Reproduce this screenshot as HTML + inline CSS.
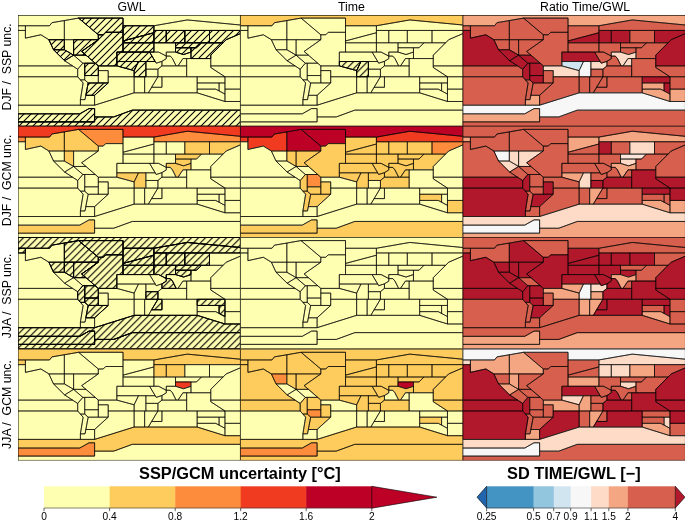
<!DOCTYPE html>
<html><head><meta charset="utf-8"><title>Uncertainty maps</title>
<style>
html,body{margin:0;padding:0;background:#fff;}
body{width:685px;height:524px;overflow:hidden;position:relative;font-family:"Liberation Sans",Arial,sans-serif;}
svg{position:absolute;left:0;top:0;display:block;}
text{font-family:"Liberation Sans",Arial,sans-serif;fill:#000;}
.t{font-size:12.3px;}
.b{font-size:16.35px;font-weight:bold;}
.k{font-size:10.2px;text-anchor:middle;}
.r polygon{stroke-width:0.4;}
.h polygon{stroke:none;}
.o{fill:none;stroke:#000;stroke-width:0.6;stroke-linejoin:round;}
.oh{fill:none;stroke:#000;stroke-width:1.0;stroke-linejoin:round;}
</style></head><body>
<svg width="685" height="524" viewBox="0 0 685 524">
<defs>
<pattern id="hp00" width="7" height="7" patternUnits="userSpaceOnUse" patternTransform="translate(-2,0)">
<path d="M-1,8 L8,-1 M-1,1 L1,-1 M6,8 L8,6" stroke="#000" stroke-width="1.1" fill="none"/>
</pattern>
<pattern id="hp01" width="7" height="7" patternUnits="userSpaceOnUse" patternTransform="translate(2.3,0)">
<path d="M-1,8 L8,-1 M-1,1 L1,-1 M6,8 L8,6" stroke="#000" stroke-width="1.1" fill="none"/>
</pattern>
<pattern id="hp20" width="7" height="7" patternUnits="userSpaceOnUse" patternTransform="translate(2.3,0)">
<path d="M-1,8 L8,-1 M-1,1 L1,-1 M6,8 L8,6" stroke="#000" stroke-width="1.1" fill="none"/>
</pattern>
</defs>
<rect x="0" y="0" width="685" height="524" fill="#fff"/>

<g class="r">
<polygon points="78.54,18.09 98.31,34.77 103.25,34.77 105.72,32.30 123.02,32.30 123.02,18.09" fill="#FFFFB2" stroke="#FFFFB2"/>
<polygon points="64.33,39.71 48.89,39.71 40.86,34.77 25.41,38.17 25.41,25.75 49.51,25.75 51.98,22.66 64.33,20.56" fill="#FFFFB2" stroke="#FFFFB2"/>
<polygon points="98.31,39.71 98.31,34.77 78.54,18.09 64.33,20.56 64.33,39.71" fill="#FFFFB2" stroke="#FFFFB2"/>
<polygon points="48.89,39.71 64.33,39.71 64.33,49.72 53.52,49.72" fill="#FFFFB2" stroke="#FFFFB2"/>
<polygon points="73.60,39.71 73.60,55.16 64.33,49.72 64.33,39.71" fill="#FFFFB2" stroke="#FFFFB2"/>
<polygon points="85.96,55.16 73.60,55.16 73.60,39.71 98.31,39.71 81.63,51.45" fill="#FFFFB2" stroke="#FFFFB2"/>
<polygon points="73.60,55.16 64.64,60.72 53.52,49.72 64.33,49.72" fill="#FFFFB2" stroke="#FFFFB2"/>
<polygon points="82.87,63.19 77.68,69.24 64.64,60.72 73.60,55.16" fill="#FFFFB2" stroke="#FFFFB2"/>
<polygon points="82.87,63.19 73.60,55.16 85.96,55.16 95.22,63.19" fill="#FFFFB2" stroke="#FFFFB2"/>
<polygon points="82.87,63.19 77.68,69.24 77.68,76.78 80.40,79.87 84.72,79.87 84.72,63.19" fill="#FFFFB2" stroke="#FFFFB2"/>
<polygon points="84.72,63.19 84.72,75.54 98.31,75.54 98.31,65.90 95.22,63.19" fill="#FFFFB2" stroke="#FFFFB2"/>
<polygon points="108.20,82.96 98.31,82.96 98.31,70.60 108.20,70.60" fill="#FFFFB2" stroke="#FFFFB2"/>
<polygon points="88.18,82.96 84.72,79.87 84.72,75.54 98.31,75.54 98.31,82.96" fill="#FFFFB2" stroke="#FFFFB2"/>
<polygon points="80.40,79.87 84.72,79.87 88.18,82.96 85.03,99.64 80.40,99.64 83.11,82.96" fill="#FFFFB2" stroke="#FFFFB2"/>
<polygon points="108.20,82.96 94.60,95.31 85.83,95.31 88.18,82.96" fill="#FFFFB2" stroke="#FFFFB2"/>
<polygon points="80.40,105.20 80.40,99.64 85.03,99.64 85.83,95.31 94.60,95.31 94.60,105.20" fill="#FFFFB2" stroke="#FFFFB2"/>
<polygon points="123.02,40.95 123.02,25.75 153.91,25.75 153.91,32.73" fill="#FFFFB2" stroke="#FFFFB2"/>
<polygon points="123.02,42.80 123.02,40.95 153.91,32.73 153.91,42.80" fill="#FFFFB2" stroke="#FFFFB2"/>
<polygon points="153.91,42.80 153.91,30.44 166.27,30.44 166.27,42.80" fill="#FFFFB2" stroke="#FFFFB2"/>
<polygon points="123.02,52.07 123.02,42.80 153.91,42.80 153.91,52.07" fill="#FFFFB2" stroke="#FFFFB2"/>
<polygon points="116.84,61.52 116.84,52.07 149.59,52.07 155.21,61.52" fill="#FFFFB2" stroke="#FFFFB2"/>
<polygon points="116.84,65.90 116.84,61.52 138.47,61.52 134.14,70.60" fill="#FFFFB2" stroke="#FFFFB2"/>
<polygon points="134.14,70.60 138.47,61.52 145.88,61.52 145.88,76.78 134.14,76.78" fill="#FFFFB2" stroke="#FFFFB2"/>
<polygon points="145.88,61.52 155.21,61.52 156.20,63.19 161.94,61.33 161.94,65.90 157.93,69.18 145.88,69.18" fill="#FFFFB2" stroke="#FFFFB2"/>
<polygon points="145.88,76.78 145.88,69.18 157.93,69.18 157.93,76.78" fill="#FFFFB2" stroke="#FFFFB2"/>
<polygon points="134.14,92.84 134.14,76.78 144.64,76.78 144.64,92.84" fill="#FFFFB2" stroke="#FFFFB2"/>
<polygon points="144.64,76.78 144.64,92.84 148.35,92.84 157.93,76.78" fill="#FFFFB2" stroke="#FFFFB2"/>
<polygon points="151.56,87.28 157.93,76.78 161.94,76.78 161.94,87.28" fill="#FFFFB2" stroke="#FFFFB2"/>
<polygon points="153.91,30.44 153.91,25.75 187.27,19.94 240.40,25.01 240.40,30.44" fill="#FFFFB2" stroke="#FFFFB2"/>
<polygon points="18.00,30.44 18.00,25.75 25.41,25.75 25.41,30.44" fill="#FFFFB2" stroke="#FFFFB2"/>
<polygon points="166.27,42.80 166.27,30.44 184.80,30.44 184.80,42.80" fill="#FFFFB2" stroke="#FFFFB2"/>
<polygon points="184.80,42.80 184.80,30.44 209.51,30.44 209.51,42.80" fill="#FFFFB2" stroke="#FFFFB2"/>
<polygon points="209.51,42.80 209.51,30.44 240.40,30.44 240.40,33.60 226.19,39.71 223.10,42.80" fill="#FFFFB2" stroke="#FFFFB2"/>
<polygon points="153.91,52.07 153.91,42.80 175.53,42.80 175.53,52.07 166.27,52.07 166.27,56.08 158.61,52.07" fill="#FFFFB2" stroke="#FFFFB2"/>
<polygon points="175.53,47.74 175.53,42.80 201.48,42.80 196.54,47.74" fill="#FFFFB2" stroke="#FFFFB2"/>
<polygon points="175.53,52.07 175.53,47.74 190.98,47.74 190.98,52.07 183.56,54.54" fill="#FFFFB2" stroke="#FFFFB2"/>
<polygon points="190.98,58.55 190.98,47.74 196.54,47.74 201.48,42.80 223.10,42.80 210.75,55.16 210.75,58.55" fill="#FFFFB2" stroke="#FFFFB2"/>
<polygon points="149.59,52.07 158.61,52.07 166.27,56.08 166.27,58.68 161.94,61.33 156.20,63.19 155.21,61.52" fill="#FFFFB2" stroke="#FFFFB2"/>
<polygon points="166.27,56.08 166.27,52.07 175.53,52.07 183.56,54.54 190.98,52.07 190.98,58.55 182.95,58.55 178.00,65.90 176.15,65.90 172.44,58.55 170.28,56.08" fill="#FFFFB2" stroke="#FFFFB2"/>
<polygon points="186.65,76.78 186.65,58.55 210.75,58.55 210.75,67.51 224.96,76.78" fill="#FFFFB2" stroke="#FFFFB2"/>
<polygon points="197.16,82.96 197.16,76.78 224.96,76.78 224.96,82.96" fill="#FFFFB2" stroke="#FFFFB2"/>
<polygon points="197.16,89.13 197.16,82.96 219.09,82.96 219.09,90.92 215.69,89.13" fill="#FFFFB2" stroke="#FFFFB2"/>
<polygon points="219.09,82.96 224.96,82.96 224.96,94.08 219.09,90.92" fill="#FFFFB2" stroke="#FFFFB2"/>
<polygon points="197.16,92.84 197.16,89.13 215.69,89.13 224.96,94.08 224.96,101.49" fill="#FFFFB2" stroke="#FFFFB2"/>
<polygon points="224.96,89.13 224.96,101.49 240.40,101.49 240.40,89.13" fill="#FFFFB2" stroke="#FFFFB2"/>
<polygon points="18.00,121.88 94.60,121.88 94.60,116.93 113.76,116.93 132.29,110.14 240.40,110.14 240.40,126.20 18.00,126.20" fill="#FFFFB2" stroke="#FFFFB2"/>
<polygon points="18.00,121.88 18.00,113.84 79.78,113.84 89.04,108.59 94.60,108.59 94.60,121.88" fill="#FFFFB2" stroke="#FFFFB2"/>
<polygon points="18.00,25.75 49.51,25.75 51.98,22.66 64.33,20.56 78.54,18.09 123.02,18.09 123.02,25.75 153.91,25.75 187.27,19.94 240.40,25.01 240.40,15.00 18.00,15.00" fill="#FFFFB2" stroke="#FFFFB2"/>
<polygon points="210.75,65.90 210.75,55.16 223.10,42.80 226.19,39.71 240.40,33.60 240.40,65.90" fill="#FFFFB2" stroke="#FFFFB2"/>
<polygon points="18.00,65.90 18.00,30.44 25.41,30.44 25.41,38.17 40.86,34.77 48.89,39.71 53.52,49.72 64.64,60.72 72.55,65.90" fill="#FFFFB2" stroke="#FFFFB2"/>
<polygon points="210.75,65.90 240.40,65.90 240.40,76.78 224.96,76.78 210.75,67.51" fill="#FFFFB2" stroke="#FFFFB2"/>
<polygon points="18.00,65.90 72.55,65.90 77.68,69.24 77.68,76.78 18.00,76.78" fill="#FFFFB2" stroke="#FFFFB2"/>
<polygon points="224.96,76.78 240.40,76.78 240.40,89.13 224.96,89.13" fill="#FFFFB2" stroke="#FFFFB2"/>
<polygon points="18.00,76.78 77.68,76.78 80.40,79.87 83.11,82.96 80.40,99.64 80.40,105.20 18.00,105.20" fill="#FFFFB2" stroke="#FFFFB2"/>
<polygon points="123.02,52.07 123.02,32.30 105.72,32.30 103.25,34.77 98.31,34.77 98.31,39.71 81.63,51.45 85.96,55.16 95.22,63.19 98.31,65.90 116.84,65.90 116.84,52.07" fill="#FFFFB2" stroke="#FFFFB2"/>
<polygon points="98.31,65.90 98.31,70.60 108.20,70.60 108.20,76.78 134.14,76.78 134.14,70.60 116.84,65.90" fill="#FFFFB2" stroke="#FFFFB2"/>
<polygon points="108.20,76.78 108.20,82.96 94.60,95.31 94.60,105.20 134.14,92.84 134.14,76.78" fill="#FFFFB2" stroke="#FFFFB2"/>
<polygon points="161.94,65.90 161.94,61.33 166.27,58.68 166.27,56.08 170.28,56.08 172.44,58.55 176.15,65.90" fill="#FFFFB2" stroke="#FFFFB2"/>
<polygon points="178.00,65.90 182.95,58.55 186.65,58.55 186.65,65.90" fill="#FFFFB2" stroke="#FFFFB2"/>
<polygon points="157.93,76.78 157.93,69.18 161.94,65.90 186.65,65.90 186.65,76.78" fill="#FFFFB2" stroke="#FFFFB2"/>
<polygon points="148.35,92.84 151.56,87.28 161.94,87.28 161.94,76.78 197.16,76.78 197.16,92.84" fill="#FFFFB2" stroke="#FFFFB2"/>
<polygon points="18.00,105.20 94.60,105.20 134.14,92.84 197.16,92.84 224.96,101.49 240.40,101.49 240.40,110.14 132.29,110.14 113.76,116.93 94.60,116.93 94.60,108.59 89.04,108.59 79.78,113.84 18.00,113.84" fill="#FFFFB2" stroke="#FFFFB2"/>
</g>
<g class="h" fill="url(#hp00)">
<polygon points="78.54,18.09 98.31,34.77 103.25,34.77 105.72,32.30 123.02,32.30 123.02,18.09"/>
<polygon points="48.89,39.71 64.33,39.71 64.33,49.72 53.52,49.72"/>
<polygon points="85.96,55.16 73.60,55.16 73.60,39.71 98.31,39.71 81.63,51.45"/>
<polygon points="73.60,55.16 64.64,60.72 53.52,49.72 64.33,49.72"/>
<polygon points="123.02,52.07 123.02,32.30 105.72,32.30 103.25,34.77 98.31,34.77 98.31,39.71 81.63,51.45 85.96,55.16 95.22,63.19 98.31,65.90 116.84,65.90 116.84,52.07"/>
<polygon points="84.72,63.19 84.72,75.54 98.31,75.54 98.31,65.90 95.22,63.19"/>
<polygon points="108.20,82.96 94.60,95.31 85.83,95.31 88.18,82.96"/>
<polygon points="123.02,40.95 123.02,25.75 153.91,25.75 153.91,32.73"/>
<polygon points="123.02,42.80 123.02,40.95 153.91,32.73 153.91,42.80"/>
<polygon points="123.02,52.07 123.02,42.80 153.91,42.80 153.91,52.07"/>
<polygon points="116.84,61.52 116.84,52.07 149.59,52.07 155.21,61.52"/>
<polygon points="116.84,65.90 116.84,61.52 138.47,61.52 134.14,70.60"/>
<polygon points="134.14,70.60 138.47,61.52 145.88,61.52 145.88,76.78 134.14,76.78"/>
<polygon points="153.91,42.80 153.91,30.44 166.27,30.44 166.27,42.80"/>
<polygon points="166.27,42.80 166.27,30.44 184.80,30.44 184.80,42.80"/>
<polygon points="184.80,42.80 184.80,30.44 209.51,30.44 209.51,42.80"/>
<polygon points="209.51,42.80 209.51,30.44 240.40,30.44 240.40,33.60 226.19,39.71 223.10,42.80"/>
<polygon points="175.53,47.74 175.53,42.80 201.48,42.80 196.54,47.74"/>
<polygon points="175.53,52.07 175.53,47.74 190.98,47.74 190.98,52.07 183.56,54.54"/>
<polygon points="190.98,58.55 190.98,47.74 196.54,47.74 201.48,42.80 223.10,42.80 210.75,55.16 210.75,58.55"/>
<polygon points="18.00,121.88 18.00,113.84 79.78,113.84 89.04,108.59 94.60,108.59 94.60,121.88"/>
<polygon points="18.00,121.88 94.60,121.88 94.60,116.93 113.76,116.93 132.29,110.14 240.40,110.14 240.40,126.20 18.00,126.20"/>
</g>
<path class="o" d="M78.54,18.09 L98.31,34.77 L103.25,34.77 L105.72,32.30 L123.02,32.30 L123.02,18.09ZM64.33,39.71 L48.89,39.71 L40.86,34.77 L25.41,38.17 L25.41,25.75 L49.51,25.75 L51.98,22.66 L64.33,20.56ZM98.31,39.71 L98.31,34.77 L78.54,18.09 L64.33,20.56 L64.33,39.71ZM48.89,39.71 L64.33,39.71 L64.33,49.72 L53.52,49.72ZM73.60,39.71 L73.60,55.16 L64.33,49.72 L64.33,39.71ZM85.96,55.16 L73.60,55.16 L73.60,39.71 L98.31,39.71 L81.63,51.45ZM73.60,55.16 L64.64,60.72 L53.52,49.72 L64.33,49.72ZM82.87,63.19 L77.68,69.24 L64.64,60.72 L73.60,55.16ZM82.87,63.19 L73.60,55.16 L85.96,55.16 L95.22,63.19ZM82.87,63.19 L77.68,69.24 L77.68,76.78 L80.40,79.87 L84.72,79.87 L84.72,63.19ZM84.72,63.19 L84.72,75.54 L98.31,75.54 L98.31,65.90 L95.22,63.19ZM108.20,82.96 L98.31,82.96 L98.31,70.60 L108.20,70.60ZM88.18,82.96 L84.72,79.87 L84.72,75.54 L98.31,75.54 L98.31,82.96ZM80.40,79.87 L84.72,79.87 L88.18,82.96 L85.03,99.64 L80.40,99.64 L83.11,82.96ZM108.20,82.96 L94.60,95.31 L85.83,95.31 L88.18,82.96ZM80.40,105.20 L80.40,99.64 L85.03,99.64 L85.83,95.31 L94.60,95.31 L94.60,105.20ZM123.02,40.95 L123.02,25.75 L153.91,25.75 L153.91,32.73ZM123.02,42.80 L123.02,40.95 L153.91,32.73 L153.91,42.80ZM153.91,42.80 L153.91,30.44 L166.27,30.44 L166.27,42.80ZM123.02,52.07 L123.02,42.80 L153.91,42.80 L153.91,52.07ZM116.84,61.52 L116.84,52.07 L149.59,52.07 L155.21,61.52ZM116.84,65.90 L116.84,61.52 L138.47,61.52 L134.14,70.60ZM134.14,70.60 L138.47,61.52 L145.88,61.52 L145.88,76.78 L134.14,76.78ZM145.88,61.52 L155.21,61.52 L156.20,63.19 L161.94,61.33 L161.94,65.90 L157.93,69.18 L145.88,69.18ZM145.88,76.78 L145.88,69.18 L157.93,69.18 L157.93,76.78ZM134.14,92.84 L134.14,76.78 L144.64,76.78 L144.64,92.84ZM144.64,76.78 L144.64,92.84 L148.35,92.84 L157.93,76.78ZM151.56,87.28 L157.93,76.78 L161.94,76.78 L161.94,87.28ZM153.91,30.44 L153.91,25.75 L187.27,19.94 L240.40,25.01 L240.40,30.44ZM18.00,30.44 L18.00,25.75 L25.41,25.75 L25.41,30.44ZM166.27,42.80 L166.27,30.44 L184.80,30.44 L184.80,42.80ZM184.80,42.80 L184.80,30.44 L209.51,30.44 L209.51,42.80ZM209.51,42.80 L209.51,30.44 L240.40,30.44 L240.40,33.60 L226.19,39.71 L223.10,42.80ZM153.91,52.07 L153.91,42.80 L175.53,42.80 L175.53,52.07 L166.27,52.07 L166.27,56.08 L158.61,52.07ZM175.53,47.74 L175.53,42.80 L201.48,42.80 L196.54,47.74ZM175.53,52.07 L175.53,47.74 L190.98,47.74 L190.98,52.07 L183.56,54.54ZM190.98,58.55 L190.98,47.74 L196.54,47.74 L201.48,42.80 L223.10,42.80 L210.75,55.16 L210.75,58.55ZM149.59,52.07 L158.61,52.07 L166.27,56.08 L166.27,58.68 L161.94,61.33 L156.20,63.19 L155.21,61.52ZM166.27,56.08 L166.27,52.07 L175.53,52.07 L183.56,54.54 L190.98,52.07 L190.98,58.55 L182.95,58.55 L178.00,65.90 L176.15,65.90 L172.44,58.55 L170.28,56.08ZM186.65,76.78 L186.65,58.55 L210.75,58.55 L210.75,67.51 L224.96,76.78ZM197.16,82.96 L197.16,76.78 L224.96,76.78 L224.96,82.96ZM197.16,89.13 L197.16,82.96 L219.09,82.96 L219.09,90.92 L215.69,89.13ZM219.09,82.96 L224.96,82.96 L224.96,94.08 L219.09,90.92ZM197.16,92.84 L197.16,89.13 L215.69,89.13 L224.96,94.08 L224.96,101.49ZM224.96,89.13 L224.96,101.49 L240.40,101.49 L240.40,89.13ZM18.00,121.88 L94.60,121.88 L94.60,116.93 L113.76,116.93 L132.29,110.14 L240.40,110.14 L240.40,126.20 L18.00,126.20ZM18.00,121.88 L18.00,113.84 L79.78,113.84 L89.04,108.59 L94.60,108.59 L94.60,121.88ZM18.00,25.75 L49.51,25.75 L51.98,22.66 L64.33,20.56 L78.54,18.09 L123.02,18.09 L123.02,25.75 L153.91,25.75 L187.27,19.94 L240.40,25.01 L240.40,15.00 L18.00,15.00ZM210.75,65.90 L210.75,55.16 L223.10,42.80 L226.19,39.71 L240.40,33.60 L240.40,65.90ZM18.00,65.90 L18.00,30.44 L25.41,30.44 L25.41,38.17 L40.86,34.77 L48.89,39.71 L53.52,49.72 L64.64,60.72 L72.55,65.90ZM210.75,65.90 L240.40,65.90 L240.40,76.78 L224.96,76.78 L210.75,67.51ZM18.00,65.90 L72.55,65.90 L77.68,69.24 L77.68,76.78 L18.00,76.78ZM224.96,76.78 L240.40,76.78 L240.40,89.13 L224.96,89.13ZM18.00,76.78 L77.68,76.78 L80.40,79.87 L83.11,82.96 L80.40,99.64 L80.40,105.20 L18.00,105.20ZM123.02,52.07 L123.02,32.30 L105.72,32.30 L103.25,34.77 L98.31,34.77 L98.31,39.71 L81.63,51.45 L85.96,55.16 L95.22,63.19 L98.31,65.90 L116.84,65.90 L116.84,52.07ZM98.31,65.90 L98.31,70.60 L108.20,70.60 L108.20,76.78 L134.14,76.78 L134.14,70.60 L116.84,65.90ZM108.20,76.78 L108.20,82.96 L94.60,95.31 L94.60,105.20 L134.14,92.84 L134.14,76.78ZM161.94,65.90 L161.94,61.33 L166.27,58.68 L166.27,56.08 L170.28,56.08 L172.44,58.55 L176.15,65.90ZM178.00,65.90 L182.95,58.55 L186.65,58.55 L186.65,65.90ZM157.93,76.78 L157.93,69.18 L161.94,65.90 L186.65,65.90 L186.65,76.78ZM148.35,92.84 L151.56,87.28 L161.94,87.28 L161.94,76.78 L197.16,76.78 L197.16,92.84ZM18.00,105.20 L94.60,105.20 L134.14,92.84 L197.16,92.84 L224.96,101.49 L240.40,101.49 L240.40,110.14 L132.29,110.14 L113.76,116.93 L94.60,116.93 L94.60,108.59 L89.04,108.59 L79.78,113.84 L18.00,113.84Z"/>
<path class="oh" d="M78.54,18.09 L98.31,34.77 L103.25,34.77 L105.72,32.30 L123.02,32.30 L123.02,18.09ZM48.89,39.71 L64.33,39.71 L64.33,49.72 L53.52,49.72ZM85.96,55.16 L73.60,55.16 L73.60,39.71 L98.31,39.71 L81.63,51.45ZM73.60,55.16 L64.64,60.72 L53.52,49.72 L64.33,49.72ZM123.02,52.07 L123.02,32.30 L105.72,32.30 L103.25,34.77 L98.31,34.77 L98.31,39.71 L81.63,51.45 L85.96,55.16 L95.22,63.19 L98.31,65.90 L116.84,65.90 L116.84,52.07ZM84.72,63.19 L84.72,75.54 L98.31,75.54 L98.31,65.90 L95.22,63.19ZM108.20,82.96 L94.60,95.31 L85.83,95.31 L88.18,82.96ZM123.02,40.95 L123.02,25.75 L153.91,25.75 L153.91,32.73ZM123.02,42.80 L123.02,40.95 L153.91,32.73 L153.91,42.80ZM123.02,52.07 L123.02,42.80 L153.91,42.80 L153.91,52.07ZM116.84,61.52 L116.84,52.07 L149.59,52.07 L155.21,61.52ZM116.84,65.90 L116.84,61.52 L138.47,61.52 L134.14,70.60ZM134.14,70.60 L138.47,61.52 L145.88,61.52 L145.88,76.78 L134.14,76.78ZM153.91,42.80 L153.91,30.44 L166.27,30.44 L166.27,42.80ZM166.27,42.80 L166.27,30.44 L184.80,30.44 L184.80,42.80ZM184.80,42.80 L184.80,30.44 L209.51,30.44 L209.51,42.80ZM209.51,42.80 L209.51,30.44 L240.40,30.44 L240.40,33.60 L226.19,39.71 L223.10,42.80ZM175.53,47.74 L175.53,42.80 L201.48,42.80 L196.54,47.74ZM175.53,52.07 L175.53,47.74 L190.98,47.74 L190.98,52.07 L183.56,54.54ZM190.98,58.55 L190.98,47.74 L196.54,47.74 L201.48,42.80 L223.10,42.80 L210.75,55.16 L210.75,58.55ZM18.00,121.88 L18.00,113.84 L79.78,113.84 L89.04,108.59 L94.60,108.59 L94.60,121.88ZM18.00,121.88 L94.60,121.88 L94.60,116.93 L113.76,116.93 L132.29,110.14 L240.40,110.14 L240.40,126.20 L18.00,126.20Z"/>
<g class="r">
<polygon points="301.04,18.09 320.81,34.77 325.75,34.77 328.22,32.30 345.52,32.30 345.52,18.09" fill="#FFFFB2" stroke="#FFFFB2"/>
<polygon points="286.83,39.71 271.39,39.71 263.36,34.77 247.91,38.17 247.91,25.75 272.01,25.75 274.48,22.66 286.83,20.56" fill="#FFFFB2" stroke="#FFFFB2"/>
<polygon points="320.81,39.71 320.81,34.77 301.04,18.09 286.83,20.56 286.83,39.71" fill="#FFFFB2" stroke="#FFFFB2"/>
<polygon points="271.39,39.71 286.83,39.71 286.83,49.72 276.02,49.72" fill="#FFFFB2" stroke="#FFFFB2"/>
<polygon points="296.10,39.71 296.10,55.16 286.83,49.72 286.83,39.71" fill="#FFFFB2" stroke="#FFFFB2"/>
<polygon points="308.46,55.16 296.10,55.16 296.10,39.71 320.81,39.71 304.13,51.45" fill="#FFFFB2" stroke="#FFFFB2"/>
<polygon points="296.10,55.16 287.14,60.72 276.02,49.72 286.83,49.72" fill="#FFFFB2" stroke="#FFFFB2"/>
<polygon points="305.37,63.19 300.18,69.24 287.14,60.72 296.10,55.16" fill="#FFFFB2" stroke="#FFFFB2"/>
<polygon points="305.37,63.19 296.10,55.16 308.46,55.16 317.72,63.19" fill="#FFFFB2" stroke="#FFFFB2"/>
<polygon points="305.37,63.19 300.18,69.24 300.18,76.78 302.90,79.87 307.22,79.87 307.22,63.19" fill="#FFFFB2" stroke="#FFFFB2"/>
<polygon points="307.22,63.19 307.22,75.54 320.81,75.54 320.81,65.90 317.72,63.19" fill="#FFFFB2" stroke="#FFFFB2"/>
<polygon points="330.70,82.96 320.81,82.96 320.81,70.60 330.70,70.60" fill="#FFFFB2" stroke="#FFFFB2"/>
<polygon points="310.68,82.96 307.22,79.87 307.22,75.54 320.81,75.54 320.81,82.96" fill="#FFFFB2" stroke="#FFFFB2"/>
<polygon points="302.90,79.87 307.22,79.87 310.68,82.96 307.53,99.64 302.90,99.64 305.61,82.96" fill="#FFFFB2" stroke="#FFFFB2"/>
<polygon points="330.70,82.96 317.10,95.31 308.33,95.31 310.68,82.96" fill="#FFFFB2" stroke="#FFFFB2"/>
<polygon points="302.90,105.20 302.90,99.64 307.53,99.64 308.33,95.31 317.10,95.31 317.10,105.20" fill="#FFFFB2" stroke="#FFFFB2"/>
<polygon points="345.52,40.95 345.52,25.75 376.41,25.75 376.41,32.73" fill="#FFFFB2" stroke="#FFFFB2"/>
<polygon points="345.52,42.80 345.52,40.95 376.41,32.73 376.41,42.80" fill="#FFFFB2" stroke="#FFFFB2"/>
<polygon points="376.41,42.80 376.41,30.44 388.77,30.44 388.77,42.80" fill="#FFFFB2" stroke="#FFFFB2"/>
<polygon points="345.52,52.07 345.52,42.80 376.41,42.80 376.41,52.07" fill="#FFFFB2" stroke="#FFFFB2"/>
<polygon points="339.34,61.52 339.34,52.07 372.09,52.07 377.71,61.52" fill="#FFFFB2" stroke="#FFFFB2"/>
<polygon points="339.34,65.90 339.34,61.52 360.97,61.52 356.64,70.60" fill="#FFFFB2" stroke="#FFFFB2"/>
<polygon points="356.64,70.60 360.97,61.52 368.38,61.52 368.38,76.78 356.64,76.78" fill="#FFFFB2" stroke="#FFFFB2"/>
<polygon points="368.38,61.52 377.71,61.52 378.70,63.19 384.44,61.33 384.44,65.90 380.43,69.18 368.38,69.18" fill="#FFFFB2" stroke="#FFFFB2"/>
<polygon points="368.38,76.78 368.38,69.18 380.43,69.18 380.43,76.78" fill="#FFFFB2" stroke="#FFFFB2"/>
<polygon points="356.64,92.84 356.64,76.78 367.14,76.78 367.14,92.84" fill="#FFFFB2" stroke="#FFFFB2"/>
<polygon points="367.14,76.78 367.14,92.84 370.85,92.84 380.43,76.78" fill="#FFFFB2" stroke="#FFFFB2"/>
<polygon points="374.06,87.28 380.43,76.78 384.44,76.78 384.44,87.28" fill="#FFFFB2" stroke="#FFFFB2"/>
<polygon points="376.41,30.44 376.41,25.75 409.77,19.94 462.90,25.01 462.90,30.44" fill="#FFFFB2" stroke="#FFFFB2"/>
<polygon points="240.50,30.44 240.50,25.75 247.91,25.75 247.91,30.44" fill="#FFFFB2" stroke="#FFFFB2"/>
<polygon points="388.77,42.80 388.77,30.44 407.30,30.44 407.30,42.80" fill="#FFFFB2" stroke="#FFFFB2"/>
<polygon points="407.30,42.80 407.30,30.44 432.01,30.44 432.01,42.80" fill="#FFFFB2" stroke="#FFFFB2"/>
<polygon points="432.01,42.80 432.01,30.44 462.90,30.44 462.90,33.60 448.69,39.71 445.60,42.80" fill="#FFFFB2" stroke="#FFFFB2"/>
<polygon points="376.41,52.07 376.41,42.80 398.03,42.80 398.03,52.07 388.77,52.07 388.77,56.08 381.11,52.07" fill="#FFFFB2" stroke="#FFFFB2"/>
<polygon points="398.03,47.74 398.03,42.80 423.98,42.80 419.04,47.74" fill="#FFFFB2" stroke="#FFFFB2"/>
<polygon points="398.03,52.07 398.03,47.74 413.48,47.74 413.48,52.07 406.06,54.54" fill="#FFFFB2" stroke="#FFFFB2"/>
<polygon points="413.48,58.55 413.48,47.74 419.04,47.74 423.98,42.80 445.60,42.80 433.25,55.16 433.25,58.55" fill="#FFFFB2" stroke="#FFFFB2"/>
<polygon points="372.09,52.07 381.11,52.07 388.77,56.08 388.77,58.68 384.44,61.33 378.70,63.19 377.71,61.52" fill="#FFFFB2" stroke="#FFFFB2"/>
<polygon points="388.77,56.08 388.77,52.07 398.03,52.07 406.06,54.54 413.48,52.07 413.48,58.55 405.45,58.55 400.50,65.90 398.65,65.90 394.94,58.55 392.78,56.08" fill="#FFFFB2" stroke="#FFFFB2"/>
<polygon points="409.15,76.78 409.15,58.55 433.25,58.55 433.25,67.51 447.46,76.78" fill="#FFFFB2" stroke="#FFFFB2"/>
<polygon points="419.66,82.96 419.66,76.78 447.46,76.78 447.46,82.96" fill="#FFFFB2" stroke="#FFFFB2"/>
<polygon points="419.66,89.13 419.66,82.96 441.59,82.96 441.59,90.92 438.19,89.13" fill="#FFFFB2" stroke="#FFFFB2"/>
<polygon points="441.59,82.96 447.46,82.96 447.46,94.08 441.59,90.92" fill="#FFFFB2" stroke="#FFFFB2"/>
<polygon points="419.66,92.84 419.66,89.13 438.19,89.13 447.46,94.08 447.46,101.49" fill="#FFFFB2" stroke="#FFFFB2"/>
<polygon points="447.46,89.13 447.46,101.49 462.90,101.49 462.90,89.13" fill="#FFFFB2" stroke="#FFFFB2"/>
<polygon points="240.50,121.88 317.10,121.88 317.10,116.93 336.26,116.93 354.79,110.14 462.90,110.14 462.90,126.20 240.50,126.20" fill="#FFFFB2" stroke="#FFFFB2"/>
<polygon points="240.50,121.88 240.50,113.84 302.28,113.84 311.54,108.59 317.10,108.59 317.10,121.88" fill="#FFFFB2" stroke="#FFFFB2"/>
<polygon points="240.50,25.75 272.01,25.75 274.48,22.66 286.83,20.56 301.04,18.09 345.52,18.09 345.52,25.75 376.41,25.75 409.77,19.94 462.90,25.01 462.90,15.00 240.50,15.00" fill="#FECC5C" stroke="#FECC5C"/>
<polygon points="433.25,65.90 433.25,55.16 445.60,42.80 448.69,39.71 462.90,33.60 462.90,65.90" fill="#FFFFB2" stroke="#FFFFB2"/>
<polygon points="240.50,65.90 240.50,30.44 247.91,30.44 247.91,38.17 263.36,34.77 271.39,39.71 276.02,49.72 287.14,60.72 295.05,65.90" fill="#FFFFB2" stroke="#FFFFB2"/>
<polygon points="433.25,65.90 462.90,65.90 462.90,76.78 447.46,76.78 433.25,67.51" fill="#FFFFB2" stroke="#FFFFB2"/>
<polygon points="240.50,65.90 295.05,65.90 300.18,69.24 300.18,76.78 240.50,76.78" fill="#FFFFB2" stroke="#FFFFB2"/>
<polygon points="447.46,76.78 462.90,76.78 462.90,89.13 447.46,89.13" fill="#FFFFB2" stroke="#FFFFB2"/>
<polygon points="240.50,76.78 300.18,76.78 302.90,79.87 305.61,82.96 302.90,99.64 302.90,105.20 240.50,105.20" fill="#FFFFB2" stroke="#FFFFB2"/>
<polygon points="345.52,52.07 345.52,32.30 328.22,32.30 325.75,34.77 320.81,34.77 320.81,39.71 304.13,51.45 308.46,55.16 317.72,63.19 320.81,65.90 339.34,65.90 339.34,52.07" fill="#FFFFB2" stroke="#FFFFB2"/>
<polygon points="320.81,65.90 320.81,70.60 330.70,70.60 330.70,76.78 356.64,76.78 356.64,70.60 339.34,65.90" fill="#FFFFB2" stroke="#FFFFB2"/>
<polygon points="330.70,76.78 330.70,82.96 317.10,95.31 317.10,105.20 356.64,92.84 356.64,76.78" fill="#FFFFB2" stroke="#FFFFB2"/>
<polygon points="384.44,65.90 384.44,61.33 388.77,58.68 388.77,56.08 392.78,56.08 394.94,58.55 398.65,65.90" fill="#FFFFB2" stroke="#FFFFB2"/>
<polygon points="400.50,65.90 405.45,58.55 409.15,58.55 409.15,65.90" fill="#FFFFB2" stroke="#FFFFB2"/>
<polygon points="380.43,76.78 380.43,69.18 384.44,65.90 409.15,65.90 409.15,76.78" fill="#FFFFB2" stroke="#FFFFB2"/>
<polygon points="370.85,92.84 374.06,87.28 384.44,87.28 384.44,76.78 419.66,76.78 419.66,92.84" fill="#FFFFB2" stroke="#FFFFB2"/>
<polygon points="240.50,105.20 317.10,105.20 356.64,92.84 419.66,92.84 447.46,101.49 462.90,101.49 462.90,110.14 354.79,110.14 336.26,116.93 317.10,116.93 317.10,108.59 311.54,108.59 302.28,113.84 240.50,113.84" fill="#FFFFB2" stroke="#FFFFB2"/>
</g>
<g class="h" fill="url(#hp01)">
<polygon points="339.34,65.90 339.34,61.52 360.97,61.52 356.64,70.60"/>
<polygon points="356.64,70.60 360.97,61.52 368.38,61.52 368.38,76.78 356.64,76.78"/>
</g>
<path class="o" d="M301.04,18.09 L320.81,34.77 L325.75,34.77 L328.22,32.30 L345.52,32.30 L345.52,18.09ZM286.83,39.71 L271.39,39.71 L263.36,34.77 L247.91,38.17 L247.91,25.75 L272.01,25.75 L274.48,22.66 L286.83,20.56ZM320.81,39.71 L320.81,34.77 L301.04,18.09 L286.83,20.56 L286.83,39.71ZM271.39,39.71 L286.83,39.71 L286.83,49.72 L276.02,49.72ZM296.10,39.71 L296.10,55.16 L286.83,49.72 L286.83,39.71ZM308.46,55.16 L296.10,55.16 L296.10,39.71 L320.81,39.71 L304.13,51.45ZM296.10,55.16 L287.14,60.72 L276.02,49.72 L286.83,49.72ZM305.37,63.19 L300.18,69.24 L287.14,60.72 L296.10,55.16ZM305.37,63.19 L296.10,55.16 L308.46,55.16 L317.72,63.19ZM305.37,63.19 L300.18,69.24 L300.18,76.78 L302.90,79.87 L307.22,79.87 L307.22,63.19ZM307.22,63.19 L307.22,75.54 L320.81,75.54 L320.81,65.90 L317.72,63.19ZM330.70,82.96 L320.81,82.96 L320.81,70.60 L330.70,70.60ZM310.68,82.96 L307.22,79.87 L307.22,75.54 L320.81,75.54 L320.81,82.96ZM302.90,79.87 L307.22,79.87 L310.68,82.96 L307.53,99.64 L302.90,99.64 L305.61,82.96ZM330.70,82.96 L317.10,95.31 L308.33,95.31 L310.68,82.96ZM302.90,105.20 L302.90,99.64 L307.53,99.64 L308.33,95.31 L317.10,95.31 L317.10,105.20ZM345.52,40.95 L345.52,25.75 L376.41,25.75 L376.41,32.73ZM345.52,42.80 L345.52,40.95 L376.41,32.73 L376.41,42.80ZM376.41,42.80 L376.41,30.44 L388.77,30.44 L388.77,42.80ZM345.52,52.07 L345.52,42.80 L376.41,42.80 L376.41,52.07ZM339.34,61.52 L339.34,52.07 L372.09,52.07 L377.71,61.52ZM339.34,65.90 L339.34,61.52 L360.97,61.52 L356.64,70.60ZM356.64,70.60 L360.97,61.52 L368.38,61.52 L368.38,76.78 L356.64,76.78ZM368.38,61.52 L377.71,61.52 L378.70,63.19 L384.44,61.33 L384.44,65.90 L380.43,69.18 L368.38,69.18ZM368.38,76.78 L368.38,69.18 L380.43,69.18 L380.43,76.78ZM356.64,92.84 L356.64,76.78 L367.14,76.78 L367.14,92.84ZM367.14,76.78 L367.14,92.84 L370.85,92.84 L380.43,76.78ZM374.06,87.28 L380.43,76.78 L384.44,76.78 L384.44,87.28ZM376.41,30.44 L376.41,25.75 L409.77,19.94 L462.90,25.01 L462.90,30.44ZM240.50,30.44 L240.50,25.75 L247.91,25.75 L247.91,30.44ZM388.77,42.80 L388.77,30.44 L407.30,30.44 L407.30,42.80ZM407.30,42.80 L407.30,30.44 L432.01,30.44 L432.01,42.80ZM432.01,42.80 L432.01,30.44 L462.90,30.44 L462.90,33.60 L448.69,39.71 L445.60,42.80ZM376.41,52.07 L376.41,42.80 L398.03,42.80 L398.03,52.07 L388.77,52.07 L388.77,56.08 L381.11,52.07ZM398.03,47.74 L398.03,42.80 L423.98,42.80 L419.04,47.74ZM398.03,52.07 L398.03,47.74 L413.48,47.74 L413.48,52.07 L406.06,54.54ZM413.48,58.55 L413.48,47.74 L419.04,47.74 L423.98,42.80 L445.60,42.80 L433.25,55.16 L433.25,58.55ZM372.09,52.07 L381.11,52.07 L388.77,56.08 L388.77,58.68 L384.44,61.33 L378.70,63.19 L377.71,61.52ZM388.77,56.08 L388.77,52.07 L398.03,52.07 L406.06,54.54 L413.48,52.07 L413.48,58.55 L405.45,58.55 L400.50,65.90 L398.65,65.90 L394.94,58.55 L392.78,56.08ZM409.15,76.78 L409.15,58.55 L433.25,58.55 L433.25,67.51 L447.46,76.78ZM419.66,82.96 L419.66,76.78 L447.46,76.78 L447.46,82.96ZM419.66,89.13 L419.66,82.96 L441.59,82.96 L441.59,90.92 L438.19,89.13ZM441.59,82.96 L447.46,82.96 L447.46,94.08 L441.59,90.92ZM419.66,92.84 L419.66,89.13 L438.19,89.13 L447.46,94.08 L447.46,101.49ZM447.46,89.13 L447.46,101.49 L462.90,101.49 L462.90,89.13ZM240.50,121.88 L317.10,121.88 L317.10,116.93 L336.26,116.93 L354.79,110.14 L462.90,110.14 L462.90,126.20 L240.50,126.20ZM240.50,121.88 L240.50,113.84 L302.28,113.84 L311.54,108.59 L317.10,108.59 L317.10,121.88ZM240.50,25.75 L272.01,25.75 L274.48,22.66 L286.83,20.56 L301.04,18.09 L345.52,18.09 L345.52,25.75 L376.41,25.75 L409.77,19.94 L462.90,25.01 L462.90,15.00 L240.50,15.00ZM433.25,65.90 L433.25,55.16 L445.60,42.80 L448.69,39.71 L462.90,33.60 L462.90,65.90ZM240.50,65.90 L240.50,30.44 L247.91,30.44 L247.91,38.17 L263.36,34.77 L271.39,39.71 L276.02,49.72 L287.14,60.72 L295.05,65.90ZM433.25,65.90 L462.90,65.90 L462.90,76.78 L447.46,76.78 L433.25,67.51ZM240.50,65.90 L295.05,65.90 L300.18,69.24 L300.18,76.78 L240.50,76.78ZM447.46,76.78 L462.90,76.78 L462.90,89.13 L447.46,89.13ZM240.50,76.78 L300.18,76.78 L302.90,79.87 L305.61,82.96 L302.90,99.64 L302.90,105.20 L240.50,105.20ZM345.52,52.07 L345.52,32.30 L328.22,32.30 L325.75,34.77 L320.81,34.77 L320.81,39.71 L304.13,51.45 L308.46,55.16 L317.72,63.19 L320.81,65.90 L339.34,65.90 L339.34,52.07ZM320.81,65.90 L320.81,70.60 L330.70,70.60 L330.70,76.78 L356.64,76.78 L356.64,70.60 L339.34,65.90ZM330.70,76.78 L330.70,82.96 L317.10,95.31 L317.10,105.20 L356.64,92.84 L356.64,76.78ZM384.44,65.90 L384.44,61.33 L388.77,58.68 L388.77,56.08 L392.78,56.08 L394.94,58.55 L398.65,65.90ZM400.50,65.90 L405.45,58.55 L409.15,58.55 L409.15,65.90ZM380.43,76.78 L380.43,69.18 L384.44,65.90 L409.15,65.90 L409.15,76.78ZM370.85,92.84 L374.06,87.28 L384.44,87.28 L384.44,76.78 L419.66,76.78 L419.66,92.84ZM240.50,105.20 L317.10,105.20 L356.64,92.84 L419.66,92.84 L447.46,101.49 L462.90,101.49 L462.90,110.14 L354.79,110.14 L336.26,116.93 L317.10,116.93 L317.10,108.59 L311.54,108.59 L302.28,113.84 L240.50,113.84Z"/>
<path class="oh" d="M339.34,65.90 L339.34,61.52 L360.97,61.52 L356.64,70.60ZM356.64,70.60 L360.97,61.52 L368.38,61.52 L368.38,76.78 L356.64,76.78Z"/>
<g class="r">
<polygon points="523.54,18.09 543.31,34.77 548.25,34.77 550.72,32.30 568.02,32.30 568.02,18.09" fill="#D6604D" stroke="#D6604D"/>
<polygon points="509.33,39.71 493.89,39.71 485.86,34.77 470.41,38.17 470.41,25.75 494.51,25.75 496.98,22.66 509.33,20.56" fill="#D6604D" stroke="#D6604D"/>
<polygon points="543.31,39.71 543.31,34.77 523.54,18.09 509.33,20.56 509.33,39.71" fill="#D6604D" stroke="#D6604D"/>
<polygon points="493.89,39.71 509.33,39.71 509.33,49.72 498.52,49.72" fill="#D6604D" stroke="#D6604D"/>
<polygon points="518.60,39.71 518.60,55.16 509.33,49.72 509.33,39.71" fill="#D6604D" stroke="#D6604D"/>
<polygon points="530.96,55.16 518.60,55.16 518.60,39.71 543.31,39.71 526.63,51.45" fill="#D6604D" stroke="#D6604D"/>
<polygon points="518.60,55.16 509.64,60.72 498.52,49.72 509.33,49.72" fill="#B2182B" stroke="#B2182B"/>
<polygon points="527.87,63.19 522.68,69.24 509.64,60.72 518.60,55.16" fill="#B2182B" stroke="#B2182B"/>
<polygon points="527.87,63.19 518.60,55.16 530.96,55.16 540.22,63.19" fill="#B2182B" stroke="#B2182B"/>
<polygon points="527.87,63.19 522.68,69.24 522.68,76.78 525.40,79.87 529.72,79.87 529.72,63.19" fill="#B2182B" stroke="#B2182B"/>
<polygon points="529.72,63.19 529.72,75.54 543.31,75.54 543.31,65.90 540.22,63.19" fill="#B2182B" stroke="#B2182B"/>
<polygon points="553.20,82.96 543.31,82.96 543.31,70.60 553.20,70.60" fill="#D6604D" stroke="#D6604D"/>
<polygon points="533.18,82.96 529.72,79.87 529.72,75.54 543.31,75.54 543.31,82.96" fill="#B2182B" stroke="#B2182B"/>
<polygon points="525.40,79.87 529.72,79.87 533.18,82.96 530.03,99.64 525.40,99.64 528.11,82.96" fill="#D6604D" stroke="#D6604D"/>
<polygon points="553.20,82.96 539.60,95.31 530.83,95.31 533.18,82.96" fill="#D6604D" stroke="#D6604D"/>
<polygon points="525.40,105.20 525.40,99.64 530.03,99.64 530.83,95.31 539.60,95.31 539.60,105.20" fill="#F4A582" stroke="#F4A582"/>
<polygon points="568.02,40.95 568.02,25.75 598.91,25.75 598.91,32.73" fill="#D6604D" stroke="#D6604D"/>
<polygon points="568.02,42.80 568.02,40.95 598.91,32.73 598.91,42.80" fill="#B2182B" stroke="#B2182B"/>
<polygon points="598.91,42.80 598.91,30.44 611.27,30.44 611.27,42.80" fill="#B2182B" stroke="#B2182B"/>
<polygon points="568.02,52.07 568.02,42.80 598.91,42.80 598.91,52.07" fill="#D6604D" stroke="#D6604D"/>
<polygon points="561.84,61.52 561.84,52.07 594.59,52.07 600.21,61.52" fill="#B2182B" stroke="#B2182B"/>
<polygon points="561.84,65.90 561.84,61.52 583.47,61.52 579.14,70.60" fill="#D1E5F0" stroke="#D1E5F0"/>
<polygon points="579.14,70.60 583.47,61.52 590.88,61.52 590.88,76.78 579.14,76.78" fill="#F7F7F7" stroke="#F7F7F7"/>
<polygon points="590.88,61.52 600.21,61.52 601.20,63.19 606.94,61.33 606.94,65.90 602.93,69.18 590.88,69.18" fill="#FDDBC7" stroke="#FDDBC7"/>
<polygon points="590.88,76.78 590.88,69.18 602.93,69.18 602.93,76.78" fill="#D6604D" stroke="#D6604D"/>
<polygon points="579.14,92.84 579.14,76.78 589.64,76.78 589.64,92.84" fill="#D6604D" stroke="#D6604D"/>
<polygon points="589.64,76.78 589.64,92.84 593.35,92.84 602.93,76.78" fill="#D6604D" stroke="#D6604D"/>
<polygon points="596.56,87.28 602.93,76.78 606.94,76.78 606.94,87.28" fill="#D6604D" stroke="#D6604D"/>
<polygon points="598.91,30.44 598.91,25.75 632.27,19.94 685.40,25.01 685.40,30.44" fill="#D6604D" stroke="#D6604D"/>
<polygon points="463.00,30.44 463.00,25.75 470.41,25.75 470.41,30.44" fill="#D6604D" stroke="#D6604D"/>
<polygon points="611.27,42.80 611.27,30.44 629.80,30.44 629.80,42.80" fill="#B2182B" stroke="#B2182B"/>
<polygon points="629.80,42.80 629.80,30.44 654.51,30.44 654.51,42.80" fill="#D6604D" stroke="#D6604D"/>
<polygon points="654.51,42.80 654.51,30.44 685.40,30.44 685.40,33.60 671.19,39.71 668.10,42.80" fill="#B2182B" stroke="#B2182B"/>
<polygon points="598.91,52.07 598.91,42.80 620.53,42.80 620.53,52.07 611.27,52.07 611.27,56.08 603.61,52.07" fill="#D6604D" stroke="#D6604D"/>
<polygon points="620.53,47.74 620.53,42.80 646.48,42.80 641.54,47.74" fill="#D6604D" stroke="#D6604D"/>
<polygon points="620.53,52.07 620.53,47.74 635.98,47.74 635.98,52.07 628.56,54.54" fill="#D6604D" stroke="#D6604D"/>
<polygon points="635.98,58.55 635.98,47.74 641.54,47.74 646.48,42.80 668.10,42.80 655.75,55.16 655.75,58.55" fill="#D6604D" stroke="#D6604D"/>
<polygon points="594.59,52.07 603.61,52.07 611.27,56.08 611.27,58.68 606.94,61.33 601.20,63.19 600.21,61.52" fill="#D6604D" stroke="#D6604D"/>
<polygon points="611.27,56.08 611.27,52.07 620.53,52.07 628.56,54.54 635.98,52.07 635.98,58.55 627.95,58.55 623.00,65.90 621.15,65.90 617.44,58.55 615.28,56.08" fill="#FDDBC7" stroke="#FDDBC7"/>
<polygon points="631.65,76.78 631.65,58.55 655.75,58.55 655.75,67.51 669.96,76.78" fill="#D6604D" stroke="#D6604D"/>
<polygon points="642.16,82.96 642.16,76.78 669.96,76.78 669.96,82.96" fill="#B2182B" stroke="#B2182B"/>
<polygon points="642.16,89.13 642.16,82.96 664.09,82.96 664.09,90.92 660.69,89.13" fill="#F4A582" stroke="#F4A582"/>
<polygon points="664.09,82.96 669.96,82.96 669.96,94.08 664.09,90.92" fill="#B2182B" stroke="#B2182B"/>
<polygon points="642.16,92.84 642.16,89.13 660.69,89.13 669.96,94.08 669.96,101.49" fill="#F4A582" stroke="#F4A582"/>
<polygon points="669.96,89.13 669.96,101.49 685.40,101.49 685.40,89.13" fill="#F4A582" stroke="#F4A582"/>
<polygon points="463.00,121.88 539.60,121.88 539.60,116.93 558.76,116.93 577.29,110.14 685.40,110.14 685.40,126.20 463.00,126.20" fill="#D6604D" stroke="#D6604D"/>
<polygon points="463.00,121.88 463.00,113.84 524.78,113.84 534.04,108.59 539.60,108.59 539.60,121.88" fill="#F4A582" stroke="#F4A582"/>
<polygon points="463.00,25.75 494.51,25.75 496.98,22.66 509.33,20.56 523.54,18.09 568.02,18.09 568.02,25.75 598.91,25.75 632.27,19.94 685.40,25.01 685.40,15.00 463.00,15.00" fill="#F4A582" stroke="#F4A582"/>
<polygon points="655.75,65.90 655.75,55.16 668.10,42.80 671.19,39.71 685.40,33.60 685.40,65.90" fill="#B2182B" stroke="#B2182B"/>
<polygon points="463.00,65.90 463.00,30.44 470.41,30.44 470.41,38.17 485.86,34.77 493.89,39.71 498.52,49.72 509.64,60.72 517.55,65.90" fill="#B2182B" stroke="#B2182B"/>
<polygon points="655.75,65.90 685.40,65.90 685.40,76.78 669.96,76.78 655.75,67.51" fill="#D6604D" stroke="#D6604D"/>
<polygon points="463.00,65.90 517.55,65.90 522.68,69.24 522.68,76.78 463.00,76.78" fill="#D6604D" stroke="#D6604D"/>
<polygon points="669.96,76.78 685.40,76.78 685.40,89.13 669.96,89.13" fill="#D6604D" stroke="#D6604D"/>
<polygon points="463.00,76.78 522.68,76.78 525.40,79.87 528.11,82.96 525.40,99.64 525.40,105.20 463.00,105.20" fill="#D6604D" stroke="#D6604D"/>
<polygon points="568.02,52.07 568.02,32.30 550.72,32.30 548.25,34.77 543.31,34.77 543.31,39.71 526.63,51.45 530.96,55.16 540.22,63.19 543.31,65.90 561.84,65.90 561.84,52.07" fill="#D6604D" stroke="#D6604D"/>
<polygon points="543.31,65.90 543.31,70.60 553.20,70.60 553.20,76.78 579.14,76.78 579.14,70.60 561.84,65.90" fill="#FDDBC7" stroke="#FDDBC7"/>
<polygon points="553.20,76.78 553.20,82.96 539.60,95.31 539.60,105.20 579.14,92.84 579.14,76.78" fill="#D6604D" stroke="#D6604D"/>
<polygon points="606.94,65.90 606.94,61.33 611.27,58.68 611.27,56.08 615.28,56.08 617.44,58.55 621.15,65.90" fill="#D6604D" stroke="#D6604D"/>
<polygon points="623.00,65.90 627.95,58.55 631.65,58.55 631.65,65.90" fill="#FDDBC7" stroke="#FDDBC7"/>
<polygon points="602.93,76.78 602.93,69.18 606.94,65.90 631.65,65.90 631.65,76.78" fill="#D6604D" stroke="#D6604D"/>
<polygon points="593.35,92.84 596.56,87.28 606.94,87.28 606.94,76.78 642.16,76.78 642.16,92.84" fill="#D6604D" stroke="#D6604D"/>
<polygon points="463.00,105.20 539.60,105.20 579.14,92.84 642.16,92.84 669.96,101.49 685.40,101.49 685.40,110.14 577.29,110.14 558.76,116.93 539.60,116.93 539.60,108.59 534.04,108.59 524.78,113.84 463.00,113.84" fill="#F7F7F7" stroke="#F7F7F7"/>
</g>
<path class="o" d="M523.54,18.09 L543.31,34.77 L548.25,34.77 L550.72,32.30 L568.02,32.30 L568.02,18.09ZM509.33,39.71 L493.89,39.71 L485.86,34.77 L470.41,38.17 L470.41,25.75 L494.51,25.75 L496.98,22.66 L509.33,20.56ZM543.31,39.71 L543.31,34.77 L523.54,18.09 L509.33,20.56 L509.33,39.71ZM493.89,39.71 L509.33,39.71 L509.33,49.72 L498.52,49.72ZM518.60,39.71 L518.60,55.16 L509.33,49.72 L509.33,39.71ZM530.96,55.16 L518.60,55.16 L518.60,39.71 L543.31,39.71 L526.63,51.45ZM518.60,55.16 L509.64,60.72 L498.52,49.72 L509.33,49.72ZM527.87,63.19 L522.68,69.24 L509.64,60.72 L518.60,55.16ZM527.87,63.19 L518.60,55.16 L530.96,55.16 L540.22,63.19ZM527.87,63.19 L522.68,69.24 L522.68,76.78 L525.40,79.87 L529.72,79.87 L529.72,63.19ZM529.72,63.19 L529.72,75.54 L543.31,75.54 L543.31,65.90 L540.22,63.19ZM553.20,82.96 L543.31,82.96 L543.31,70.60 L553.20,70.60ZM533.18,82.96 L529.72,79.87 L529.72,75.54 L543.31,75.54 L543.31,82.96ZM525.40,79.87 L529.72,79.87 L533.18,82.96 L530.03,99.64 L525.40,99.64 L528.11,82.96ZM553.20,82.96 L539.60,95.31 L530.83,95.31 L533.18,82.96ZM525.40,105.20 L525.40,99.64 L530.03,99.64 L530.83,95.31 L539.60,95.31 L539.60,105.20ZM568.02,40.95 L568.02,25.75 L598.91,25.75 L598.91,32.73ZM568.02,42.80 L568.02,40.95 L598.91,32.73 L598.91,42.80ZM598.91,42.80 L598.91,30.44 L611.27,30.44 L611.27,42.80ZM568.02,52.07 L568.02,42.80 L598.91,42.80 L598.91,52.07ZM561.84,61.52 L561.84,52.07 L594.59,52.07 L600.21,61.52ZM561.84,65.90 L561.84,61.52 L583.47,61.52 L579.14,70.60ZM579.14,70.60 L583.47,61.52 L590.88,61.52 L590.88,76.78 L579.14,76.78ZM590.88,61.52 L600.21,61.52 L601.20,63.19 L606.94,61.33 L606.94,65.90 L602.93,69.18 L590.88,69.18ZM590.88,76.78 L590.88,69.18 L602.93,69.18 L602.93,76.78ZM579.14,92.84 L579.14,76.78 L589.64,76.78 L589.64,92.84ZM589.64,76.78 L589.64,92.84 L593.35,92.84 L602.93,76.78ZM596.56,87.28 L602.93,76.78 L606.94,76.78 L606.94,87.28ZM598.91,30.44 L598.91,25.75 L632.27,19.94 L685.40,25.01 L685.40,30.44ZM463.00,30.44 L463.00,25.75 L470.41,25.75 L470.41,30.44ZM611.27,42.80 L611.27,30.44 L629.80,30.44 L629.80,42.80ZM629.80,42.80 L629.80,30.44 L654.51,30.44 L654.51,42.80ZM654.51,42.80 L654.51,30.44 L685.40,30.44 L685.40,33.60 L671.19,39.71 L668.10,42.80ZM598.91,52.07 L598.91,42.80 L620.53,42.80 L620.53,52.07 L611.27,52.07 L611.27,56.08 L603.61,52.07ZM620.53,47.74 L620.53,42.80 L646.48,42.80 L641.54,47.74ZM620.53,52.07 L620.53,47.74 L635.98,47.74 L635.98,52.07 L628.56,54.54ZM635.98,58.55 L635.98,47.74 L641.54,47.74 L646.48,42.80 L668.10,42.80 L655.75,55.16 L655.75,58.55ZM594.59,52.07 L603.61,52.07 L611.27,56.08 L611.27,58.68 L606.94,61.33 L601.20,63.19 L600.21,61.52ZM611.27,56.08 L611.27,52.07 L620.53,52.07 L628.56,54.54 L635.98,52.07 L635.98,58.55 L627.95,58.55 L623.00,65.90 L621.15,65.90 L617.44,58.55 L615.28,56.08ZM631.65,76.78 L631.65,58.55 L655.75,58.55 L655.75,67.51 L669.96,76.78ZM642.16,82.96 L642.16,76.78 L669.96,76.78 L669.96,82.96ZM642.16,89.13 L642.16,82.96 L664.09,82.96 L664.09,90.92 L660.69,89.13ZM664.09,82.96 L669.96,82.96 L669.96,94.08 L664.09,90.92ZM642.16,92.84 L642.16,89.13 L660.69,89.13 L669.96,94.08 L669.96,101.49ZM669.96,89.13 L669.96,101.49 L685.40,101.49 L685.40,89.13ZM463.00,121.88 L539.60,121.88 L539.60,116.93 L558.76,116.93 L577.29,110.14 L685.40,110.14 L685.40,126.20 L463.00,126.20ZM463.00,121.88 L463.00,113.84 L524.78,113.84 L534.04,108.59 L539.60,108.59 L539.60,121.88ZM463.00,25.75 L494.51,25.75 L496.98,22.66 L509.33,20.56 L523.54,18.09 L568.02,18.09 L568.02,25.75 L598.91,25.75 L632.27,19.94 L685.40,25.01 L685.40,15.00 L463.00,15.00ZM655.75,65.90 L655.75,55.16 L668.10,42.80 L671.19,39.71 L685.40,33.60 L685.40,65.90ZM463.00,65.90 L463.00,30.44 L470.41,30.44 L470.41,38.17 L485.86,34.77 L493.89,39.71 L498.52,49.72 L509.64,60.72 L517.55,65.90ZM655.75,65.90 L685.40,65.90 L685.40,76.78 L669.96,76.78 L655.75,67.51ZM463.00,65.90 L517.55,65.90 L522.68,69.24 L522.68,76.78 L463.00,76.78ZM669.96,76.78 L685.40,76.78 L685.40,89.13 L669.96,89.13ZM463.00,76.78 L522.68,76.78 L525.40,79.87 L528.11,82.96 L525.40,99.64 L525.40,105.20 L463.00,105.20ZM568.02,52.07 L568.02,32.30 L550.72,32.30 L548.25,34.77 L543.31,34.77 L543.31,39.71 L526.63,51.45 L530.96,55.16 L540.22,63.19 L543.31,65.90 L561.84,65.90 L561.84,52.07ZM543.31,65.90 L543.31,70.60 L553.20,70.60 L553.20,76.78 L579.14,76.78 L579.14,70.60 L561.84,65.90ZM553.20,76.78 L553.20,82.96 L539.60,95.31 L539.60,105.20 L579.14,92.84 L579.14,76.78ZM606.94,65.90 L606.94,61.33 L611.27,58.68 L611.27,56.08 L615.28,56.08 L617.44,58.55 L621.15,65.90ZM623.00,65.90 L627.95,58.55 L631.65,58.55 L631.65,65.90ZM602.93,76.78 L602.93,69.18 L606.94,65.90 L631.65,65.90 L631.65,76.78ZM593.35,92.84 L596.56,87.28 L606.94,87.28 L606.94,76.78 L642.16,76.78 L642.16,92.84ZM463.00,105.20 L539.60,105.20 L579.14,92.84 L642.16,92.84 L669.96,101.49 L685.40,101.49 L685.40,110.14 L577.29,110.14 L558.76,116.93 L539.60,116.93 L539.60,108.59 L534.04,108.59 L524.78,113.84 L463.00,113.84Z"/>
<g class="r">
<polygon points="78.54,129.39 98.31,146.07 103.25,146.07 105.72,143.60 123.02,143.60 123.02,129.39" fill="#FD8D3C" stroke="#FD8D3C"/>
<polygon points="64.33,151.01 48.89,151.01 40.86,146.07 25.41,149.47 25.41,137.05 49.51,137.05 51.98,133.96 64.33,131.86" fill="#FECC5C" stroke="#FECC5C"/>
<polygon points="98.31,151.01 98.31,146.07 78.54,129.39 64.33,131.86 64.33,151.01" fill="#FECC5C" stroke="#FECC5C"/>
<polygon points="48.89,151.01 64.33,151.01 64.33,161.02 53.52,161.02" fill="#FFFFB2" stroke="#FFFFB2"/>
<polygon points="73.60,151.01 73.60,166.46 64.33,161.02 64.33,151.01" fill="#FECC5C" stroke="#FECC5C"/>
<polygon points="85.96,166.46 73.60,166.46 73.60,151.01 98.31,151.01 81.63,162.75" fill="#FFFFB2" stroke="#FFFFB2"/>
<polygon points="73.60,166.46 64.64,172.02 53.52,161.02 64.33,161.02" fill="#FFFFB2" stroke="#FFFFB2"/>
<polygon points="82.87,174.49 77.68,180.54 64.64,172.02 73.60,166.46" fill="#FFFFB2" stroke="#FFFFB2"/>
<polygon points="82.87,174.49 73.60,166.46 85.96,166.46 95.22,174.49" fill="#FFFFB2" stroke="#FFFFB2"/>
<polygon points="82.87,174.49 77.68,180.54 77.68,188.08 80.40,191.17 84.72,191.17 84.72,174.49" fill="#FFFFB2" stroke="#FFFFB2"/>
<polygon points="84.72,174.49 84.72,186.84 98.31,186.84 98.31,177.20 95.22,174.49" fill="#FFFFB2" stroke="#FFFFB2"/>
<polygon points="108.20,194.26 98.31,194.26 98.31,181.90 108.20,181.90" fill="#FFFFB2" stroke="#FFFFB2"/>
<polygon points="88.18,194.26 84.72,191.17 84.72,186.84 98.31,186.84 98.31,194.26" fill="#FFFFB2" stroke="#FFFFB2"/>
<polygon points="80.40,191.17 84.72,191.17 88.18,194.26 85.03,210.94 80.40,210.94 83.11,194.26" fill="#FFFFB2" stroke="#FFFFB2"/>
<polygon points="108.20,194.26 94.60,206.61 85.83,206.61 88.18,194.26" fill="#FFFFB2" stroke="#FFFFB2"/>
<polygon points="80.40,216.50 80.40,210.94 85.03,210.94 85.83,206.61 94.60,206.61 94.60,216.50" fill="#FFFFB2" stroke="#FFFFB2"/>
<polygon points="123.02,152.25 123.02,137.05 153.91,137.05 153.91,144.03" fill="#FFFFB2" stroke="#FFFFB2"/>
<polygon points="123.02,154.10 123.02,152.25 153.91,144.03 153.91,154.10" fill="#FFFFB2" stroke="#FFFFB2"/>
<polygon points="153.91,154.10 153.91,141.74 166.27,141.74 166.27,154.10" fill="#FFFFB2" stroke="#FFFFB2"/>
<polygon points="123.02,163.37 123.02,154.10 153.91,154.10 153.91,163.37" fill="#FFFFB2" stroke="#FFFFB2"/>
<polygon points="116.84,172.82 116.84,163.37 149.59,163.37 155.21,172.82" fill="#FFFFB2" stroke="#FFFFB2"/>
<polygon points="116.84,177.20 116.84,172.82 138.47,172.82 134.14,181.90" fill="#FECC5C" stroke="#FECC5C"/>
<polygon points="134.14,181.90 138.47,172.82 145.88,172.82 145.88,188.08 134.14,188.08" fill="#FECC5C" stroke="#FECC5C"/>
<polygon points="145.88,172.82 155.21,172.82 156.20,174.49 161.94,172.63 161.94,177.20 157.93,180.48 145.88,180.48" fill="#FFFFB2" stroke="#FFFFB2"/>
<polygon points="145.88,188.08 145.88,180.48 157.93,180.48 157.93,188.08" fill="#FFFFB2" stroke="#FFFFB2"/>
<polygon points="134.14,204.14 134.14,188.08 144.64,188.08 144.64,204.14" fill="#FFFFB2" stroke="#FFFFB2"/>
<polygon points="144.64,188.08 144.64,204.14 148.35,204.14 157.93,188.08" fill="#FFFFB2" stroke="#FFFFB2"/>
<polygon points="151.56,198.58 157.93,188.08 161.94,188.08 161.94,198.58" fill="#FFFFB2" stroke="#FFFFB2"/>
<polygon points="153.91,141.74 153.91,137.05 187.27,131.24 240.40,136.31 240.40,141.74" fill="#FD8D3C" stroke="#FD8D3C"/>
<polygon points="18.00,141.74 18.00,137.05 25.41,137.05 25.41,141.74" fill="#FD8D3C" stroke="#FD8D3C"/>
<polygon points="166.27,154.10 166.27,141.74 184.80,141.74 184.80,154.10" fill="#FFFFB2" stroke="#FFFFB2"/>
<polygon points="184.80,154.10 184.80,141.74 209.51,141.74 209.51,154.10" fill="#FECC5C" stroke="#FECC5C"/>
<polygon points="209.51,154.10 209.51,141.74 240.40,141.74 240.40,144.90 226.19,151.01 223.10,154.10" fill="#FECC5C" stroke="#FECC5C"/>
<polygon points="153.91,163.37 153.91,154.10 175.53,154.10 175.53,163.37 166.27,163.37 166.27,167.38 158.61,163.37" fill="#FFFFB2" stroke="#FFFFB2"/>
<polygon points="175.53,159.04 175.53,154.10 201.48,154.10 196.54,159.04" fill="#FECC5C" stroke="#FECC5C"/>
<polygon points="175.53,163.37 175.53,159.04 190.98,159.04 190.98,163.37 183.56,165.84" fill="#FECC5C" stroke="#FECC5C"/>
<polygon points="190.98,169.85 190.98,159.04 196.54,159.04 201.48,154.10 223.10,154.10 210.75,166.46 210.75,169.85" fill="#FFFFB2" stroke="#FFFFB2"/>
<polygon points="149.59,163.37 158.61,163.37 166.27,167.38 166.27,169.98 161.94,172.63 156.20,174.49 155.21,172.82" fill="#FFFFB2" stroke="#FFFFB2"/>
<polygon points="166.27,167.38 166.27,163.37 175.53,163.37 183.56,165.84 190.98,163.37 190.98,169.85 182.95,169.85 178.00,177.20 176.15,177.20 172.44,169.85 170.28,167.38" fill="#FECC5C" stroke="#FECC5C"/>
<polygon points="186.65,188.08 186.65,169.85 210.75,169.85 210.75,178.81 224.96,188.08" fill="#FFFFB2" stroke="#FFFFB2"/>
<polygon points="197.16,194.26 197.16,188.08 224.96,188.08 224.96,194.26" fill="#FFFFB2" stroke="#FFFFB2"/>
<polygon points="197.16,200.43 197.16,194.26 219.09,194.26 219.09,202.22 215.69,200.43" fill="#FFFFB2" stroke="#FFFFB2"/>
<polygon points="219.09,194.26 224.96,194.26 224.96,205.38 219.09,202.22" fill="#FFFFB2" stroke="#FFFFB2"/>
<polygon points="197.16,204.14 197.16,200.43 215.69,200.43 224.96,205.38 224.96,212.79" fill="#FFFFB2" stroke="#FFFFB2"/>
<polygon points="224.96,200.43 224.96,212.79 240.40,212.79 240.40,200.43" fill="#FFFFB2" stroke="#FFFFB2"/>
<polygon points="18.00,233.18 94.60,233.18 94.60,228.23 113.76,228.23 132.29,221.44 240.40,221.44 240.40,237.50 18.00,237.50" fill="#FFFFB2" stroke="#FFFFB2"/>
<polygon points="18.00,233.18 18.00,225.14 79.78,225.14 89.04,219.89 94.60,219.89 94.60,233.18" fill="#FECC5C" stroke="#FECC5C"/>
<polygon points="18.00,137.05 49.51,137.05 51.98,133.96 64.33,131.86 78.54,129.39 123.02,129.39 123.02,137.05 153.91,137.05 187.27,131.24 240.40,136.31 240.40,126.30 18.00,126.30" fill="#F03B20" stroke="#F03B20"/>
<polygon points="210.75,177.20 210.75,166.46 223.10,154.10 226.19,151.01 240.40,144.90 240.40,177.20" fill="#FFFFB2" stroke="#FFFFB2"/>
<polygon points="18.00,177.20 18.00,141.74 25.41,141.74 25.41,149.47 40.86,146.07 48.89,151.01 53.52,161.02 64.64,172.02 72.55,177.20" fill="#FFFFB2" stroke="#FFFFB2"/>
<polygon points="210.75,177.20 240.40,177.20 240.40,188.08 224.96,188.08 210.75,178.81" fill="#FFFFB2" stroke="#FFFFB2"/>
<polygon points="18.00,177.20 72.55,177.20 77.68,180.54 77.68,188.08 18.00,188.08" fill="#FFFFB2" stroke="#FFFFB2"/>
<polygon points="224.96,188.08 240.40,188.08 240.40,200.43 224.96,200.43" fill="#FFFFB2" stroke="#FFFFB2"/>
<polygon points="18.00,188.08 77.68,188.08 80.40,191.17 83.11,194.26 80.40,210.94 80.40,216.50 18.00,216.50" fill="#FFFFB2" stroke="#FFFFB2"/>
<polygon points="123.02,163.37 123.02,143.60 105.72,143.60 103.25,146.07 98.31,146.07 98.31,151.01 81.63,162.75 85.96,166.46 95.22,174.49 98.31,177.20 116.84,177.20 116.84,163.37" fill="#FFFFB2" stroke="#FFFFB2"/>
<polygon points="98.31,177.20 98.31,181.90 108.20,181.90 108.20,188.08 134.14,188.08 134.14,181.90 116.84,177.20" fill="#FFFFB2" stroke="#FFFFB2"/>
<polygon points="108.20,188.08 108.20,194.26 94.60,206.61 94.60,216.50 134.14,204.14 134.14,188.08" fill="#FFFFB2" stroke="#FFFFB2"/>
<polygon points="161.94,177.20 161.94,172.63 166.27,169.98 166.27,167.38 170.28,167.38 172.44,169.85 176.15,177.20" fill="#FFFFB2" stroke="#FFFFB2"/>
<polygon points="178.00,177.20 182.95,169.85 186.65,169.85 186.65,177.20" fill="#FFFFB2" stroke="#FFFFB2"/>
<polygon points="157.93,188.08 157.93,180.48 161.94,177.20 186.65,177.20 186.65,188.08" fill="#FFFFB2" stroke="#FFFFB2"/>
<polygon points="148.35,204.14 151.56,198.58 161.94,198.58 161.94,188.08 197.16,188.08 197.16,204.14" fill="#FFFFB2" stroke="#FFFFB2"/>
<polygon points="18.00,216.50 94.60,216.50 134.14,204.14 197.16,204.14 224.96,212.79 240.40,212.79 240.40,221.44 132.29,221.44 113.76,228.23 94.60,228.23 94.60,219.89 89.04,219.89 79.78,225.14 18.00,225.14" fill="#FFFFB2" stroke="#FFFFB2"/>
</g>
<path class="o" d="M78.54,129.39 L98.31,146.07 L103.25,146.07 L105.72,143.60 L123.02,143.60 L123.02,129.39ZM64.33,151.01 L48.89,151.01 L40.86,146.07 L25.41,149.47 L25.41,137.05 L49.51,137.05 L51.98,133.96 L64.33,131.86ZM98.31,151.01 L98.31,146.07 L78.54,129.39 L64.33,131.86 L64.33,151.01ZM48.89,151.01 L64.33,151.01 L64.33,161.02 L53.52,161.02ZM73.60,151.01 L73.60,166.46 L64.33,161.02 L64.33,151.01ZM85.96,166.46 L73.60,166.46 L73.60,151.01 L98.31,151.01 L81.63,162.75ZM73.60,166.46 L64.64,172.02 L53.52,161.02 L64.33,161.02ZM82.87,174.49 L77.68,180.54 L64.64,172.02 L73.60,166.46ZM82.87,174.49 L73.60,166.46 L85.96,166.46 L95.22,174.49ZM82.87,174.49 L77.68,180.54 L77.68,188.08 L80.40,191.17 L84.72,191.17 L84.72,174.49ZM84.72,174.49 L84.72,186.84 L98.31,186.84 L98.31,177.20 L95.22,174.49ZM108.20,194.26 L98.31,194.26 L98.31,181.90 L108.20,181.90ZM88.18,194.26 L84.72,191.17 L84.72,186.84 L98.31,186.84 L98.31,194.26ZM80.40,191.17 L84.72,191.17 L88.18,194.26 L85.03,210.94 L80.40,210.94 L83.11,194.26ZM108.20,194.26 L94.60,206.61 L85.83,206.61 L88.18,194.26ZM80.40,216.50 L80.40,210.94 L85.03,210.94 L85.83,206.61 L94.60,206.61 L94.60,216.50ZM123.02,152.25 L123.02,137.05 L153.91,137.05 L153.91,144.03ZM123.02,154.10 L123.02,152.25 L153.91,144.03 L153.91,154.10ZM153.91,154.10 L153.91,141.74 L166.27,141.74 L166.27,154.10ZM123.02,163.37 L123.02,154.10 L153.91,154.10 L153.91,163.37ZM116.84,172.82 L116.84,163.37 L149.59,163.37 L155.21,172.82ZM116.84,177.20 L116.84,172.82 L138.47,172.82 L134.14,181.90ZM134.14,181.90 L138.47,172.82 L145.88,172.82 L145.88,188.08 L134.14,188.08ZM145.88,172.82 L155.21,172.82 L156.20,174.49 L161.94,172.63 L161.94,177.20 L157.93,180.48 L145.88,180.48ZM145.88,188.08 L145.88,180.48 L157.93,180.48 L157.93,188.08ZM134.14,204.14 L134.14,188.08 L144.64,188.08 L144.64,204.14ZM144.64,188.08 L144.64,204.14 L148.35,204.14 L157.93,188.08ZM151.56,198.58 L157.93,188.08 L161.94,188.08 L161.94,198.58ZM153.91,141.74 L153.91,137.05 L187.27,131.24 L240.40,136.31 L240.40,141.74ZM18.00,141.74 L18.00,137.05 L25.41,137.05 L25.41,141.74ZM166.27,154.10 L166.27,141.74 L184.80,141.74 L184.80,154.10ZM184.80,154.10 L184.80,141.74 L209.51,141.74 L209.51,154.10ZM209.51,154.10 L209.51,141.74 L240.40,141.74 L240.40,144.90 L226.19,151.01 L223.10,154.10ZM153.91,163.37 L153.91,154.10 L175.53,154.10 L175.53,163.37 L166.27,163.37 L166.27,167.38 L158.61,163.37ZM175.53,159.04 L175.53,154.10 L201.48,154.10 L196.54,159.04ZM175.53,163.37 L175.53,159.04 L190.98,159.04 L190.98,163.37 L183.56,165.84ZM190.98,169.85 L190.98,159.04 L196.54,159.04 L201.48,154.10 L223.10,154.10 L210.75,166.46 L210.75,169.85ZM149.59,163.37 L158.61,163.37 L166.27,167.38 L166.27,169.98 L161.94,172.63 L156.20,174.49 L155.21,172.82ZM166.27,167.38 L166.27,163.37 L175.53,163.37 L183.56,165.84 L190.98,163.37 L190.98,169.85 L182.95,169.85 L178.00,177.20 L176.15,177.20 L172.44,169.85 L170.28,167.38ZM186.65,188.08 L186.65,169.85 L210.75,169.85 L210.75,178.81 L224.96,188.08ZM197.16,194.26 L197.16,188.08 L224.96,188.08 L224.96,194.26ZM197.16,200.43 L197.16,194.26 L219.09,194.26 L219.09,202.22 L215.69,200.43ZM219.09,194.26 L224.96,194.26 L224.96,205.38 L219.09,202.22ZM197.16,204.14 L197.16,200.43 L215.69,200.43 L224.96,205.38 L224.96,212.79ZM224.96,200.43 L224.96,212.79 L240.40,212.79 L240.40,200.43ZM18.00,233.18 L94.60,233.18 L94.60,228.23 L113.76,228.23 L132.29,221.44 L240.40,221.44 L240.40,237.50 L18.00,237.50ZM18.00,233.18 L18.00,225.14 L79.78,225.14 L89.04,219.89 L94.60,219.89 L94.60,233.18ZM18.00,137.05 L49.51,137.05 L51.98,133.96 L64.33,131.86 L78.54,129.39 L123.02,129.39 L123.02,137.05 L153.91,137.05 L187.27,131.24 L240.40,136.31 L240.40,126.30 L18.00,126.30ZM210.75,177.20 L210.75,166.46 L223.10,154.10 L226.19,151.01 L240.40,144.90 L240.40,177.20ZM18.00,177.20 L18.00,141.74 L25.41,141.74 L25.41,149.47 L40.86,146.07 L48.89,151.01 L53.52,161.02 L64.64,172.02 L72.55,177.20ZM210.75,177.20 L240.40,177.20 L240.40,188.08 L224.96,188.08 L210.75,178.81ZM18.00,177.20 L72.55,177.20 L77.68,180.54 L77.68,188.08 L18.00,188.08ZM224.96,188.08 L240.40,188.08 L240.40,200.43 L224.96,200.43ZM18.00,188.08 L77.68,188.08 L80.40,191.17 L83.11,194.26 L80.40,210.94 L80.40,216.50 L18.00,216.50ZM123.02,163.37 L123.02,143.60 L105.72,143.60 L103.25,146.07 L98.31,146.07 L98.31,151.01 L81.63,162.75 L85.96,166.46 L95.22,174.49 L98.31,177.20 L116.84,177.20 L116.84,163.37ZM98.31,177.20 L98.31,181.90 L108.20,181.90 L108.20,188.08 L134.14,188.08 L134.14,181.90 L116.84,177.20ZM108.20,188.08 L108.20,194.26 L94.60,206.61 L94.60,216.50 L134.14,204.14 L134.14,188.08ZM161.94,177.20 L161.94,172.63 L166.27,169.98 L166.27,167.38 L170.28,167.38 L172.44,169.85 L176.15,177.20ZM178.00,177.20 L182.95,169.85 L186.65,169.85 L186.65,177.20ZM157.93,188.08 L157.93,180.48 L161.94,177.20 L186.65,177.20 L186.65,188.08ZM148.35,204.14 L151.56,198.58 L161.94,198.58 L161.94,188.08 L197.16,188.08 L197.16,204.14ZM18.00,216.50 L94.60,216.50 L134.14,204.14 L197.16,204.14 L224.96,212.79 L240.40,212.79 L240.40,221.44 L132.29,221.44 L113.76,228.23 L94.60,228.23 L94.60,219.89 L89.04,219.89 L79.78,225.14 L18.00,225.14Z"/>
<g class="r">
<polygon points="301.04,129.39 320.81,146.07 325.75,146.07 328.22,143.60 345.52,143.60 345.52,129.39" fill="#BD0026" stroke="#BD0026"/>
<polygon points="286.83,151.01 271.39,151.01 263.36,146.07 247.91,149.47 247.91,137.05 272.01,137.05 274.48,133.96 286.83,131.86" fill="#F03B20" stroke="#F03B20"/>
<polygon points="320.81,151.01 320.81,146.07 301.04,129.39 286.83,131.86 286.83,151.01" fill="#BD0026" stroke="#BD0026"/>
<polygon points="271.39,151.01 286.83,151.01 286.83,161.02 276.02,161.02" fill="#FFFFB2" stroke="#FFFFB2"/>
<polygon points="296.10,151.01 296.10,166.46 286.83,161.02 286.83,151.01" fill="#FECC5C" stroke="#FECC5C"/>
<polygon points="308.46,166.46 296.10,166.46 296.10,151.01 320.81,151.01 304.13,162.75" fill="#FECC5C" stroke="#FECC5C"/>
<polygon points="296.10,166.46 287.14,172.02 276.02,161.02 286.83,161.02" fill="#FFFFB2" stroke="#FFFFB2"/>
<polygon points="305.37,174.49 300.18,180.54 287.14,172.02 296.10,166.46" fill="#FFFFB2" stroke="#FFFFB2"/>
<polygon points="305.37,174.49 296.10,166.46 308.46,166.46 317.72,174.49" fill="#FFFFB2" stroke="#FFFFB2"/>
<polygon points="305.37,174.49 300.18,180.54 300.18,188.08 302.90,191.17 307.22,191.17 307.22,174.49" fill="#FECC5C" stroke="#FECC5C"/>
<polygon points="307.22,174.49 307.22,186.84 320.81,186.84 320.81,177.20 317.72,174.49" fill="#FD8D3C" stroke="#FD8D3C"/>
<polygon points="330.70,194.26 320.81,194.26 320.81,181.90 330.70,181.90" fill="#FECC5C" stroke="#FECC5C"/>
<polygon points="310.68,194.26 307.22,191.17 307.22,186.84 320.81,186.84 320.81,194.26" fill="#FECC5C" stroke="#FECC5C"/>
<polygon points="302.90,191.17 307.22,191.17 310.68,194.26 307.53,210.94 302.90,210.94 305.61,194.26" fill="#FECC5C" stroke="#FECC5C"/>
<polygon points="330.70,194.26 317.10,206.61 308.33,206.61 310.68,194.26" fill="#FECC5C" stroke="#FECC5C"/>
<polygon points="302.90,216.50 302.90,210.94 307.53,210.94 308.33,206.61 317.10,206.61 317.10,216.50" fill="#FFFFB2" stroke="#FFFFB2"/>
<polygon points="345.52,152.25 345.52,137.05 376.41,137.05 376.41,144.03" fill="#FECC5C" stroke="#FECC5C"/>
<polygon points="345.52,154.10 345.52,152.25 376.41,144.03 376.41,154.10" fill="#FECC5C" stroke="#FECC5C"/>
<polygon points="376.41,154.10 376.41,141.74 388.77,141.74 388.77,154.10" fill="#FECC5C" stroke="#FECC5C"/>
<polygon points="345.52,163.37 345.52,154.10 376.41,154.10 376.41,163.37" fill="#FECC5C" stroke="#FECC5C"/>
<polygon points="339.34,172.82 339.34,163.37 372.09,163.37 377.71,172.82" fill="#FECC5C" stroke="#FECC5C"/>
<polygon points="339.34,177.20 339.34,172.82 360.97,172.82 356.64,181.90" fill="#FECC5C" stroke="#FECC5C"/>
<polygon points="356.64,181.90 360.97,172.82 368.38,172.82 368.38,188.08 356.64,188.08" fill="#FECC5C" stroke="#FECC5C"/>
<polygon points="368.38,172.82 377.71,172.82 378.70,174.49 384.44,172.63 384.44,177.20 380.43,180.48 368.38,180.48" fill="#FECC5C" stroke="#FECC5C"/>
<polygon points="368.38,188.08 368.38,180.48 380.43,180.48 380.43,188.08" fill="#FFFFB2" stroke="#FFFFB2"/>
<polygon points="356.64,204.14 356.64,188.08 367.14,188.08 367.14,204.14" fill="#FFFFB2" stroke="#FFFFB2"/>
<polygon points="367.14,188.08 367.14,204.14 370.85,204.14 380.43,188.08" fill="#FFFFB2" stroke="#FFFFB2"/>
<polygon points="374.06,198.58 380.43,188.08 384.44,188.08 384.44,198.58" fill="#FFFFB2" stroke="#FFFFB2"/>
<polygon points="376.41,141.74 376.41,137.05 409.77,131.24 462.90,136.31 462.90,141.74" fill="#F03B20" stroke="#F03B20"/>
<polygon points="240.50,141.74 240.50,137.05 247.91,137.05 247.91,141.74" fill="#F03B20" stroke="#F03B20"/>
<polygon points="388.77,154.10 388.77,141.74 407.30,141.74 407.30,154.10" fill="#FECC5C" stroke="#FECC5C"/>
<polygon points="407.30,154.10 407.30,141.74 432.01,141.74 432.01,154.10" fill="#FECC5C" stroke="#FECC5C"/>
<polygon points="432.01,154.10 432.01,141.74 462.90,141.74 462.90,144.90 448.69,151.01 445.60,154.10" fill="#FD8D3C" stroke="#FD8D3C"/>
<polygon points="376.41,163.37 376.41,154.10 398.03,154.10 398.03,163.37 388.77,163.37 388.77,167.38 381.11,163.37" fill="#FECC5C" stroke="#FECC5C"/>
<polygon points="398.03,159.04 398.03,154.10 423.98,154.10 419.04,159.04" fill="#FECC5C" stroke="#FECC5C"/>
<polygon points="398.03,163.37 398.03,159.04 413.48,159.04 413.48,163.37 406.06,165.84" fill="#FECC5C" stroke="#FECC5C"/>
<polygon points="413.48,169.85 413.48,159.04 419.04,159.04 423.98,154.10 445.60,154.10 433.25,166.46 433.25,169.85" fill="#FECC5C" stroke="#FECC5C"/>
<polygon points="372.09,163.37 381.11,163.37 388.77,167.38 388.77,169.98 384.44,172.63 378.70,174.49 377.71,172.82" fill="#FECC5C" stroke="#FECC5C"/>
<polygon points="388.77,167.38 388.77,163.37 398.03,163.37 406.06,165.84 413.48,163.37 413.48,169.85 405.45,169.85 400.50,177.20 398.65,177.20 394.94,169.85 392.78,167.38" fill="#FECC5C" stroke="#FECC5C"/>
<polygon points="409.15,188.08 409.15,169.85 433.25,169.85 433.25,178.81 447.46,188.08" fill="#FFFFB2" stroke="#FFFFB2"/>
<polygon points="419.66,194.26 419.66,188.08 447.46,188.08 447.46,194.26" fill="#FFFFB2" stroke="#FFFFB2"/>
<polygon points="419.66,200.43 419.66,194.26 441.59,194.26 441.59,202.22 438.19,200.43" fill="#FECC5C" stroke="#FECC5C"/>
<polygon points="441.59,194.26 447.46,194.26 447.46,205.38 441.59,202.22" fill="#FFFFB2" stroke="#FFFFB2"/>
<polygon points="419.66,204.14 419.66,200.43 438.19,200.43 447.46,205.38 447.46,212.79" fill="#FFFFB2" stroke="#FFFFB2"/>
<polygon points="447.46,200.43 447.46,212.79 462.90,212.79 462.90,200.43" fill="#FECC5C" stroke="#FECC5C"/>
<polygon points="240.50,233.18 317.10,233.18 317.10,228.23 336.26,228.23 354.79,221.44 462.90,221.44 462.90,237.50 240.50,237.50" fill="#FECC5C" stroke="#FECC5C"/>
<polygon points="240.50,233.18 240.50,225.14 302.28,225.14 311.54,219.89 317.10,219.89 317.10,233.18" fill="#FECC5C" stroke="#FECC5C"/>
<polygon points="240.50,137.05 272.01,137.05 274.48,133.96 286.83,131.86 301.04,129.39 345.52,129.39 345.52,137.05 376.41,137.05 409.77,131.24 462.90,136.31 462.90,126.30 240.50,126.30" fill="#BD0026" stroke="#BD0026"/>
<polygon points="433.25,177.20 433.25,166.46 445.60,154.10 448.69,151.01 462.90,144.90 462.90,177.20" fill="#FFFFB2" stroke="#FFFFB2"/>
<polygon points="240.50,177.20 240.50,141.74 247.91,141.74 247.91,149.47 263.36,146.07 271.39,151.01 276.02,161.02 287.14,172.02 295.05,177.20" fill="#FFFFB2" stroke="#FFFFB2"/>
<polygon points="433.25,177.20 462.90,177.20 462.90,188.08 447.46,188.08 433.25,178.81" fill="#FFFFB2" stroke="#FFFFB2"/>
<polygon points="240.50,177.20 295.05,177.20 300.18,180.54 300.18,188.08 240.50,188.08" fill="#FFFFB2" stroke="#FFFFB2"/>
<polygon points="447.46,188.08 462.90,188.08 462.90,200.43 447.46,200.43" fill="#FFFFB2" stroke="#FFFFB2"/>
<polygon points="240.50,188.08 300.18,188.08 302.90,191.17 305.61,194.26 302.90,210.94 302.90,216.50 240.50,216.50" fill="#FFFFB2" stroke="#FFFFB2"/>
<polygon points="345.52,163.37 345.52,143.60 328.22,143.60 325.75,146.07 320.81,146.07 320.81,151.01 304.13,162.75 308.46,166.46 317.72,174.49 320.81,177.20 339.34,177.20 339.34,163.37" fill="#FECC5C" stroke="#FECC5C"/>
<polygon points="320.81,177.20 320.81,181.90 330.70,181.90 330.70,188.08 356.64,188.08 356.64,181.90 339.34,177.20" fill="#FFFFB2" stroke="#FFFFB2"/>
<polygon points="330.70,188.08 330.70,194.26 317.10,206.61 317.10,216.50 356.64,204.14 356.64,188.08" fill="#FFFFB2" stroke="#FFFFB2"/>
<polygon points="384.44,177.20 384.44,172.63 388.77,169.98 388.77,167.38 392.78,167.38 394.94,169.85 398.65,177.20" fill="#FECC5C" stroke="#FECC5C"/>
<polygon points="400.50,177.20 405.45,169.85 409.15,169.85 409.15,177.20" fill="#FECC5C" stroke="#FECC5C"/>
<polygon points="380.43,188.08 380.43,180.48 384.44,177.20 409.15,177.20 409.15,188.08" fill="#FECC5C" stroke="#FECC5C"/>
<polygon points="370.85,204.14 374.06,198.58 384.44,198.58 384.44,188.08 419.66,188.08 419.66,204.14" fill="#FFFFB2" stroke="#FFFFB2"/>
<polygon points="240.50,216.50 317.10,216.50 356.64,204.14 419.66,204.14 447.46,212.79 462.90,212.79 462.90,221.44 354.79,221.44 336.26,228.23 317.10,228.23 317.10,219.89 311.54,219.89 302.28,225.14 240.50,225.14" fill="#FFFFB2" stroke="#FFFFB2"/>
</g>
<path class="o" d="M301.04,129.39 L320.81,146.07 L325.75,146.07 L328.22,143.60 L345.52,143.60 L345.52,129.39ZM286.83,151.01 L271.39,151.01 L263.36,146.07 L247.91,149.47 L247.91,137.05 L272.01,137.05 L274.48,133.96 L286.83,131.86ZM320.81,151.01 L320.81,146.07 L301.04,129.39 L286.83,131.86 L286.83,151.01ZM271.39,151.01 L286.83,151.01 L286.83,161.02 L276.02,161.02ZM296.10,151.01 L296.10,166.46 L286.83,161.02 L286.83,151.01ZM308.46,166.46 L296.10,166.46 L296.10,151.01 L320.81,151.01 L304.13,162.75ZM296.10,166.46 L287.14,172.02 L276.02,161.02 L286.83,161.02ZM305.37,174.49 L300.18,180.54 L287.14,172.02 L296.10,166.46ZM305.37,174.49 L296.10,166.46 L308.46,166.46 L317.72,174.49ZM305.37,174.49 L300.18,180.54 L300.18,188.08 L302.90,191.17 L307.22,191.17 L307.22,174.49ZM307.22,174.49 L307.22,186.84 L320.81,186.84 L320.81,177.20 L317.72,174.49ZM330.70,194.26 L320.81,194.26 L320.81,181.90 L330.70,181.90ZM310.68,194.26 L307.22,191.17 L307.22,186.84 L320.81,186.84 L320.81,194.26ZM302.90,191.17 L307.22,191.17 L310.68,194.26 L307.53,210.94 L302.90,210.94 L305.61,194.26ZM330.70,194.26 L317.10,206.61 L308.33,206.61 L310.68,194.26ZM302.90,216.50 L302.90,210.94 L307.53,210.94 L308.33,206.61 L317.10,206.61 L317.10,216.50ZM345.52,152.25 L345.52,137.05 L376.41,137.05 L376.41,144.03ZM345.52,154.10 L345.52,152.25 L376.41,144.03 L376.41,154.10ZM376.41,154.10 L376.41,141.74 L388.77,141.74 L388.77,154.10ZM345.52,163.37 L345.52,154.10 L376.41,154.10 L376.41,163.37ZM339.34,172.82 L339.34,163.37 L372.09,163.37 L377.71,172.82ZM339.34,177.20 L339.34,172.82 L360.97,172.82 L356.64,181.90ZM356.64,181.90 L360.97,172.82 L368.38,172.82 L368.38,188.08 L356.64,188.08ZM368.38,172.82 L377.71,172.82 L378.70,174.49 L384.44,172.63 L384.44,177.20 L380.43,180.48 L368.38,180.48ZM368.38,188.08 L368.38,180.48 L380.43,180.48 L380.43,188.08ZM356.64,204.14 L356.64,188.08 L367.14,188.08 L367.14,204.14ZM367.14,188.08 L367.14,204.14 L370.85,204.14 L380.43,188.08ZM374.06,198.58 L380.43,188.08 L384.44,188.08 L384.44,198.58ZM376.41,141.74 L376.41,137.05 L409.77,131.24 L462.90,136.31 L462.90,141.74ZM240.50,141.74 L240.50,137.05 L247.91,137.05 L247.91,141.74ZM388.77,154.10 L388.77,141.74 L407.30,141.74 L407.30,154.10ZM407.30,154.10 L407.30,141.74 L432.01,141.74 L432.01,154.10ZM432.01,154.10 L432.01,141.74 L462.90,141.74 L462.90,144.90 L448.69,151.01 L445.60,154.10ZM376.41,163.37 L376.41,154.10 L398.03,154.10 L398.03,163.37 L388.77,163.37 L388.77,167.38 L381.11,163.37ZM398.03,159.04 L398.03,154.10 L423.98,154.10 L419.04,159.04ZM398.03,163.37 L398.03,159.04 L413.48,159.04 L413.48,163.37 L406.06,165.84ZM413.48,169.85 L413.48,159.04 L419.04,159.04 L423.98,154.10 L445.60,154.10 L433.25,166.46 L433.25,169.85ZM372.09,163.37 L381.11,163.37 L388.77,167.38 L388.77,169.98 L384.44,172.63 L378.70,174.49 L377.71,172.82ZM388.77,167.38 L388.77,163.37 L398.03,163.37 L406.06,165.84 L413.48,163.37 L413.48,169.85 L405.45,169.85 L400.50,177.20 L398.65,177.20 L394.94,169.85 L392.78,167.38ZM409.15,188.08 L409.15,169.85 L433.25,169.85 L433.25,178.81 L447.46,188.08ZM419.66,194.26 L419.66,188.08 L447.46,188.08 L447.46,194.26ZM419.66,200.43 L419.66,194.26 L441.59,194.26 L441.59,202.22 L438.19,200.43ZM441.59,194.26 L447.46,194.26 L447.46,205.38 L441.59,202.22ZM419.66,204.14 L419.66,200.43 L438.19,200.43 L447.46,205.38 L447.46,212.79ZM447.46,200.43 L447.46,212.79 L462.90,212.79 L462.90,200.43ZM240.50,233.18 L317.10,233.18 L317.10,228.23 L336.26,228.23 L354.79,221.44 L462.90,221.44 L462.90,237.50 L240.50,237.50ZM240.50,233.18 L240.50,225.14 L302.28,225.14 L311.54,219.89 L317.10,219.89 L317.10,233.18ZM240.50,137.05 L272.01,137.05 L274.48,133.96 L286.83,131.86 L301.04,129.39 L345.52,129.39 L345.52,137.05 L376.41,137.05 L409.77,131.24 L462.90,136.31 L462.90,126.30 L240.50,126.30ZM433.25,177.20 L433.25,166.46 L445.60,154.10 L448.69,151.01 L462.90,144.90 L462.90,177.20ZM240.50,177.20 L240.50,141.74 L247.91,141.74 L247.91,149.47 L263.36,146.07 L271.39,151.01 L276.02,161.02 L287.14,172.02 L295.05,177.20ZM433.25,177.20 L462.90,177.20 L462.90,188.08 L447.46,188.08 L433.25,178.81ZM240.50,177.20 L295.05,177.20 L300.18,180.54 L300.18,188.08 L240.50,188.08ZM447.46,188.08 L462.90,188.08 L462.90,200.43 L447.46,200.43ZM240.50,188.08 L300.18,188.08 L302.90,191.17 L305.61,194.26 L302.90,210.94 L302.90,216.50 L240.50,216.50ZM345.52,163.37 L345.52,143.60 L328.22,143.60 L325.75,146.07 L320.81,146.07 L320.81,151.01 L304.13,162.75 L308.46,166.46 L317.72,174.49 L320.81,177.20 L339.34,177.20 L339.34,163.37ZM320.81,177.20 L320.81,181.90 L330.70,181.90 L330.70,188.08 L356.64,188.08 L356.64,181.90 L339.34,177.20ZM330.70,188.08 L330.70,194.26 L317.10,206.61 L317.10,216.50 L356.64,204.14 L356.64,188.08ZM384.44,177.20 L384.44,172.63 L388.77,169.98 L388.77,167.38 L392.78,167.38 L394.94,169.85 L398.65,177.20ZM400.50,177.20 L405.45,169.85 L409.15,169.85 L409.15,177.20ZM380.43,188.08 L380.43,180.48 L384.44,177.20 L409.15,177.20 L409.15,188.08ZM370.85,204.14 L374.06,198.58 L384.44,198.58 L384.44,188.08 L419.66,188.08 L419.66,204.14ZM240.50,216.50 L317.10,216.50 L356.64,204.14 L419.66,204.14 L447.46,212.79 L462.90,212.79 L462.90,221.44 L354.79,221.44 L336.26,228.23 L317.10,228.23 L317.10,219.89 L311.54,219.89 L302.28,225.14 L240.50,225.14Z"/>
<g class="r">
<polygon points="523.54,129.39 543.31,146.07 548.25,146.07 550.72,143.60 568.02,143.60 568.02,129.39" fill="#D6604D" stroke="#D6604D"/>
<polygon points="509.33,151.01 493.89,151.01 485.86,146.07 470.41,149.47 470.41,137.05 494.51,137.05 496.98,133.96 509.33,131.86" fill="#D6604D" stroke="#D6604D"/>
<polygon points="543.31,151.01 543.31,146.07 523.54,129.39 509.33,131.86 509.33,151.01" fill="#D6604D" stroke="#D6604D"/>
<polygon points="493.89,151.01 509.33,151.01 509.33,161.02 498.52,161.02" fill="#F7F7F7" stroke="#F7F7F7"/>
<polygon points="518.60,151.01 518.60,166.46 509.33,161.02 509.33,151.01" fill="#FDDBC7" stroke="#FDDBC7"/>
<polygon points="530.96,166.46 518.60,166.46 518.60,151.01 543.31,151.01 526.63,162.75" fill="#FDDBC7" stroke="#FDDBC7"/>
<polygon points="518.60,166.46 509.64,172.02 498.52,161.02 509.33,161.02" fill="#FDDBC7" stroke="#FDDBC7"/>
<polygon points="527.87,174.49 522.68,180.54 509.64,172.02 518.60,166.46" fill="#D6604D" stroke="#D6604D"/>
<polygon points="527.87,174.49 518.60,166.46 530.96,166.46 540.22,174.49" fill="#D6604D" stroke="#D6604D"/>
<polygon points="527.87,174.49 522.68,180.54 522.68,188.08 525.40,191.17 529.72,191.17 529.72,174.49" fill="#B2182B" stroke="#B2182B"/>
<polygon points="529.72,174.49 529.72,186.84 543.31,186.84 543.31,177.20 540.22,174.49" fill="#D6604D" stroke="#D6604D"/>
<polygon points="553.20,194.26 543.31,194.26 543.31,181.90 553.20,181.90" fill="#B2182B" stroke="#B2182B"/>
<polygon points="533.18,194.26 529.72,191.17 529.72,186.84 543.31,186.84 543.31,194.26" fill="#D6604D" stroke="#D6604D"/>
<polygon points="525.40,191.17 529.72,191.17 533.18,194.26 530.03,210.94 525.40,210.94 528.11,194.26" fill="#D6604D" stroke="#D6604D"/>
<polygon points="553.20,194.26 539.60,206.61 530.83,206.61 533.18,194.26" fill="#B2182B" stroke="#B2182B"/>
<polygon points="525.40,216.50 525.40,210.94 530.03,210.94 530.83,206.61 539.60,206.61 539.60,216.50" fill="#D6604D" stroke="#D6604D"/>
<polygon points="568.02,152.25 568.02,137.05 598.91,137.05 598.91,144.03" fill="#F4A582" stroke="#F4A582"/>
<polygon points="568.02,154.10 568.02,152.25 598.91,144.03 598.91,154.10" fill="#D6604D" stroke="#D6604D"/>
<polygon points="598.91,154.10 598.91,141.74 611.27,141.74 611.27,154.10" fill="#B2182B" stroke="#B2182B"/>
<polygon points="568.02,163.37 568.02,154.10 598.91,154.10 598.91,163.37" fill="#D6604D" stroke="#D6604D"/>
<polygon points="561.84,172.82 561.84,163.37 594.59,163.37 600.21,172.82" fill="#D6604D" stroke="#D6604D"/>
<polygon points="561.84,177.20 561.84,172.82 583.47,172.82 579.14,181.90" fill="#F4A582" stroke="#F4A582"/>
<polygon points="579.14,181.90 583.47,172.82 590.88,172.82 590.88,188.08 579.14,188.08" fill="#FDDBC7" stroke="#FDDBC7"/>
<polygon points="590.88,172.82 600.21,172.82 601.20,174.49 606.94,172.63 606.94,177.20 602.93,180.48 590.88,180.48" fill="#D6604D" stroke="#D6604D"/>
<polygon points="590.88,188.08 590.88,180.48 602.93,180.48 602.93,188.08" fill="#B2182B" stroke="#B2182B"/>
<polygon points="579.14,204.14 579.14,188.08 589.64,188.08 589.64,204.14" fill="#D6604D" stroke="#D6604D"/>
<polygon points="589.64,188.08 589.64,204.14 593.35,204.14 602.93,188.08" fill="#F4A582" stroke="#F4A582"/>
<polygon points="596.56,198.58 602.93,188.08 606.94,188.08 606.94,198.58" fill="#D6604D" stroke="#D6604D"/>
<polygon points="598.91,141.74 598.91,137.05 632.27,131.24 685.40,136.31 685.40,141.74" fill="#F4A582" stroke="#F4A582"/>
<polygon points="463.00,141.74 463.00,137.05 470.41,137.05 470.41,141.74" fill="#F4A582" stroke="#F4A582"/>
<polygon points="611.27,154.10 611.27,141.74 629.80,141.74 629.80,154.10" fill="#D6604D" stroke="#D6604D"/>
<polygon points="629.80,154.10 629.80,141.74 654.51,141.74 654.51,154.10" fill="#FDDBC7" stroke="#FDDBC7"/>
<polygon points="654.51,154.10 654.51,141.74 685.40,141.74 685.40,144.90 671.19,151.01 668.10,154.10" fill="#D6604D" stroke="#D6604D"/>
<polygon points="598.91,163.37 598.91,154.10 620.53,154.10 620.53,163.37 611.27,163.37 611.27,167.38 603.61,163.37" fill="#D6604D" stroke="#D6604D"/>
<polygon points="620.53,159.04 620.53,154.10 646.48,154.10 641.54,159.04" fill="#FBE6DB" stroke="#FBE6DB"/>
<polygon points="620.53,163.37 620.53,159.04 635.98,159.04 635.98,163.37 628.56,165.84" fill="#FDDBC7" stroke="#FDDBC7"/>
<polygon points="635.98,169.85 635.98,159.04 641.54,159.04 646.48,154.10 668.10,154.10 655.75,166.46 655.75,169.85" fill="#D6604D" stroke="#D6604D"/>
<polygon points="594.59,163.37 603.61,163.37 611.27,167.38 611.27,169.98 606.94,172.63 601.20,174.49 600.21,172.82" fill="#D6604D" stroke="#D6604D"/>
<polygon points="611.27,167.38 611.27,163.37 620.53,163.37 628.56,165.84 635.98,163.37 635.98,169.85 627.95,169.85 623.00,177.20 621.15,177.20 617.44,169.85 615.28,167.38" fill="#F4A582" stroke="#F4A582"/>
<polygon points="631.65,188.08 631.65,169.85 655.75,169.85 655.75,178.81 669.96,188.08" fill="#B2182B" stroke="#B2182B"/>
<polygon points="642.16,194.26 642.16,188.08 669.96,188.08 669.96,194.26" fill="#B2182B" stroke="#B2182B"/>
<polygon points="642.16,200.43 642.16,194.26 664.09,194.26 664.09,202.22 660.69,200.43" fill="#D6604D" stroke="#D6604D"/>
<polygon points="664.09,194.26 669.96,194.26 669.96,205.38 664.09,202.22" fill="#D6604D" stroke="#D6604D"/>
<polygon points="642.16,204.14 642.16,200.43 660.69,200.43 669.96,205.38 669.96,212.79" fill="#F4A582" stroke="#F4A582"/>
<polygon points="669.96,200.43 669.96,212.79 685.40,212.79 685.40,200.43" fill="#F4A582" stroke="#F4A582"/>
<polygon points="463.00,233.18 539.60,233.18 539.60,228.23 558.76,228.23 577.29,221.44 685.40,221.44 685.40,237.50 463.00,237.50" fill="#F4A582" stroke="#F4A582"/>
<polygon points="463.00,233.18 463.00,225.14 524.78,225.14 534.04,219.89 539.60,219.89 539.60,233.18" fill="#F7F7F7" stroke="#F7F7F7"/>
<polygon points="463.00,137.05 494.51,137.05 496.98,133.96 509.33,131.86 523.54,129.39 568.02,129.39 568.02,137.05 598.91,137.05 632.27,131.24 685.40,136.31 685.40,126.30 463.00,126.30" fill="#D6604D" stroke="#D6604D"/>
<polygon points="655.75,177.20 655.75,166.46 668.10,154.10 671.19,151.01 685.40,144.90 685.40,177.20" fill="#D6604D" stroke="#D6604D"/>
<polygon points="463.00,177.20 463.00,141.74 470.41,141.74 470.41,149.47 485.86,146.07 493.89,151.01 498.52,161.02 509.64,172.02 517.55,177.20" fill="#D6604D" stroke="#D6604D"/>
<polygon points="655.75,177.20 685.40,177.20 685.40,188.08 669.96,188.08 655.75,178.81" fill="#B2182B" stroke="#B2182B"/>
<polygon points="463.00,177.20 517.55,177.20 522.68,180.54 522.68,188.08 463.00,188.08" fill="#B2182B" stroke="#B2182B"/>
<polygon points="669.96,188.08 685.40,188.08 685.40,200.43 669.96,200.43" fill="#B2182B" stroke="#B2182B"/>
<polygon points="463.00,188.08 522.68,188.08 525.40,191.17 528.11,194.26 525.40,210.94 525.40,216.50 463.00,216.50" fill="#B2182B" stroke="#B2182B"/>
<polygon points="568.02,163.37 568.02,143.60 550.72,143.60 548.25,146.07 543.31,146.07 543.31,151.01 526.63,162.75 530.96,166.46 540.22,174.49 543.31,177.20 561.84,177.20 561.84,163.37" fill="#D6604D" stroke="#D6604D"/>
<polygon points="543.31,177.20 543.31,181.90 553.20,181.90 553.20,188.08 579.14,188.08 579.14,181.90 561.84,177.20" fill="#D6604D" stroke="#D6604D"/>
<polygon points="553.20,188.08 553.20,194.26 539.60,206.61 539.60,216.50 579.14,204.14 579.14,188.08" fill="#D6604D" stroke="#D6604D"/>
<polygon points="606.94,177.20 606.94,172.63 611.27,169.98 611.27,167.38 615.28,167.38 617.44,169.85 621.15,177.20" fill="#D6604D" stroke="#D6604D"/>
<polygon points="623.00,177.20 627.95,169.85 631.65,169.85 631.65,177.20" fill="#D6604D" stroke="#D6604D"/>
<polygon points="602.93,188.08 602.93,180.48 606.94,177.20 631.65,177.20 631.65,188.08" fill="#B2182B" stroke="#B2182B"/>
<polygon points="593.35,204.14 596.56,198.58 606.94,198.58 606.94,188.08 642.16,188.08 642.16,204.14" fill="#D6604D" stroke="#D6604D"/>
<polygon points="463.00,216.50 539.60,216.50 579.14,204.14 642.16,204.14 669.96,212.79 685.40,212.79 685.40,221.44 577.29,221.44 558.76,228.23 539.60,228.23 539.60,219.89 534.04,219.89 524.78,225.14 463.00,225.14" fill="#FDDBC7" stroke="#FDDBC7"/>
</g>
<path class="o" d="M523.54,129.39 L543.31,146.07 L548.25,146.07 L550.72,143.60 L568.02,143.60 L568.02,129.39ZM509.33,151.01 L493.89,151.01 L485.86,146.07 L470.41,149.47 L470.41,137.05 L494.51,137.05 L496.98,133.96 L509.33,131.86ZM543.31,151.01 L543.31,146.07 L523.54,129.39 L509.33,131.86 L509.33,151.01ZM493.89,151.01 L509.33,151.01 L509.33,161.02 L498.52,161.02ZM518.60,151.01 L518.60,166.46 L509.33,161.02 L509.33,151.01ZM530.96,166.46 L518.60,166.46 L518.60,151.01 L543.31,151.01 L526.63,162.75ZM518.60,166.46 L509.64,172.02 L498.52,161.02 L509.33,161.02ZM527.87,174.49 L522.68,180.54 L509.64,172.02 L518.60,166.46ZM527.87,174.49 L518.60,166.46 L530.96,166.46 L540.22,174.49ZM527.87,174.49 L522.68,180.54 L522.68,188.08 L525.40,191.17 L529.72,191.17 L529.72,174.49ZM529.72,174.49 L529.72,186.84 L543.31,186.84 L543.31,177.20 L540.22,174.49ZM553.20,194.26 L543.31,194.26 L543.31,181.90 L553.20,181.90ZM533.18,194.26 L529.72,191.17 L529.72,186.84 L543.31,186.84 L543.31,194.26ZM525.40,191.17 L529.72,191.17 L533.18,194.26 L530.03,210.94 L525.40,210.94 L528.11,194.26ZM553.20,194.26 L539.60,206.61 L530.83,206.61 L533.18,194.26ZM525.40,216.50 L525.40,210.94 L530.03,210.94 L530.83,206.61 L539.60,206.61 L539.60,216.50ZM568.02,152.25 L568.02,137.05 L598.91,137.05 L598.91,144.03ZM568.02,154.10 L568.02,152.25 L598.91,144.03 L598.91,154.10ZM598.91,154.10 L598.91,141.74 L611.27,141.74 L611.27,154.10ZM568.02,163.37 L568.02,154.10 L598.91,154.10 L598.91,163.37ZM561.84,172.82 L561.84,163.37 L594.59,163.37 L600.21,172.82ZM561.84,177.20 L561.84,172.82 L583.47,172.82 L579.14,181.90ZM579.14,181.90 L583.47,172.82 L590.88,172.82 L590.88,188.08 L579.14,188.08ZM590.88,172.82 L600.21,172.82 L601.20,174.49 L606.94,172.63 L606.94,177.20 L602.93,180.48 L590.88,180.48ZM590.88,188.08 L590.88,180.48 L602.93,180.48 L602.93,188.08ZM579.14,204.14 L579.14,188.08 L589.64,188.08 L589.64,204.14ZM589.64,188.08 L589.64,204.14 L593.35,204.14 L602.93,188.08ZM596.56,198.58 L602.93,188.08 L606.94,188.08 L606.94,198.58ZM598.91,141.74 L598.91,137.05 L632.27,131.24 L685.40,136.31 L685.40,141.74ZM463.00,141.74 L463.00,137.05 L470.41,137.05 L470.41,141.74ZM611.27,154.10 L611.27,141.74 L629.80,141.74 L629.80,154.10ZM629.80,154.10 L629.80,141.74 L654.51,141.74 L654.51,154.10ZM654.51,154.10 L654.51,141.74 L685.40,141.74 L685.40,144.90 L671.19,151.01 L668.10,154.10ZM598.91,163.37 L598.91,154.10 L620.53,154.10 L620.53,163.37 L611.27,163.37 L611.27,167.38 L603.61,163.37ZM620.53,159.04 L620.53,154.10 L646.48,154.10 L641.54,159.04ZM620.53,163.37 L620.53,159.04 L635.98,159.04 L635.98,163.37 L628.56,165.84ZM635.98,169.85 L635.98,159.04 L641.54,159.04 L646.48,154.10 L668.10,154.10 L655.75,166.46 L655.75,169.85ZM594.59,163.37 L603.61,163.37 L611.27,167.38 L611.27,169.98 L606.94,172.63 L601.20,174.49 L600.21,172.82ZM611.27,167.38 L611.27,163.37 L620.53,163.37 L628.56,165.84 L635.98,163.37 L635.98,169.85 L627.95,169.85 L623.00,177.20 L621.15,177.20 L617.44,169.85 L615.28,167.38ZM631.65,188.08 L631.65,169.85 L655.75,169.85 L655.75,178.81 L669.96,188.08ZM642.16,194.26 L642.16,188.08 L669.96,188.08 L669.96,194.26ZM642.16,200.43 L642.16,194.26 L664.09,194.26 L664.09,202.22 L660.69,200.43ZM664.09,194.26 L669.96,194.26 L669.96,205.38 L664.09,202.22ZM642.16,204.14 L642.16,200.43 L660.69,200.43 L669.96,205.38 L669.96,212.79ZM669.96,200.43 L669.96,212.79 L685.40,212.79 L685.40,200.43ZM463.00,233.18 L539.60,233.18 L539.60,228.23 L558.76,228.23 L577.29,221.44 L685.40,221.44 L685.40,237.50 L463.00,237.50ZM463.00,233.18 L463.00,225.14 L524.78,225.14 L534.04,219.89 L539.60,219.89 L539.60,233.18ZM463.00,137.05 L494.51,137.05 L496.98,133.96 L509.33,131.86 L523.54,129.39 L568.02,129.39 L568.02,137.05 L598.91,137.05 L632.27,131.24 L685.40,136.31 L685.40,126.30 L463.00,126.30ZM655.75,177.20 L655.75,166.46 L668.10,154.10 L671.19,151.01 L685.40,144.90 L685.40,177.20ZM463.00,177.20 L463.00,141.74 L470.41,141.74 L470.41,149.47 L485.86,146.07 L493.89,151.01 L498.52,161.02 L509.64,172.02 L517.55,177.20ZM655.75,177.20 L685.40,177.20 L685.40,188.08 L669.96,188.08 L655.75,178.81ZM463.00,177.20 L517.55,177.20 L522.68,180.54 L522.68,188.08 L463.00,188.08ZM669.96,188.08 L685.40,188.08 L685.40,200.43 L669.96,200.43ZM463.00,188.08 L522.68,188.08 L525.40,191.17 L528.11,194.26 L525.40,210.94 L525.40,216.50 L463.00,216.50ZM568.02,163.37 L568.02,143.60 L550.72,143.60 L548.25,146.07 L543.31,146.07 L543.31,151.01 L526.63,162.75 L530.96,166.46 L540.22,174.49 L543.31,177.20 L561.84,177.20 L561.84,163.37ZM543.31,177.20 L543.31,181.90 L553.20,181.90 L553.20,188.08 L579.14,188.08 L579.14,181.90 L561.84,177.20ZM553.20,188.08 L553.20,194.26 L539.60,206.61 L539.60,216.50 L579.14,204.14 L579.14,188.08ZM606.94,177.20 L606.94,172.63 L611.27,169.98 L611.27,167.38 L615.28,167.38 L617.44,169.85 L621.15,177.20ZM623.00,177.20 L627.95,169.85 L631.65,169.85 L631.65,177.20ZM602.93,188.08 L602.93,180.48 L606.94,177.20 L631.65,177.20 L631.65,188.08ZM593.35,204.14 L596.56,198.58 L606.94,198.58 L606.94,188.08 L642.16,188.08 L642.16,204.14ZM463.00,216.50 L539.60,216.50 L579.14,204.14 L642.16,204.14 L669.96,212.79 L685.40,212.79 L685.40,221.44 L577.29,221.44 L558.76,228.23 L539.60,228.23 L539.60,219.89 L534.04,219.89 L524.78,225.14 L463.00,225.14Z"/>
<g class="r">
<polygon points="78.54,240.59 98.31,257.27 103.25,257.27 105.72,254.80 123.02,254.80 123.02,240.59" fill="#FFFFB2" stroke="#FFFFB2"/>
<polygon points="64.33,262.21 48.89,262.21 40.86,257.27 25.41,260.67 25.41,248.25 49.51,248.25 51.98,245.16 64.33,243.06" fill="#FFFFB2" stroke="#FFFFB2"/>
<polygon points="98.31,262.21 98.31,257.27 78.54,240.59 64.33,243.06 64.33,262.21" fill="#FFFFB2" stroke="#FFFFB2"/>
<polygon points="48.89,262.21 64.33,262.21 64.33,272.22 53.52,272.22" fill="#FFFFB2" stroke="#FFFFB2"/>
<polygon points="73.60,262.21 73.60,277.66 64.33,272.22 64.33,262.21" fill="#FFFFB2" stroke="#FFFFB2"/>
<polygon points="85.96,277.66 73.60,277.66 73.60,262.21 98.31,262.21 81.63,273.95" fill="#FFFFB2" stroke="#FFFFB2"/>
<polygon points="73.60,277.66 64.64,283.22 53.52,272.22 64.33,272.22" fill="#FFFFB2" stroke="#FFFFB2"/>
<polygon points="82.87,285.69 77.68,291.74 64.64,283.22 73.60,277.66" fill="#FFFFB2" stroke="#FFFFB2"/>
<polygon points="82.87,285.69 73.60,277.66 85.96,277.66 95.22,285.69" fill="#FFFFB2" stroke="#FFFFB2"/>
<polygon points="82.87,285.69 77.68,291.74 77.68,299.28 80.40,302.37 84.72,302.37 84.72,285.69" fill="#FFFFB2" stroke="#FFFFB2"/>
<polygon points="84.72,285.69 84.72,298.04 98.31,298.04 98.31,288.40 95.22,285.69" fill="#FFFFB2" stroke="#FFFFB2"/>
<polygon points="108.20,305.46 98.31,305.46 98.31,293.10 108.20,293.10" fill="#FFFFB2" stroke="#FFFFB2"/>
<polygon points="88.18,305.46 84.72,302.37 84.72,298.04 98.31,298.04 98.31,305.46" fill="#FFFFB2" stroke="#FFFFB2"/>
<polygon points="80.40,302.37 84.72,302.37 88.18,305.46 85.03,322.14 80.40,322.14 83.11,305.46" fill="#FFFFB2" stroke="#FFFFB2"/>
<polygon points="108.20,305.46 94.60,317.81 85.83,317.81 88.18,305.46" fill="#FFFFB2" stroke="#FFFFB2"/>
<polygon points="80.40,327.70 80.40,322.14 85.03,322.14 85.83,317.81 94.60,317.81 94.60,327.70" fill="#FFFFB2" stroke="#FFFFB2"/>
<polygon points="123.02,263.45 123.02,248.25 153.91,248.25 153.91,255.23" fill="#FFFFB2" stroke="#FFFFB2"/>
<polygon points="123.02,265.30 123.02,263.45 153.91,255.23 153.91,265.30" fill="#FFFFB2" stroke="#FFFFB2"/>
<polygon points="153.91,265.30 153.91,252.94 166.27,252.94 166.27,265.30" fill="#FFFFB2" stroke="#FFFFB2"/>
<polygon points="123.02,274.57 123.02,265.30 153.91,265.30 153.91,274.57" fill="#FFFFB2" stroke="#FFFFB2"/>
<polygon points="116.84,284.02 116.84,274.57 149.59,274.57 155.21,284.02" fill="#FFFFB2" stroke="#FFFFB2"/>
<polygon points="116.84,288.40 116.84,284.02 138.47,284.02 134.14,293.10" fill="#FFFFB2" stroke="#FFFFB2"/>
<polygon points="134.14,293.10 138.47,284.02 145.88,284.02 145.88,299.28 134.14,299.28" fill="#FFFFB2" stroke="#FFFFB2"/>
<polygon points="145.88,284.02 155.21,284.02 156.20,285.69 161.94,283.83 161.94,288.40 157.93,291.68 145.88,291.68" fill="#FFFFB2" stroke="#FFFFB2"/>
<polygon points="145.88,299.28 145.88,291.68 157.93,291.68 157.93,299.28" fill="#FFFFB2" stroke="#FFFFB2"/>
<polygon points="134.14,315.34 134.14,299.28 144.64,299.28 144.64,315.34" fill="#FFFFB2" stroke="#FFFFB2"/>
<polygon points="144.64,299.28 144.64,315.34 148.35,315.34 157.93,299.28" fill="#FFFFB2" stroke="#FFFFB2"/>
<polygon points="151.56,309.78 157.93,299.28 161.94,299.28 161.94,309.78" fill="#FFFFB2" stroke="#FFFFB2"/>
<polygon points="153.91,252.94 153.91,248.25 187.27,242.44 240.40,247.51 240.40,252.94" fill="#FFFFB2" stroke="#FFFFB2"/>
<polygon points="18.00,252.94 18.00,248.25 25.41,248.25 25.41,252.94" fill="#FFFFB2" stroke="#FFFFB2"/>
<polygon points="166.27,265.30 166.27,252.94 184.80,252.94 184.80,265.30" fill="#FFFFB2" stroke="#FFFFB2"/>
<polygon points="184.80,265.30 184.80,252.94 209.51,252.94 209.51,265.30" fill="#FFFFB2" stroke="#FFFFB2"/>
<polygon points="209.51,265.30 209.51,252.94 240.40,252.94 240.40,256.10 226.19,262.21 223.10,265.30" fill="#FFFFB2" stroke="#FFFFB2"/>
<polygon points="153.91,274.57 153.91,265.30 175.53,265.30 175.53,274.57 166.27,274.57 166.27,278.58 158.61,274.57" fill="#FFFFB2" stroke="#FFFFB2"/>
<polygon points="175.53,270.24 175.53,265.30 201.48,265.30 196.54,270.24" fill="#FFFFB2" stroke="#FFFFB2"/>
<polygon points="175.53,274.57 175.53,270.24 190.98,270.24 190.98,274.57 183.56,277.04" fill="#FFFFB2" stroke="#FFFFB2"/>
<polygon points="190.98,281.05 190.98,270.24 196.54,270.24 201.48,265.30 223.10,265.30 210.75,277.66 210.75,281.05" fill="#FFFFB2" stroke="#FFFFB2"/>
<polygon points="149.59,274.57 158.61,274.57 166.27,278.58 166.27,281.18 161.94,283.83 156.20,285.69 155.21,284.02" fill="#FFFFB2" stroke="#FFFFB2"/>
<polygon points="166.27,278.58 166.27,274.57 175.53,274.57 183.56,277.04 190.98,274.57 190.98,281.05 182.95,281.05 178.00,288.40 176.15,288.40 172.44,281.05 170.28,278.58" fill="#FFFFB2" stroke="#FFFFB2"/>
<polygon points="186.65,299.28 186.65,281.05 210.75,281.05 210.75,290.01 224.96,299.28" fill="#FFFFB2" stroke="#FFFFB2"/>
<polygon points="197.16,305.46 197.16,299.28 224.96,299.28 224.96,305.46" fill="#FFFFB2" stroke="#FFFFB2"/>
<polygon points="197.16,311.63 197.16,305.46 219.09,305.46 219.09,313.42 215.69,311.63" fill="#FFFFB2" stroke="#FFFFB2"/>
<polygon points="219.09,305.46 224.96,305.46 224.96,316.58 219.09,313.42" fill="#FFFFB2" stroke="#FFFFB2"/>
<polygon points="197.16,315.34 197.16,311.63 215.69,311.63 224.96,316.58 224.96,323.99" fill="#FFFFB2" stroke="#FFFFB2"/>
<polygon points="224.96,311.63 224.96,323.99 240.40,323.99 240.40,311.63" fill="#FFFFB2" stroke="#FFFFB2"/>
<polygon points="18.00,344.38 94.60,344.38 94.60,339.43 113.76,339.43 132.29,332.64 240.40,332.64 240.40,348.70 18.00,348.70" fill="#FFFFB2" stroke="#FFFFB2"/>
<polygon points="18.00,344.38 18.00,336.34 79.78,336.34 89.04,331.09 94.60,331.09 94.60,344.38" fill="#FFFFB2" stroke="#FFFFB2"/>
<polygon points="18.00,248.25 49.51,248.25 51.98,245.16 64.33,243.06 78.54,240.59 123.02,240.59 123.02,248.25 153.91,248.25 187.27,242.44 240.40,247.51 240.40,237.50 18.00,237.50" fill="#FFFFB2" stroke="#FFFFB2"/>
<polygon points="210.75,288.40 210.75,277.66 223.10,265.30 226.19,262.21 240.40,256.10 240.40,288.40" fill="#FFFFB2" stroke="#FFFFB2"/>
<polygon points="18.00,288.40 18.00,252.94 25.41,252.94 25.41,260.67 40.86,257.27 48.89,262.21 53.52,272.22 64.64,283.22 72.55,288.40" fill="#FFFFB2" stroke="#FFFFB2"/>
<polygon points="210.75,288.40 240.40,288.40 240.40,299.28 224.96,299.28 210.75,290.01" fill="#FFFFB2" stroke="#FFFFB2"/>
<polygon points="18.00,288.40 72.55,288.40 77.68,291.74 77.68,299.28 18.00,299.28" fill="#FFFFB2" stroke="#FFFFB2"/>
<polygon points="224.96,299.28 240.40,299.28 240.40,311.63 224.96,311.63" fill="#FFFFB2" stroke="#FFFFB2"/>
<polygon points="18.00,299.28 77.68,299.28 80.40,302.37 83.11,305.46 80.40,322.14 80.40,327.70 18.00,327.70" fill="#FFFFB2" stroke="#FFFFB2"/>
<polygon points="123.02,274.57 123.02,254.80 105.72,254.80 103.25,257.27 98.31,257.27 98.31,262.21 81.63,273.95 85.96,277.66 95.22,285.69 98.31,288.40 116.84,288.40 116.84,274.57" fill="#FFFFB2" stroke="#FFFFB2"/>
<polygon points="98.31,288.40 98.31,293.10 108.20,293.10 108.20,299.28 134.14,299.28 134.14,293.10 116.84,288.40" fill="#FFFFB2" stroke="#FFFFB2"/>
<polygon points="108.20,299.28 108.20,305.46 94.60,317.81 94.60,327.70 134.14,315.34 134.14,299.28" fill="#FFFFB2" stroke="#FFFFB2"/>
<polygon points="161.94,288.40 161.94,283.83 166.27,281.18 166.27,278.58 170.28,278.58 172.44,281.05 176.15,288.40" fill="#FFFFB2" stroke="#FFFFB2"/>
<polygon points="178.00,288.40 182.95,281.05 186.65,281.05 186.65,288.40" fill="#FFFFB2" stroke="#FFFFB2"/>
<polygon points="157.93,299.28 157.93,291.68 161.94,288.40 186.65,288.40 186.65,299.28" fill="#FFFFB2" stroke="#FFFFB2"/>
<polygon points="148.35,315.34 151.56,309.78 161.94,309.78 161.94,299.28 197.16,299.28 197.16,315.34" fill="#FFFFB2" stroke="#FFFFB2"/>
<polygon points="18.00,327.70 94.60,327.70 134.14,315.34 197.16,315.34 224.96,323.99 240.40,323.99 240.40,332.64 132.29,332.64 113.76,339.43 94.60,339.43 94.60,331.09 89.04,331.09 79.78,336.34 18.00,336.34" fill="#FFFFB2" stroke="#FFFFB2"/>
</g>
<g class="h" fill="url(#hp20)">
<polygon points="18.00,248.25 49.51,248.25 51.98,245.16 64.33,243.06 78.54,240.59 123.02,240.59 123.02,248.25 153.91,248.25 187.27,242.44 240.40,247.51 240.40,237.50 18.00,237.50"/>
<polygon points="153.91,252.94 153.91,248.25 187.27,242.44 240.40,247.51 240.40,252.94"/>
<polygon points="18.00,252.94 18.00,248.25 25.41,248.25 25.41,252.94"/>
<polygon points="98.31,262.21 98.31,257.27 78.54,240.59 64.33,243.06 64.33,262.21"/>
<polygon points="78.54,240.59 98.31,257.27 103.25,257.27 105.72,254.80 123.02,254.80 123.02,240.59"/>
<polygon points="48.89,262.21 64.33,262.21 64.33,272.22 53.52,272.22"/>
<polygon points="73.60,262.21 73.60,277.66 64.33,272.22 64.33,262.21"/>
<polygon points="85.96,277.66 73.60,277.66 73.60,262.21 98.31,262.21 81.63,273.95"/>
<polygon points="123.02,274.57 123.02,254.80 105.72,254.80 103.25,257.27 98.31,257.27 98.31,262.21 81.63,273.95 85.96,277.66 95.22,285.69 98.31,288.40 116.84,288.40 116.84,274.57"/>
<polygon points="82.87,285.69 77.68,291.74 77.68,299.28 80.40,302.37 84.72,302.37 84.72,285.69"/>
<polygon points="84.72,285.69 84.72,298.04 98.31,298.04 98.31,288.40 95.22,285.69"/>
<polygon points="88.18,305.46 84.72,302.37 84.72,298.04 98.31,298.04 98.31,305.46"/>
<polygon points="108.20,305.46 94.60,317.81 85.83,317.81 88.18,305.46"/>
<polygon points="123.02,263.45 123.02,248.25 153.91,248.25 153.91,255.23"/>
<polygon points="123.02,265.30 123.02,263.45 153.91,255.23 153.91,265.30"/>
<polygon points="153.91,265.30 153.91,252.94 166.27,252.94 166.27,265.30"/>
<polygon points="166.27,265.30 166.27,252.94 184.80,252.94 184.80,265.30"/>
<polygon points="184.80,265.30 184.80,252.94 209.51,252.94 209.51,265.30"/>
<polygon points="123.02,274.57 123.02,265.30 153.91,265.30 153.91,274.57"/>
<polygon points="153.91,274.57 153.91,265.30 175.53,265.30 175.53,274.57 166.27,274.57 166.27,278.58 158.61,274.57"/>
<polygon points="175.53,270.24 175.53,265.30 201.48,265.30 196.54,270.24"/>
<polygon points="175.53,274.57 175.53,270.24 190.98,270.24 190.98,274.57 183.56,277.04"/>
<polygon points="161.94,288.40 161.94,283.83 166.27,281.18 166.27,278.58 170.28,278.58 172.44,281.05 176.15,288.40"/>
<polygon points="145.88,299.28 145.88,291.68 157.93,291.68 157.93,299.28"/>
<polygon points="151.56,309.78 157.93,299.28 161.94,299.28 161.94,309.78"/>
<polygon points="197.16,305.46 197.16,299.28 224.96,299.28 224.96,305.46"/>
<polygon points="219.09,305.46 224.96,305.46 224.96,316.58 219.09,313.42"/>
<polygon points="18.00,327.70 94.60,327.70 134.14,315.34 197.16,315.34 224.96,323.99 240.40,323.99 240.40,332.64 132.29,332.64 113.76,339.43 94.60,339.43 94.60,331.09 89.04,331.09 79.78,336.34 18.00,336.34"/>
<polygon points="18.00,344.38 18.00,336.34 79.78,336.34 89.04,331.09 94.60,331.09 94.60,344.38"/>
<polygon points="18.00,344.38 94.60,344.38 94.60,339.43 113.76,339.43 132.29,332.64 240.40,332.64 240.40,348.70 18.00,348.70"/>
</g>
<path class="o" d="M78.54,240.59 L98.31,257.27 L103.25,257.27 L105.72,254.80 L123.02,254.80 L123.02,240.59ZM64.33,262.21 L48.89,262.21 L40.86,257.27 L25.41,260.67 L25.41,248.25 L49.51,248.25 L51.98,245.16 L64.33,243.06ZM98.31,262.21 L98.31,257.27 L78.54,240.59 L64.33,243.06 L64.33,262.21ZM48.89,262.21 L64.33,262.21 L64.33,272.22 L53.52,272.22ZM73.60,262.21 L73.60,277.66 L64.33,272.22 L64.33,262.21ZM85.96,277.66 L73.60,277.66 L73.60,262.21 L98.31,262.21 L81.63,273.95ZM73.60,277.66 L64.64,283.22 L53.52,272.22 L64.33,272.22ZM82.87,285.69 L77.68,291.74 L64.64,283.22 L73.60,277.66ZM82.87,285.69 L73.60,277.66 L85.96,277.66 L95.22,285.69ZM82.87,285.69 L77.68,291.74 L77.68,299.28 L80.40,302.37 L84.72,302.37 L84.72,285.69ZM84.72,285.69 L84.72,298.04 L98.31,298.04 L98.31,288.40 L95.22,285.69ZM108.20,305.46 L98.31,305.46 L98.31,293.10 L108.20,293.10ZM88.18,305.46 L84.72,302.37 L84.72,298.04 L98.31,298.04 L98.31,305.46ZM80.40,302.37 L84.72,302.37 L88.18,305.46 L85.03,322.14 L80.40,322.14 L83.11,305.46ZM108.20,305.46 L94.60,317.81 L85.83,317.81 L88.18,305.46ZM80.40,327.70 L80.40,322.14 L85.03,322.14 L85.83,317.81 L94.60,317.81 L94.60,327.70ZM123.02,263.45 L123.02,248.25 L153.91,248.25 L153.91,255.23ZM123.02,265.30 L123.02,263.45 L153.91,255.23 L153.91,265.30ZM153.91,265.30 L153.91,252.94 L166.27,252.94 L166.27,265.30ZM123.02,274.57 L123.02,265.30 L153.91,265.30 L153.91,274.57ZM116.84,284.02 L116.84,274.57 L149.59,274.57 L155.21,284.02ZM116.84,288.40 L116.84,284.02 L138.47,284.02 L134.14,293.10ZM134.14,293.10 L138.47,284.02 L145.88,284.02 L145.88,299.28 L134.14,299.28ZM145.88,284.02 L155.21,284.02 L156.20,285.69 L161.94,283.83 L161.94,288.40 L157.93,291.68 L145.88,291.68ZM145.88,299.28 L145.88,291.68 L157.93,291.68 L157.93,299.28ZM134.14,315.34 L134.14,299.28 L144.64,299.28 L144.64,315.34ZM144.64,299.28 L144.64,315.34 L148.35,315.34 L157.93,299.28ZM151.56,309.78 L157.93,299.28 L161.94,299.28 L161.94,309.78ZM153.91,252.94 L153.91,248.25 L187.27,242.44 L240.40,247.51 L240.40,252.94ZM18.00,252.94 L18.00,248.25 L25.41,248.25 L25.41,252.94ZM166.27,265.30 L166.27,252.94 L184.80,252.94 L184.80,265.30ZM184.80,265.30 L184.80,252.94 L209.51,252.94 L209.51,265.30ZM209.51,265.30 L209.51,252.94 L240.40,252.94 L240.40,256.10 L226.19,262.21 L223.10,265.30ZM153.91,274.57 L153.91,265.30 L175.53,265.30 L175.53,274.57 L166.27,274.57 L166.27,278.58 L158.61,274.57ZM175.53,270.24 L175.53,265.30 L201.48,265.30 L196.54,270.24ZM175.53,274.57 L175.53,270.24 L190.98,270.24 L190.98,274.57 L183.56,277.04ZM190.98,281.05 L190.98,270.24 L196.54,270.24 L201.48,265.30 L223.10,265.30 L210.75,277.66 L210.75,281.05ZM149.59,274.57 L158.61,274.57 L166.27,278.58 L166.27,281.18 L161.94,283.83 L156.20,285.69 L155.21,284.02ZM166.27,278.58 L166.27,274.57 L175.53,274.57 L183.56,277.04 L190.98,274.57 L190.98,281.05 L182.95,281.05 L178.00,288.40 L176.15,288.40 L172.44,281.05 L170.28,278.58ZM186.65,299.28 L186.65,281.05 L210.75,281.05 L210.75,290.01 L224.96,299.28ZM197.16,305.46 L197.16,299.28 L224.96,299.28 L224.96,305.46ZM197.16,311.63 L197.16,305.46 L219.09,305.46 L219.09,313.42 L215.69,311.63ZM219.09,305.46 L224.96,305.46 L224.96,316.58 L219.09,313.42ZM197.16,315.34 L197.16,311.63 L215.69,311.63 L224.96,316.58 L224.96,323.99ZM224.96,311.63 L224.96,323.99 L240.40,323.99 L240.40,311.63ZM18.00,344.38 L94.60,344.38 L94.60,339.43 L113.76,339.43 L132.29,332.64 L240.40,332.64 L240.40,348.70 L18.00,348.70ZM18.00,344.38 L18.00,336.34 L79.78,336.34 L89.04,331.09 L94.60,331.09 L94.60,344.38ZM18.00,248.25 L49.51,248.25 L51.98,245.16 L64.33,243.06 L78.54,240.59 L123.02,240.59 L123.02,248.25 L153.91,248.25 L187.27,242.44 L240.40,247.51 L240.40,237.50 L18.00,237.50ZM210.75,288.40 L210.75,277.66 L223.10,265.30 L226.19,262.21 L240.40,256.10 L240.40,288.40ZM18.00,288.40 L18.00,252.94 L25.41,252.94 L25.41,260.67 L40.86,257.27 L48.89,262.21 L53.52,272.22 L64.64,283.22 L72.55,288.40ZM210.75,288.40 L240.40,288.40 L240.40,299.28 L224.96,299.28 L210.75,290.01ZM18.00,288.40 L72.55,288.40 L77.68,291.74 L77.68,299.28 L18.00,299.28ZM224.96,299.28 L240.40,299.28 L240.40,311.63 L224.96,311.63ZM18.00,299.28 L77.68,299.28 L80.40,302.37 L83.11,305.46 L80.40,322.14 L80.40,327.70 L18.00,327.70ZM123.02,274.57 L123.02,254.80 L105.72,254.80 L103.25,257.27 L98.31,257.27 L98.31,262.21 L81.63,273.95 L85.96,277.66 L95.22,285.69 L98.31,288.40 L116.84,288.40 L116.84,274.57ZM98.31,288.40 L98.31,293.10 L108.20,293.10 L108.20,299.28 L134.14,299.28 L134.14,293.10 L116.84,288.40ZM108.20,299.28 L108.20,305.46 L94.60,317.81 L94.60,327.70 L134.14,315.34 L134.14,299.28ZM161.94,288.40 L161.94,283.83 L166.27,281.18 L166.27,278.58 L170.28,278.58 L172.44,281.05 L176.15,288.40ZM178.00,288.40 L182.95,281.05 L186.65,281.05 L186.65,288.40ZM157.93,299.28 L157.93,291.68 L161.94,288.40 L186.65,288.40 L186.65,299.28ZM148.35,315.34 L151.56,309.78 L161.94,309.78 L161.94,299.28 L197.16,299.28 L197.16,315.34ZM18.00,327.70 L94.60,327.70 L134.14,315.34 L197.16,315.34 L224.96,323.99 L240.40,323.99 L240.40,332.64 L132.29,332.64 L113.76,339.43 L94.60,339.43 L94.60,331.09 L89.04,331.09 L79.78,336.34 L18.00,336.34Z"/>
<path class="oh" d="M18.00,248.25 L49.51,248.25 L51.98,245.16 L64.33,243.06 L78.54,240.59 L123.02,240.59 L123.02,248.25 L153.91,248.25 L187.27,242.44 L240.40,247.51 L240.40,237.50 L18.00,237.50ZM153.91,252.94 L153.91,248.25 L187.27,242.44 L240.40,247.51 L240.40,252.94ZM18.00,252.94 L18.00,248.25 L25.41,248.25 L25.41,252.94ZM98.31,262.21 L98.31,257.27 L78.54,240.59 L64.33,243.06 L64.33,262.21ZM78.54,240.59 L98.31,257.27 L103.25,257.27 L105.72,254.80 L123.02,254.80 L123.02,240.59ZM48.89,262.21 L64.33,262.21 L64.33,272.22 L53.52,272.22ZM73.60,262.21 L73.60,277.66 L64.33,272.22 L64.33,262.21ZM85.96,277.66 L73.60,277.66 L73.60,262.21 L98.31,262.21 L81.63,273.95ZM123.02,274.57 L123.02,254.80 L105.72,254.80 L103.25,257.27 L98.31,257.27 L98.31,262.21 L81.63,273.95 L85.96,277.66 L95.22,285.69 L98.31,288.40 L116.84,288.40 L116.84,274.57ZM82.87,285.69 L77.68,291.74 L77.68,299.28 L80.40,302.37 L84.72,302.37 L84.72,285.69ZM84.72,285.69 L84.72,298.04 L98.31,298.04 L98.31,288.40 L95.22,285.69ZM88.18,305.46 L84.72,302.37 L84.72,298.04 L98.31,298.04 L98.31,305.46ZM108.20,305.46 L94.60,317.81 L85.83,317.81 L88.18,305.46ZM123.02,263.45 L123.02,248.25 L153.91,248.25 L153.91,255.23ZM123.02,265.30 L123.02,263.45 L153.91,255.23 L153.91,265.30ZM153.91,265.30 L153.91,252.94 L166.27,252.94 L166.27,265.30ZM166.27,265.30 L166.27,252.94 L184.80,252.94 L184.80,265.30ZM184.80,265.30 L184.80,252.94 L209.51,252.94 L209.51,265.30ZM123.02,274.57 L123.02,265.30 L153.91,265.30 L153.91,274.57ZM153.91,274.57 L153.91,265.30 L175.53,265.30 L175.53,274.57 L166.27,274.57 L166.27,278.58 L158.61,274.57ZM175.53,270.24 L175.53,265.30 L201.48,265.30 L196.54,270.24ZM175.53,274.57 L175.53,270.24 L190.98,270.24 L190.98,274.57 L183.56,277.04ZM161.94,288.40 L161.94,283.83 L166.27,281.18 L166.27,278.58 L170.28,278.58 L172.44,281.05 L176.15,288.40ZM145.88,299.28 L145.88,291.68 L157.93,291.68 L157.93,299.28ZM151.56,309.78 L157.93,299.28 L161.94,299.28 L161.94,309.78ZM197.16,305.46 L197.16,299.28 L224.96,299.28 L224.96,305.46ZM219.09,305.46 L224.96,305.46 L224.96,316.58 L219.09,313.42ZM18.00,327.70 L94.60,327.70 L134.14,315.34 L197.16,315.34 L224.96,323.99 L240.40,323.99 L240.40,332.64 L132.29,332.64 L113.76,339.43 L94.60,339.43 L94.60,331.09 L89.04,331.09 L79.78,336.34 L18.00,336.34ZM18.00,344.38 L18.00,336.34 L79.78,336.34 L89.04,331.09 L94.60,331.09 L94.60,344.38ZM18.00,344.38 L94.60,344.38 L94.60,339.43 L113.76,339.43 L132.29,332.64 L240.40,332.64 L240.40,348.70 L18.00,348.70Z"/>
<g class="r">
<polygon points="301.04,240.59 320.81,257.27 325.75,257.27 328.22,254.80 345.52,254.80 345.52,240.59" fill="#FFFFB2" stroke="#FFFFB2"/>
<polygon points="286.83,262.21 271.39,262.21 263.36,257.27 247.91,260.67 247.91,248.25 272.01,248.25 274.48,245.16 286.83,243.06" fill="#FFFFB2" stroke="#FFFFB2"/>
<polygon points="320.81,262.21 320.81,257.27 301.04,240.59 286.83,243.06 286.83,262.21" fill="#FFFFB2" stroke="#FFFFB2"/>
<polygon points="271.39,262.21 286.83,262.21 286.83,272.22 276.02,272.22" fill="#FFFFB2" stroke="#FFFFB2"/>
<polygon points="296.10,262.21 296.10,277.66 286.83,272.22 286.83,262.21" fill="#FFFFB2" stroke="#FFFFB2"/>
<polygon points="308.46,277.66 296.10,277.66 296.10,262.21 320.81,262.21 304.13,273.95" fill="#FFFFB2" stroke="#FFFFB2"/>
<polygon points="296.10,277.66 287.14,283.22 276.02,272.22 286.83,272.22" fill="#FFFFB2" stroke="#FFFFB2"/>
<polygon points="305.37,285.69 300.18,291.74 287.14,283.22 296.10,277.66" fill="#FFFFB2" stroke="#FFFFB2"/>
<polygon points="305.37,285.69 296.10,277.66 308.46,277.66 317.72,285.69" fill="#FFFFB2" stroke="#FFFFB2"/>
<polygon points="305.37,285.69 300.18,291.74 300.18,299.28 302.90,302.37 307.22,302.37 307.22,285.69" fill="#FFFFB2" stroke="#FFFFB2"/>
<polygon points="307.22,285.69 307.22,298.04 320.81,298.04 320.81,288.40 317.72,285.69" fill="#FFFFB2" stroke="#FFFFB2"/>
<polygon points="330.70,305.46 320.81,305.46 320.81,293.10 330.70,293.10" fill="#FFFFB2" stroke="#FFFFB2"/>
<polygon points="310.68,305.46 307.22,302.37 307.22,298.04 320.81,298.04 320.81,305.46" fill="#FFFFB2" stroke="#FFFFB2"/>
<polygon points="302.90,302.37 307.22,302.37 310.68,305.46 307.53,322.14 302.90,322.14 305.61,305.46" fill="#FFFFB2" stroke="#FFFFB2"/>
<polygon points="330.70,305.46 317.10,317.81 308.33,317.81 310.68,305.46" fill="#FFFFB2" stroke="#FFFFB2"/>
<polygon points="302.90,327.70 302.90,322.14 307.53,322.14 308.33,317.81 317.10,317.81 317.10,327.70" fill="#FFFFB2" stroke="#FFFFB2"/>
<polygon points="345.52,263.45 345.52,248.25 376.41,248.25 376.41,255.23" fill="#FFFFB2" stroke="#FFFFB2"/>
<polygon points="345.52,265.30 345.52,263.45 376.41,255.23 376.41,265.30" fill="#FFFFB2" stroke="#FFFFB2"/>
<polygon points="376.41,265.30 376.41,252.94 388.77,252.94 388.77,265.30" fill="#FFFFB2" stroke="#FFFFB2"/>
<polygon points="345.52,274.57 345.52,265.30 376.41,265.30 376.41,274.57" fill="#FFFFB2" stroke="#FFFFB2"/>
<polygon points="339.34,284.02 339.34,274.57 372.09,274.57 377.71,284.02" fill="#FFFFB2" stroke="#FFFFB2"/>
<polygon points="339.34,288.40 339.34,284.02 360.97,284.02 356.64,293.10" fill="#FFFFB2" stroke="#FFFFB2"/>
<polygon points="356.64,293.10 360.97,284.02 368.38,284.02 368.38,299.28 356.64,299.28" fill="#FFFFB2" stroke="#FFFFB2"/>
<polygon points="368.38,284.02 377.71,284.02 378.70,285.69 384.44,283.83 384.44,288.40 380.43,291.68 368.38,291.68" fill="#FFFFB2" stroke="#FFFFB2"/>
<polygon points="368.38,299.28 368.38,291.68 380.43,291.68 380.43,299.28" fill="#FFFFB2" stroke="#FFFFB2"/>
<polygon points="356.64,315.34 356.64,299.28 367.14,299.28 367.14,315.34" fill="#FFFFB2" stroke="#FFFFB2"/>
<polygon points="367.14,299.28 367.14,315.34 370.85,315.34 380.43,299.28" fill="#FFFFB2" stroke="#FFFFB2"/>
<polygon points="374.06,309.78 380.43,299.28 384.44,299.28 384.44,309.78" fill="#FFFFB2" stroke="#FFFFB2"/>
<polygon points="376.41,252.94 376.41,248.25 409.77,242.44 462.90,247.51 462.90,252.94" fill="#FFFFB2" stroke="#FFFFB2"/>
<polygon points="240.50,252.94 240.50,248.25 247.91,248.25 247.91,252.94" fill="#FFFFB2" stroke="#FFFFB2"/>
<polygon points="388.77,265.30 388.77,252.94 407.30,252.94 407.30,265.30" fill="#FFFFB2" stroke="#FFFFB2"/>
<polygon points="407.30,265.30 407.30,252.94 432.01,252.94 432.01,265.30" fill="#FFFFB2" stroke="#FFFFB2"/>
<polygon points="432.01,265.30 432.01,252.94 462.90,252.94 462.90,256.10 448.69,262.21 445.60,265.30" fill="#FFFFB2" stroke="#FFFFB2"/>
<polygon points="376.41,274.57 376.41,265.30 398.03,265.30 398.03,274.57 388.77,274.57 388.77,278.58 381.11,274.57" fill="#FFFFB2" stroke="#FFFFB2"/>
<polygon points="398.03,270.24 398.03,265.30 423.98,265.30 419.04,270.24" fill="#FFFFB2" stroke="#FFFFB2"/>
<polygon points="398.03,274.57 398.03,270.24 413.48,270.24 413.48,274.57 406.06,277.04" fill="#FFFFB2" stroke="#FFFFB2"/>
<polygon points="413.48,281.05 413.48,270.24 419.04,270.24 423.98,265.30 445.60,265.30 433.25,277.66 433.25,281.05" fill="#FFFFB2" stroke="#FFFFB2"/>
<polygon points="372.09,274.57 381.11,274.57 388.77,278.58 388.77,281.18 384.44,283.83 378.70,285.69 377.71,284.02" fill="#FFFFB2" stroke="#FFFFB2"/>
<polygon points="388.77,278.58 388.77,274.57 398.03,274.57 406.06,277.04 413.48,274.57 413.48,281.05 405.45,281.05 400.50,288.40 398.65,288.40 394.94,281.05 392.78,278.58" fill="#FFFFB2" stroke="#FFFFB2"/>
<polygon points="409.15,299.28 409.15,281.05 433.25,281.05 433.25,290.01 447.46,299.28" fill="#FFFFB2" stroke="#FFFFB2"/>
<polygon points="419.66,305.46 419.66,299.28 447.46,299.28 447.46,305.46" fill="#FFFFB2" stroke="#FFFFB2"/>
<polygon points="419.66,311.63 419.66,305.46 441.59,305.46 441.59,313.42 438.19,311.63" fill="#FFFFB2" stroke="#FFFFB2"/>
<polygon points="441.59,305.46 447.46,305.46 447.46,316.58 441.59,313.42" fill="#FFFFB2" stroke="#FFFFB2"/>
<polygon points="419.66,315.34 419.66,311.63 438.19,311.63 447.46,316.58 447.46,323.99" fill="#FFFFB2" stroke="#FFFFB2"/>
<polygon points="447.46,311.63 447.46,323.99 462.90,323.99 462.90,311.63" fill="#FFFFB2" stroke="#FFFFB2"/>
<polygon points="240.50,344.38 317.10,344.38 317.10,339.43 336.26,339.43 354.79,332.64 462.90,332.64 462.90,348.70 240.50,348.70" fill="#FFFFB2" stroke="#FFFFB2"/>
<polygon points="240.50,344.38 240.50,336.34 302.28,336.34 311.54,331.09 317.10,331.09 317.10,344.38" fill="#FFFFB2" stroke="#FFFFB2"/>
<polygon points="240.50,248.25 272.01,248.25 274.48,245.16 286.83,243.06 301.04,240.59 345.52,240.59 345.52,248.25 376.41,248.25 409.77,242.44 462.90,247.51 462.90,237.50 240.50,237.50" fill="#FFFFB2" stroke="#FFFFB2"/>
<polygon points="433.25,288.40 433.25,277.66 445.60,265.30 448.69,262.21 462.90,256.10 462.90,288.40" fill="#FFFFB2" stroke="#FFFFB2"/>
<polygon points="240.50,288.40 240.50,252.94 247.91,252.94 247.91,260.67 263.36,257.27 271.39,262.21 276.02,272.22 287.14,283.22 295.05,288.40" fill="#FFFFB2" stroke="#FFFFB2"/>
<polygon points="433.25,288.40 462.90,288.40 462.90,299.28 447.46,299.28 433.25,290.01" fill="#FFFFB2" stroke="#FFFFB2"/>
<polygon points="240.50,288.40 295.05,288.40 300.18,291.74 300.18,299.28 240.50,299.28" fill="#FFFFB2" stroke="#FFFFB2"/>
<polygon points="447.46,299.28 462.90,299.28 462.90,311.63 447.46,311.63" fill="#FFFFB2" stroke="#FFFFB2"/>
<polygon points="240.50,299.28 300.18,299.28 302.90,302.37 305.61,305.46 302.90,322.14 302.90,327.70 240.50,327.70" fill="#FFFFB2" stroke="#FFFFB2"/>
<polygon points="345.52,274.57 345.52,254.80 328.22,254.80 325.75,257.27 320.81,257.27 320.81,262.21 304.13,273.95 308.46,277.66 317.72,285.69 320.81,288.40 339.34,288.40 339.34,274.57" fill="#FFFFB2" stroke="#FFFFB2"/>
<polygon points="320.81,288.40 320.81,293.10 330.70,293.10 330.70,299.28 356.64,299.28 356.64,293.10 339.34,288.40" fill="#FFFFB2" stroke="#FFFFB2"/>
<polygon points="330.70,299.28 330.70,305.46 317.10,317.81 317.10,327.70 356.64,315.34 356.64,299.28" fill="#FFFFB2" stroke="#FFFFB2"/>
<polygon points="384.44,288.40 384.44,283.83 388.77,281.18 388.77,278.58 392.78,278.58 394.94,281.05 398.65,288.40" fill="#FFFFB2" stroke="#FFFFB2"/>
<polygon points="400.50,288.40 405.45,281.05 409.15,281.05 409.15,288.40" fill="#FFFFB2" stroke="#FFFFB2"/>
<polygon points="380.43,299.28 380.43,291.68 384.44,288.40 409.15,288.40 409.15,299.28" fill="#FFFFB2" stroke="#FFFFB2"/>
<polygon points="370.85,315.34 374.06,309.78 384.44,309.78 384.44,299.28 419.66,299.28 419.66,315.34" fill="#FFFFB2" stroke="#FFFFB2"/>
<polygon points="240.50,327.70 317.10,327.70 356.64,315.34 419.66,315.34 447.46,323.99 462.90,323.99 462.90,332.64 354.79,332.64 336.26,339.43 317.10,339.43 317.10,331.09 311.54,331.09 302.28,336.34 240.50,336.34" fill="#FFFFB2" stroke="#FFFFB2"/>
</g>
<path class="o" d="M301.04,240.59 L320.81,257.27 L325.75,257.27 L328.22,254.80 L345.52,254.80 L345.52,240.59ZM286.83,262.21 L271.39,262.21 L263.36,257.27 L247.91,260.67 L247.91,248.25 L272.01,248.25 L274.48,245.16 L286.83,243.06ZM320.81,262.21 L320.81,257.27 L301.04,240.59 L286.83,243.06 L286.83,262.21ZM271.39,262.21 L286.83,262.21 L286.83,272.22 L276.02,272.22ZM296.10,262.21 L296.10,277.66 L286.83,272.22 L286.83,262.21ZM308.46,277.66 L296.10,277.66 L296.10,262.21 L320.81,262.21 L304.13,273.95ZM296.10,277.66 L287.14,283.22 L276.02,272.22 L286.83,272.22ZM305.37,285.69 L300.18,291.74 L287.14,283.22 L296.10,277.66ZM305.37,285.69 L296.10,277.66 L308.46,277.66 L317.72,285.69ZM305.37,285.69 L300.18,291.74 L300.18,299.28 L302.90,302.37 L307.22,302.37 L307.22,285.69ZM307.22,285.69 L307.22,298.04 L320.81,298.04 L320.81,288.40 L317.72,285.69ZM330.70,305.46 L320.81,305.46 L320.81,293.10 L330.70,293.10ZM310.68,305.46 L307.22,302.37 L307.22,298.04 L320.81,298.04 L320.81,305.46ZM302.90,302.37 L307.22,302.37 L310.68,305.46 L307.53,322.14 L302.90,322.14 L305.61,305.46ZM330.70,305.46 L317.10,317.81 L308.33,317.81 L310.68,305.46ZM302.90,327.70 L302.90,322.14 L307.53,322.14 L308.33,317.81 L317.10,317.81 L317.10,327.70ZM345.52,263.45 L345.52,248.25 L376.41,248.25 L376.41,255.23ZM345.52,265.30 L345.52,263.45 L376.41,255.23 L376.41,265.30ZM376.41,265.30 L376.41,252.94 L388.77,252.94 L388.77,265.30ZM345.52,274.57 L345.52,265.30 L376.41,265.30 L376.41,274.57ZM339.34,284.02 L339.34,274.57 L372.09,274.57 L377.71,284.02ZM339.34,288.40 L339.34,284.02 L360.97,284.02 L356.64,293.10ZM356.64,293.10 L360.97,284.02 L368.38,284.02 L368.38,299.28 L356.64,299.28ZM368.38,284.02 L377.71,284.02 L378.70,285.69 L384.44,283.83 L384.44,288.40 L380.43,291.68 L368.38,291.68ZM368.38,299.28 L368.38,291.68 L380.43,291.68 L380.43,299.28ZM356.64,315.34 L356.64,299.28 L367.14,299.28 L367.14,315.34ZM367.14,299.28 L367.14,315.34 L370.85,315.34 L380.43,299.28ZM374.06,309.78 L380.43,299.28 L384.44,299.28 L384.44,309.78ZM376.41,252.94 L376.41,248.25 L409.77,242.44 L462.90,247.51 L462.90,252.94ZM240.50,252.94 L240.50,248.25 L247.91,248.25 L247.91,252.94ZM388.77,265.30 L388.77,252.94 L407.30,252.94 L407.30,265.30ZM407.30,265.30 L407.30,252.94 L432.01,252.94 L432.01,265.30ZM432.01,265.30 L432.01,252.94 L462.90,252.94 L462.90,256.10 L448.69,262.21 L445.60,265.30ZM376.41,274.57 L376.41,265.30 L398.03,265.30 L398.03,274.57 L388.77,274.57 L388.77,278.58 L381.11,274.57ZM398.03,270.24 L398.03,265.30 L423.98,265.30 L419.04,270.24ZM398.03,274.57 L398.03,270.24 L413.48,270.24 L413.48,274.57 L406.06,277.04ZM413.48,281.05 L413.48,270.24 L419.04,270.24 L423.98,265.30 L445.60,265.30 L433.25,277.66 L433.25,281.05ZM372.09,274.57 L381.11,274.57 L388.77,278.58 L388.77,281.18 L384.44,283.83 L378.70,285.69 L377.71,284.02ZM388.77,278.58 L388.77,274.57 L398.03,274.57 L406.06,277.04 L413.48,274.57 L413.48,281.05 L405.45,281.05 L400.50,288.40 L398.65,288.40 L394.94,281.05 L392.78,278.58ZM409.15,299.28 L409.15,281.05 L433.25,281.05 L433.25,290.01 L447.46,299.28ZM419.66,305.46 L419.66,299.28 L447.46,299.28 L447.46,305.46ZM419.66,311.63 L419.66,305.46 L441.59,305.46 L441.59,313.42 L438.19,311.63ZM441.59,305.46 L447.46,305.46 L447.46,316.58 L441.59,313.42ZM419.66,315.34 L419.66,311.63 L438.19,311.63 L447.46,316.58 L447.46,323.99ZM447.46,311.63 L447.46,323.99 L462.90,323.99 L462.90,311.63ZM240.50,344.38 L317.10,344.38 L317.10,339.43 L336.26,339.43 L354.79,332.64 L462.90,332.64 L462.90,348.70 L240.50,348.70ZM240.50,344.38 L240.50,336.34 L302.28,336.34 L311.54,331.09 L317.10,331.09 L317.10,344.38ZM240.50,248.25 L272.01,248.25 L274.48,245.16 L286.83,243.06 L301.04,240.59 L345.52,240.59 L345.52,248.25 L376.41,248.25 L409.77,242.44 L462.90,247.51 L462.90,237.50 L240.50,237.50ZM433.25,288.40 L433.25,277.66 L445.60,265.30 L448.69,262.21 L462.90,256.10 L462.90,288.40ZM240.50,288.40 L240.50,252.94 L247.91,252.94 L247.91,260.67 L263.36,257.27 L271.39,262.21 L276.02,272.22 L287.14,283.22 L295.05,288.40ZM433.25,288.40 L462.90,288.40 L462.90,299.28 L447.46,299.28 L433.25,290.01ZM240.50,288.40 L295.05,288.40 L300.18,291.74 L300.18,299.28 L240.50,299.28ZM447.46,299.28 L462.90,299.28 L462.90,311.63 L447.46,311.63ZM240.50,299.28 L300.18,299.28 L302.90,302.37 L305.61,305.46 L302.90,322.14 L302.90,327.70 L240.50,327.70ZM345.52,274.57 L345.52,254.80 L328.22,254.80 L325.75,257.27 L320.81,257.27 L320.81,262.21 L304.13,273.95 L308.46,277.66 L317.72,285.69 L320.81,288.40 L339.34,288.40 L339.34,274.57ZM320.81,288.40 L320.81,293.10 L330.70,293.10 L330.70,299.28 L356.64,299.28 L356.64,293.10 L339.34,288.40ZM330.70,299.28 L330.70,305.46 L317.10,317.81 L317.10,327.70 L356.64,315.34 L356.64,299.28ZM384.44,288.40 L384.44,283.83 L388.77,281.18 L388.77,278.58 L392.78,278.58 L394.94,281.05 L398.65,288.40ZM400.50,288.40 L405.45,281.05 L409.15,281.05 L409.15,288.40ZM380.43,299.28 L380.43,291.68 L384.44,288.40 L409.15,288.40 L409.15,299.28ZM370.85,315.34 L374.06,309.78 L384.44,309.78 L384.44,299.28 L419.66,299.28 L419.66,315.34ZM240.50,327.70 L317.10,327.70 L356.64,315.34 L419.66,315.34 L447.46,323.99 L462.90,323.99 L462.90,332.64 L354.79,332.64 L336.26,339.43 L317.10,339.43 L317.10,331.09 L311.54,331.09 L302.28,336.34 L240.50,336.34Z"/>
<g class="r">
<polygon points="523.54,240.59 543.31,257.27 548.25,257.27 550.72,254.80 568.02,254.80 568.02,240.59" fill="#D6604D" stroke="#D6604D"/>
<polygon points="509.33,262.21 493.89,262.21 485.86,257.27 470.41,260.67 470.41,248.25 494.51,248.25 496.98,245.16 509.33,243.06" fill="#D6604D" stroke="#D6604D"/>
<polygon points="543.31,262.21 543.31,257.27 523.54,240.59 509.33,243.06 509.33,262.21" fill="#B2182B" stroke="#B2182B"/>
<polygon points="493.89,262.21 509.33,262.21 509.33,272.22 498.52,272.22" fill="#B2182B" stroke="#B2182B"/>
<polygon points="518.60,262.21 518.60,277.66 509.33,272.22 509.33,262.21" fill="#B2182B" stroke="#B2182B"/>
<polygon points="530.96,277.66 518.60,277.66 518.60,262.21 543.31,262.21 526.63,273.95" fill="#B2182B" stroke="#B2182B"/>
<polygon points="518.60,277.66 509.64,283.22 498.52,272.22 509.33,272.22" fill="#B2182B" stroke="#B2182B"/>
<polygon points="527.87,285.69 522.68,291.74 509.64,283.22 518.60,277.66" fill="#B2182B" stroke="#B2182B"/>
<polygon points="527.87,285.69 518.60,277.66 530.96,277.66 540.22,285.69" fill="#D6604D" stroke="#D6604D"/>
<polygon points="527.87,285.69 522.68,291.74 522.68,299.28 525.40,302.37 529.72,302.37 529.72,285.69" fill="#B2182B" stroke="#B2182B"/>
<polygon points="529.72,285.69 529.72,298.04 543.31,298.04 543.31,288.40 540.22,285.69" fill="#B2182B" stroke="#B2182B"/>
<polygon points="553.20,305.46 543.31,305.46 543.31,293.10 553.20,293.10" fill="#D6604D" stroke="#D6604D"/>
<polygon points="533.18,305.46 529.72,302.37 529.72,298.04 543.31,298.04 543.31,305.46" fill="#B2182B" stroke="#B2182B"/>
<polygon points="525.40,302.37 529.72,302.37 533.18,305.46 530.03,322.14 525.40,322.14 528.11,305.46" fill="#D6604D" stroke="#D6604D"/>
<polygon points="553.20,305.46 539.60,317.81 530.83,317.81 533.18,305.46" fill="#B2182B" stroke="#B2182B"/>
<polygon points="525.40,327.70 525.40,322.14 530.03,322.14 530.83,317.81 539.60,317.81 539.60,327.70" fill="#D6604D" stroke="#D6604D"/>
<polygon points="568.02,263.45 568.02,248.25 598.91,248.25 598.91,255.23" fill="#B2182B" stroke="#B2182B"/>
<polygon points="568.02,265.30 568.02,263.45 598.91,255.23 598.91,265.30" fill="#B2182B" stroke="#B2182B"/>
<polygon points="598.91,265.30 598.91,252.94 611.27,252.94 611.27,265.30" fill="#B2182B" stroke="#B2182B"/>
<polygon points="568.02,274.57 568.02,265.30 598.91,265.30 598.91,274.57" fill="#B2182B" stroke="#B2182B"/>
<polygon points="561.84,284.02 561.84,274.57 594.59,274.57 600.21,284.02" fill="#B2182B" stroke="#B2182B"/>
<polygon points="561.84,288.40 561.84,284.02 583.47,284.02 579.14,293.10" fill="#F4A582" stroke="#F4A582"/>
<polygon points="579.14,293.10 583.47,284.02 590.88,284.02 590.88,299.28 579.14,299.28" fill="#F7F7F7" stroke="#F7F7F7"/>
<polygon points="590.88,284.02 600.21,284.02 601.20,285.69 606.94,283.83 606.94,288.40 602.93,291.68 590.88,291.68" fill="#FDDBC7" stroke="#FDDBC7"/>
<polygon points="590.88,299.28 590.88,291.68 602.93,291.68 602.93,299.28" fill="#F4A582" stroke="#F4A582"/>
<polygon points="579.14,315.34 579.14,299.28 589.64,299.28 589.64,315.34" fill="#F4A582" stroke="#F4A582"/>
<polygon points="589.64,299.28 589.64,315.34 593.35,315.34 602.93,299.28" fill="#F4A582" stroke="#F4A582"/>
<polygon points="596.56,309.78 602.93,299.28 606.94,299.28 606.94,309.78" fill="#B2182B" stroke="#B2182B"/>
<polygon points="598.91,252.94 598.91,248.25 632.27,242.44 685.40,247.51 685.40,252.94" fill="#D6604D" stroke="#D6604D"/>
<polygon points="463.00,252.94 463.00,248.25 470.41,248.25 470.41,252.94" fill="#D6604D" stroke="#D6604D"/>
<polygon points="611.27,265.30 611.27,252.94 629.80,252.94 629.80,265.30" fill="#B2182B" stroke="#B2182B"/>
<polygon points="629.80,265.30 629.80,252.94 654.51,252.94 654.51,265.30" fill="#B2182B" stroke="#B2182B"/>
<polygon points="654.51,265.30 654.51,252.94 685.40,252.94 685.40,256.10 671.19,262.21 668.10,265.30" fill="#D6604D" stroke="#D6604D"/>
<polygon points="598.91,274.57 598.91,265.30 620.53,265.30 620.53,274.57 611.27,274.57 611.27,278.58 603.61,274.57" fill="#B2182B" stroke="#B2182B"/>
<polygon points="620.53,270.24 620.53,265.30 646.48,265.30 641.54,270.24" fill="#D6604D" stroke="#D6604D"/>
<polygon points="620.53,274.57 620.53,270.24 635.98,270.24 635.98,274.57 628.56,277.04" fill="#B2182B" stroke="#B2182B"/>
<polygon points="635.98,281.05 635.98,270.24 641.54,270.24 646.48,265.30 668.10,265.30 655.75,277.66 655.75,281.05" fill="#D6604D" stroke="#D6604D"/>
<polygon points="594.59,274.57 603.61,274.57 611.27,278.58 611.27,281.18 606.94,283.83 601.20,285.69 600.21,284.02" fill="#B2182B" stroke="#B2182B"/>
<polygon points="611.27,278.58 611.27,274.57 620.53,274.57 628.56,277.04 635.98,274.57 635.98,281.05 627.95,281.05 623.00,288.40 621.15,288.40 617.44,281.05 615.28,278.58" fill="#F4A582" stroke="#F4A582"/>
<polygon points="631.65,299.28 631.65,281.05 655.75,281.05 655.75,290.01 669.96,299.28" fill="#B2182B" stroke="#B2182B"/>
<polygon points="642.16,305.46 642.16,299.28 669.96,299.28 669.96,305.46" fill="#B2182B" stroke="#B2182B"/>
<polygon points="642.16,311.63 642.16,305.46 664.09,305.46 664.09,313.42 660.69,311.63" fill="#D6604D" stroke="#D6604D"/>
<polygon points="664.09,305.46 669.96,305.46 669.96,316.58 664.09,313.42" fill="#B2182B" stroke="#B2182B"/>
<polygon points="642.16,315.34 642.16,311.63 660.69,311.63 669.96,316.58 669.96,323.99" fill="#F4A582" stroke="#F4A582"/>
<polygon points="669.96,311.63 669.96,323.99 685.40,323.99 685.40,311.63" fill="#D6604D" stroke="#D6604D"/>
<polygon points="463.00,344.38 539.60,344.38 539.60,339.43 558.76,339.43 577.29,332.64 685.40,332.64 685.40,348.70 463.00,348.70" fill="#F4A582" stroke="#F4A582"/>
<polygon points="463.00,344.38 463.00,336.34 524.78,336.34 534.04,331.09 539.60,331.09 539.60,344.38" fill="#F4A582" stroke="#F4A582"/>
<polygon points="463.00,248.25 494.51,248.25 496.98,245.16 509.33,243.06 523.54,240.59 568.02,240.59 568.02,248.25 598.91,248.25 632.27,242.44 685.40,247.51 685.40,237.50 463.00,237.50" fill="#D6604D" stroke="#D6604D"/>
<polygon points="655.75,288.40 655.75,277.66 668.10,265.30 671.19,262.21 685.40,256.10 685.40,288.40" fill="#B2182B" stroke="#B2182B"/>
<polygon points="463.00,288.40 463.00,252.94 470.41,252.94 470.41,260.67 485.86,257.27 493.89,262.21 498.52,272.22 509.64,283.22 517.55,288.40" fill="#B2182B" stroke="#B2182B"/>
<polygon points="655.75,288.40 685.40,288.40 685.40,299.28 669.96,299.28 655.75,290.01" fill="#B2182B" stroke="#B2182B"/>
<polygon points="463.00,288.40 517.55,288.40 522.68,291.74 522.68,299.28 463.00,299.28" fill="#B2182B" stroke="#B2182B"/>
<polygon points="669.96,299.28 685.40,299.28 685.40,311.63 669.96,311.63" fill="#D6604D" stroke="#D6604D"/>
<polygon points="463.00,299.28 522.68,299.28 525.40,302.37 528.11,305.46 525.40,322.14 525.40,327.70 463.00,327.70" fill="#D6604D" stroke="#D6604D"/>
<polygon points="568.02,274.57 568.02,254.80 550.72,254.80 548.25,257.27 543.31,257.27 543.31,262.21 526.63,273.95 530.96,277.66 540.22,285.69 543.31,288.40 561.84,288.40 561.84,274.57" fill="#B2182B" stroke="#B2182B"/>
<polygon points="543.31,288.40 543.31,293.10 553.20,293.10 553.20,299.28 579.14,299.28 579.14,293.10 561.84,288.40" fill="#F4A582" stroke="#F4A582"/>
<polygon points="553.20,299.28 553.20,305.46 539.60,317.81 539.60,327.70 579.14,315.34 579.14,299.28" fill="#D6604D" stroke="#D6604D"/>
<polygon points="606.94,288.40 606.94,283.83 611.27,281.18 611.27,278.58 615.28,278.58 617.44,281.05 621.15,288.40" fill="#B2182B" stroke="#B2182B"/>
<polygon points="623.00,288.40 627.95,281.05 631.65,281.05 631.65,288.40" fill="#D6604D" stroke="#D6604D"/>
<polygon points="602.93,299.28 602.93,291.68 606.94,288.40 631.65,288.40 631.65,299.28" fill="#B2182B" stroke="#B2182B"/>
<polygon points="593.35,315.34 596.56,309.78 606.94,309.78 606.94,299.28 642.16,299.28 642.16,315.34" fill="#B2182B" stroke="#B2182B"/>
<polygon points="463.00,327.70 539.60,327.70 579.14,315.34 642.16,315.34 669.96,323.99 685.40,323.99 685.40,332.64 577.29,332.64 558.76,339.43 539.60,339.43 539.60,331.09 534.04,331.09 524.78,336.34 463.00,336.34" fill="#D6604D" stroke="#D6604D"/>
</g>
<path class="o" d="M523.54,240.59 L543.31,257.27 L548.25,257.27 L550.72,254.80 L568.02,254.80 L568.02,240.59ZM509.33,262.21 L493.89,262.21 L485.86,257.27 L470.41,260.67 L470.41,248.25 L494.51,248.25 L496.98,245.16 L509.33,243.06ZM543.31,262.21 L543.31,257.27 L523.54,240.59 L509.33,243.06 L509.33,262.21ZM493.89,262.21 L509.33,262.21 L509.33,272.22 L498.52,272.22ZM518.60,262.21 L518.60,277.66 L509.33,272.22 L509.33,262.21ZM530.96,277.66 L518.60,277.66 L518.60,262.21 L543.31,262.21 L526.63,273.95ZM518.60,277.66 L509.64,283.22 L498.52,272.22 L509.33,272.22ZM527.87,285.69 L522.68,291.74 L509.64,283.22 L518.60,277.66ZM527.87,285.69 L518.60,277.66 L530.96,277.66 L540.22,285.69ZM527.87,285.69 L522.68,291.74 L522.68,299.28 L525.40,302.37 L529.72,302.37 L529.72,285.69ZM529.72,285.69 L529.72,298.04 L543.31,298.04 L543.31,288.40 L540.22,285.69ZM553.20,305.46 L543.31,305.46 L543.31,293.10 L553.20,293.10ZM533.18,305.46 L529.72,302.37 L529.72,298.04 L543.31,298.04 L543.31,305.46ZM525.40,302.37 L529.72,302.37 L533.18,305.46 L530.03,322.14 L525.40,322.14 L528.11,305.46ZM553.20,305.46 L539.60,317.81 L530.83,317.81 L533.18,305.46ZM525.40,327.70 L525.40,322.14 L530.03,322.14 L530.83,317.81 L539.60,317.81 L539.60,327.70ZM568.02,263.45 L568.02,248.25 L598.91,248.25 L598.91,255.23ZM568.02,265.30 L568.02,263.45 L598.91,255.23 L598.91,265.30ZM598.91,265.30 L598.91,252.94 L611.27,252.94 L611.27,265.30ZM568.02,274.57 L568.02,265.30 L598.91,265.30 L598.91,274.57ZM561.84,284.02 L561.84,274.57 L594.59,274.57 L600.21,284.02ZM561.84,288.40 L561.84,284.02 L583.47,284.02 L579.14,293.10ZM579.14,293.10 L583.47,284.02 L590.88,284.02 L590.88,299.28 L579.14,299.28ZM590.88,284.02 L600.21,284.02 L601.20,285.69 L606.94,283.83 L606.94,288.40 L602.93,291.68 L590.88,291.68ZM590.88,299.28 L590.88,291.68 L602.93,291.68 L602.93,299.28ZM579.14,315.34 L579.14,299.28 L589.64,299.28 L589.64,315.34ZM589.64,299.28 L589.64,315.34 L593.35,315.34 L602.93,299.28ZM596.56,309.78 L602.93,299.28 L606.94,299.28 L606.94,309.78ZM598.91,252.94 L598.91,248.25 L632.27,242.44 L685.40,247.51 L685.40,252.94ZM463.00,252.94 L463.00,248.25 L470.41,248.25 L470.41,252.94ZM611.27,265.30 L611.27,252.94 L629.80,252.94 L629.80,265.30ZM629.80,265.30 L629.80,252.94 L654.51,252.94 L654.51,265.30ZM654.51,265.30 L654.51,252.94 L685.40,252.94 L685.40,256.10 L671.19,262.21 L668.10,265.30ZM598.91,274.57 L598.91,265.30 L620.53,265.30 L620.53,274.57 L611.27,274.57 L611.27,278.58 L603.61,274.57ZM620.53,270.24 L620.53,265.30 L646.48,265.30 L641.54,270.24ZM620.53,274.57 L620.53,270.24 L635.98,270.24 L635.98,274.57 L628.56,277.04ZM635.98,281.05 L635.98,270.24 L641.54,270.24 L646.48,265.30 L668.10,265.30 L655.75,277.66 L655.75,281.05ZM594.59,274.57 L603.61,274.57 L611.27,278.58 L611.27,281.18 L606.94,283.83 L601.20,285.69 L600.21,284.02ZM611.27,278.58 L611.27,274.57 L620.53,274.57 L628.56,277.04 L635.98,274.57 L635.98,281.05 L627.95,281.05 L623.00,288.40 L621.15,288.40 L617.44,281.05 L615.28,278.58ZM631.65,299.28 L631.65,281.05 L655.75,281.05 L655.75,290.01 L669.96,299.28ZM642.16,305.46 L642.16,299.28 L669.96,299.28 L669.96,305.46ZM642.16,311.63 L642.16,305.46 L664.09,305.46 L664.09,313.42 L660.69,311.63ZM664.09,305.46 L669.96,305.46 L669.96,316.58 L664.09,313.42ZM642.16,315.34 L642.16,311.63 L660.69,311.63 L669.96,316.58 L669.96,323.99ZM669.96,311.63 L669.96,323.99 L685.40,323.99 L685.40,311.63ZM463.00,344.38 L539.60,344.38 L539.60,339.43 L558.76,339.43 L577.29,332.64 L685.40,332.64 L685.40,348.70 L463.00,348.70ZM463.00,344.38 L463.00,336.34 L524.78,336.34 L534.04,331.09 L539.60,331.09 L539.60,344.38ZM463.00,248.25 L494.51,248.25 L496.98,245.16 L509.33,243.06 L523.54,240.59 L568.02,240.59 L568.02,248.25 L598.91,248.25 L632.27,242.44 L685.40,247.51 L685.40,237.50 L463.00,237.50ZM655.75,288.40 L655.75,277.66 L668.10,265.30 L671.19,262.21 L685.40,256.10 L685.40,288.40ZM463.00,288.40 L463.00,252.94 L470.41,252.94 L470.41,260.67 L485.86,257.27 L493.89,262.21 L498.52,272.22 L509.64,283.22 L517.55,288.40ZM655.75,288.40 L685.40,288.40 L685.40,299.28 L669.96,299.28 L655.75,290.01ZM463.00,288.40 L517.55,288.40 L522.68,291.74 L522.68,299.28 L463.00,299.28ZM669.96,299.28 L685.40,299.28 L685.40,311.63 L669.96,311.63ZM463.00,299.28 L522.68,299.28 L525.40,302.37 L528.11,305.46 L525.40,322.14 L525.40,327.70 L463.00,327.70ZM568.02,274.57 L568.02,254.80 L550.72,254.80 L548.25,257.27 L543.31,257.27 L543.31,262.21 L526.63,273.95 L530.96,277.66 L540.22,285.69 L543.31,288.40 L561.84,288.40 L561.84,274.57ZM543.31,288.40 L543.31,293.10 L553.20,293.10 L553.20,299.28 L579.14,299.28 L579.14,293.10 L561.84,288.40ZM553.20,299.28 L553.20,305.46 L539.60,317.81 L539.60,327.70 L579.14,315.34 L579.14,299.28ZM606.94,288.40 L606.94,283.83 L611.27,281.18 L611.27,278.58 L615.28,278.58 L617.44,281.05 L621.15,288.40ZM623.00,288.40 L627.95,281.05 L631.65,281.05 L631.65,288.40ZM602.93,299.28 L602.93,291.68 L606.94,288.40 L631.65,288.40 L631.65,299.28ZM593.35,315.34 L596.56,309.78 L606.94,309.78 L606.94,299.28 L642.16,299.28 L642.16,315.34ZM463.00,327.70 L539.60,327.70 L579.14,315.34 L642.16,315.34 L669.96,323.99 L685.40,323.99 L685.40,332.64 L577.29,332.64 L558.76,339.43 L539.60,339.43 L539.60,331.09 L534.04,331.09 L524.78,336.34 L463.00,336.34Z"/>
<g class="r">
<polygon points="78.54,352.29 98.31,368.97 103.25,368.97 105.72,366.50 123.02,366.50 123.02,352.29" fill="#FFFFB2" stroke="#FFFFB2"/>
<polygon points="64.33,373.91 48.89,373.91 40.86,368.97 25.41,372.37 25.41,359.95 49.51,359.95 51.98,356.86 64.33,354.76" fill="#FFFFB2" stroke="#FFFFB2"/>
<polygon points="98.31,373.91 98.31,368.97 78.54,352.29 64.33,354.76 64.33,373.91" fill="#FFFFB2" stroke="#FFFFB2"/>
<polygon points="48.89,373.91 64.33,373.91 64.33,383.92 53.52,383.92" fill="#FFFFB2" stroke="#FFFFB2"/>
<polygon points="73.60,373.91 73.60,389.36 64.33,383.92 64.33,373.91" fill="#FFFFB2" stroke="#FFFFB2"/>
<polygon points="85.96,389.36 73.60,389.36 73.60,373.91 98.31,373.91 81.63,385.65" fill="#FFFFB2" stroke="#FFFFB2"/>
<polygon points="73.60,389.36 64.64,394.92 53.52,383.92 64.33,383.92" fill="#FFFFB2" stroke="#FFFFB2"/>
<polygon points="82.87,397.39 77.68,403.44 64.64,394.92 73.60,389.36" fill="#FFFFB2" stroke="#FFFFB2"/>
<polygon points="82.87,397.39 73.60,389.36 85.96,389.36 95.22,397.39" fill="#FFFFB2" stroke="#FFFFB2"/>
<polygon points="82.87,397.39 77.68,403.44 77.68,410.98 80.40,414.07 84.72,414.07 84.72,397.39" fill="#FFFFB2" stroke="#FFFFB2"/>
<polygon points="84.72,397.39 84.72,409.74 98.31,409.74 98.31,400.10 95.22,397.39" fill="#FFFFB2" stroke="#FFFFB2"/>
<polygon points="108.20,417.16 98.31,417.16 98.31,404.80 108.20,404.80" fill="#FFFFB2" stroke="#FFFFB2"/>
<polygon points="88.18,417.16 84.72,414.07 84.72,409.74 98.31,409.74 98.31,417.16" fill="#FFFFB2" stroke="#FFFFB2"/>
<polygon points="80.40,414.07 84.72,414.07 88.18,417.16 85.03,433.84 80.40,433.84 83.11,417.16" fill="#FFFFB2" stroke="#FFFFB2"/>
<polygon points="108.20,417.16 94.60,429.51 85.83,429.51 88.18,417.16" fill="#FFFFB2" stroke="#FFFFB2"/>
<polygon points="80.40,439.40 80.40,433.84 85.03,433.84 85.83,429.51 94.60,429.51 94.60,439.40" fill="#FFFFB2" stroke="#FFFFB2"/>
<polygon points="123.02,375.15 123.02,359.95 153.91,359.95 153.91,366.93" fill="#FFFFB2" stroke="#FFFFB2"/>
<polygon points="123.02,377.00 123.02,375.15 153.91,366.93 153.91,377.00" fill="#FFFFB2" stroke="#FFFFB2"/>
<polygon points="153.91,377.00 153.91,364.64 166.27,364.64 166.27,377.00" fill="#FECC5C" stroke="#FECC5C"/>
<polygon points="123.02,386.27 123.02,377.00 153.91,377.00 153.91,386.27" fill="#FFFFB2" stroke="#FFFFB2"/>
<polygon points="116.84,395.72 116.84,386.27 149.59,386.27 155.21,395.72" fill="#FFFFB2" stroke="#FFFFB2"/>
<polygon points="116.84,400.10 116.84,395.72 138.47,395.72 134.14,404.80" fill="#FFFFB2" stroke="#FFFFB2"/>
<polygon points="134.14,404.80 138.47,395.72 145.88,395.72 145.88,410.98 134.14,410.98" fill="#FFFFB2" stroke="#FFFFB2"/>
<polygon points="145.88,395.72 155.21,395.72 156.20,397.39 161.94,395.53 161.94,400.10 157.93,403.38 145.88,403.38" fill="#FFFFB2" stroke="#FFFFB2"/>
<polygon points="145.88,410.98 145.88,403.38 157.93,403.38 157.93,410.98" fill="#FFFFB2" stroke="#FFFFB2"/>
<polygon points="134.14,427.04 134.14,410.98 144.64,410.98 144.64,427.04" fill="#FFFFB2" stroke="#FFFFB2"/>
<polygon points="144.64,410.98 144.64,427.04 148.35,427.04 157.93,410.98" fill="#FFFFB2" stroke="#FFFFB2"/>
<polygon points="151.56,421.48 157.93,410.98 161.94,410.98 161.94,421.48" fill="#FFFFB2" stroke="#FFFFB2"/>
<polygon points="153.91,364.64 153.91,359.95 187.27,354.14 240.40,359.21 240.40,364.64" fill="#FECC5C" stroke="#FECC5C"/>
<polygon points="18.00,364.64 18.00,359.95 25.41,359.95 25.41,364.64" fill="#FECC5C" stroke="#FECC5C"/>
<polygon points="166.27,377.00 166.27,364.64 184.80,364.64 184.80,377.00" fill="#FECC5C" stroke="#FECC5C"/>
<polygon points="184.80,377.00 184.80,364.64 209.51,364.64 209.51,377.00" fill="#FFFFB2" stroke="#FFFFB2"/>
<polygon points="209.51,377.00 209.51,364.64 240.40,364.64 240.40,367.80 226.19,373.91 223.10,377.00" fill="#FFFFB2" stroke="#FFFFB2"/>
<polygon points="153.91,386.27 153.91,377.00 175.53,377.00 175.53,386.27 166.27,386.27 166.27,390.28 158.61,386.27" fill="#FFFFB2" stroke="#FFFFB2"/>
<polygon points="175.53,381.94 175.53,377.00 201.48,377.00 196.54,381.94" fill="#FFFFB2" stroke="#FFFFB2"/>
<polygon points="175.53,386.27 175.53,381.94 190.98,381.94 190.98,386.27 183.56,388.74" fill="#F03B20" stroke="#F03B20"/>
<polygon points="190.98,392.75 190.98,381.94 196.54,381.94 201.48,377.00 223.10,377.00 210.75,389.36 210.75,392.75" fill="#FFFFB2" stroke="#FFFFB2"/>
<polygon points="149.59,386.27 158.61,386.27 166.27,390.28 166.27,392.88 161.94,395.53 156.20,397.39 155.21,395.72" fill="#FFFFB2" stroke="#FFFFB2"/>
<polygon points="166.27,390.28 166.27,386.27 175.53,386.27 183.56,388.74 190.98,386.27 190.98,392.75 182.95,392.75 178.00,400.10 176.15,400.10 172.44,392.75 170.28,390.28" fill="#FFFFB2" stroke="#FFFFB2"/>
<polygon points="186.65,410.98 186.65,392.75 210.75,392.75 210.75,401.71 224.96,410.98" fill="#FFFFB2" stroke="#FFFFB2"/>
<polygon points="197.16,417.16 197.16,410.98 224.96,410.98 224.96,417.16" fill="#FFFFB2" stroke="#FFFFB2"/>
<polygon points="197.16,423.33 197.16,417.16 219.09,417.16 219.09,425.12 215.69,423.33" fill="#FFFFB2" stroke="#FFFFB2"/>
<polygon points="219.09,417.16 224.96,417.16 224.96,428.28 219.09,425.12" fill="#FFFFB2" stroke="#FFFFB2"/>
<polygon points="197.16,427.04 197.16,423.33 215.69,423.33 224.96,428.28 224.96,435.69" fill="#FFFFB2" stroke="#FFFFB2"/>
<polygon points="224.96,423.33 224.96,435.69 240.40,435.69 240.40,423.33" fill="#FFFFB2" stroke="#FFFFB2"/>
<polygon points="18.00,456.08 94.60,456.08 94.60,451.13 113.76,451.13 132.29,444.34 240.40,444.34 240.40,460.40 18.00,460.40" fill="#FFFFB2" stroke="#FFFFB2"/>
<polygon points="18.00,456.08 18.00,448.04 79.78,448.04 89.04,442.79 94.60,442.79 94.60,456.08" fill="#FD8D3C" stroke="#FD8D3C"/>
<polygon points="18.00,359.95 49.51,359.95 51.98,356.86 64.33,354.76 78.54,352.29 123.02,352.29 123.02,359.95 153.91,359.95 187.27,354.14 240.40,359.21 240.40,349.20 18.00,349.20" fill="#FECC5C" stroke="#FECC5C"/>
<polygon points="210.75,400.10 210.75,389.36 223.10,377.00 226.19,373.91 240.40,367.80 240.40,400.10" fill="#FFFFB2" stroke="#FFFFB2"/>
<polygon points="18.00,400.10 18.00,364.64 25.41,364.64 25.41,372.37 40.86,368.97 48.89,373.91 53.52,383.92 64.64,394.92 72.55,400.10" fill="#FFFFB2" stroke="#FFFFB2"/>
<polygon points="210.75,400.10 240.40,400.10 240.40,410.98 224.96,410.98 210.75,401.71" fill="#FFFFB2" stroke="#FFFFB2"/>
<polygon points="18.00,400.10 72.55,400.10 77.68,403.44 77.68,410.98 18.00,410.98" fill="#FFFFB2" stroke="#FFFFB2"/>
<polygon points="224.96,410.98 240.40,410.98 240.40,423.33 224.96,423.33" fill="#FFFFB2" stroke="#FFFFB2"/>
<polygon points="18.00,410.98 77.68,410.98 80.40,414.07 83.11,417.16 80.40,433.84 80.40,439.40 18.00,439.40" fill="#FFFFB2" stroke="#FFFFB2"/>
<polygon points="123.02,386.27 123.02,366.50 105.72,366.50 103.25,368.97 98.31,368.97 98.31,373.91 81.63,385.65 85.96,389.36 95.22,397.39 98.31,400.10 116.84,400.10 116.84,386.27" fill="#FFFFB2" stroke="#FFFFB2"/>
<polygon points="98.31,400.10 98.31,404.80 108.20,404.80 108.20,410.98 134.14,410.98 134.14,404.80 116.84,400.10" fill="#FFFFB2" stroke="#FFFFB2"/>
<polygon points="108.20,410.98 108.20,417.16 94.60,429.51 94.60,439.40 134.14,427.04 134.14,410.98" fill="#FFFFB2" stroke="#FFFFB2"/>
<polygon points="161.94,400.10 161.94,395.53 166.27,392.88 166.27,390.28 170.28,390.28 172.44,392.75 176.15,400.10" fill="#FFFFB2" stroke="#FFFFB2"/>
<polygon points="178.00,400.10 182.95,392.75 186.65,392.75 186.65,400.10" fill="#FFFFB2" stroke="#FFFFB2"/>
<polygon points="157.93,410.98 157.93,403.38 161.94,400.10 186.65,400.10 186.65,410.98" fill="#FFFFB2" stroke="#FFFFB2"/>
<polygon points="148.35,427.04 151.56,421.48 161.94,421.48 161.94,410.98 197.16,410.98 197.16,427.04" fill="#FFFFB2" stroke="#FFFFB2"/>
<polygon points="18.00,439.40 94.60,439.40 134.14,427.04 197.16,427.04 224.96,435.69 240.40,435.69 240.40,444.34 132.29,444.34 113.76,451.13 94.60,451.13 94.60,442.79 89.04,442.79 79.78,448.04 18.00,448.04" fill="#FECC5C" stroke="#FECC5C"/>
</g>
<path class="o" d="M78.54,352.29 L98.31,368.97 L103.25,368.97 L105.72,366.50 L123.02,366.50 L123.02,352.29ZM64.33,373.91 L48.89,373.91 L40.86,368.97 L25.41,372.37 L25.41,359.95 L49.51,359.95 L51.98,356.86 L64.33,354.76ZM98.31,373.91 L98.31,368.97 L78.54,352.29 L64.33,354.76 L64.33,373.91ZM48.89,373.91 L64.33,373.91 L64.33,383.92 L53.52,383.92ZM73.60,373.91 L73.60,389.36 L64.33,383.92 L64.33,373.91ZM85.96,389.36 L73.60,389.36 L73.60,373.91 L98.31,373.91 L81.63,385.65ZM73.60,389.36 L64.64,394.92 L53.52,383.92 L64.33,383.92ZM82.87,397.39 L77.68,403.44 L64.64,394.92 L73.60,389.36ZM82.87,397.39 L73.60,389.36 L85.96,389.36 L95.22,397.39ZM82.87,397.39 L77.68,403.44 L77.68,410.98 L80.40,414.07 L84.72,414.07 L84.72,397.39ZM84.72,397.39 L84.72,409.74 L98.31,409.74 L98.31,400.10 L95.22,397.39ZM108.20,417.16 L98.31,417.16 L98.31,404.80 L108.20,404.80ZM88.18,417.16 L84.72,414.07 L84.72,409.74 L98.31,409.74 L98.31,417.16ZM80.40,414.07 L84.72,414.07 L88.18,417.16 L85.03,433.84 L80.40,433.84 L83.11,417.16ZM108.20,417.16 L94.60,429.51 L85.83,429.51 L88.18,417.16ZM80.40,439.40 L80.40,433.84 L85.03,433.84 L85.83,429.51 L94.60,429.51 L94.60,439.40ZM123.02,375.15 L123.02,359.95 L153.91,359.95 L153.91,366.93ZM123.02,377.00 L123.02,375.15 L153.91,366.93 L153.91,377.00ZM153.91,377.00 L153.91,364.64 L166.27,364.64 L166.27,377.00ZM123.02,386.27 L123.02,377.00 L153.91,377.00 L153.91,386.27ZM116.84,395.72 L116.84,386.27 L149.59,386.27 L155.21,395.72ZM116.84,400.10 L116.84,395.72 L138.47,395.72 L134.14,404.80ZM134.14,404.80 L138.47,395.72 L145.88,395.72 L145.88,410.98 L134.14,410.98ZM145.88,395.72 L155.21,395.72 L156.20,397.39 L161.94,395.53 L161.94,400.10 L157.93,403.38 L145.88,403.38ZM145.88,410.98 L145.88,403.38 L157.93,403.38 L157.93,410.98ZM134.14,427.04 L134.14,410.98 L144.64,410.98 L144.64,427.04ZM144.64,410.98 L144.64,427.04 L148.35,427.04 L157.93,410.98ZM151.56,421.48 L157.93,410.98 L161.94,410.98 L161.94,421.48ZM153.91,364.64 L153.91,359.95 L187.27,354.14 L240.40,359.21 L240.40,364.64ZM18.00,364.64 L18.00,359.95 L25.41,359.95 L25.41,364.64ZM166.27,377.00 L166.27,364.64 L184.80,364.64 L184.80,377.00ZM184.80,377.00 L184.80,364.64 L209.51,364.64 L209.51,377.00ZM209.51,377.00 L209.51,364.64 L240.40,364.64 L240.40,367.80 L226.19,373.91 L223.10,377.00ZM153.91,386.27 L153.91,377.00 L175.53,377.00 L175.53,386.27 L166.27,386.27 L166.27,390.28 L158.61,386.27ZM175.53,381.94 L175.53,377.00 L201.48,377.00 L196.54,381.94ZM175.53,386.27 L175.53,381.94 L190.98,381.94 L190.98,386.27 L183.56,388.74ZM190.98,392.75 L190.98,381.94 L196.54,381.94 L201.48,377.00 L223.10,377.00 L210.75,389.36 L210.75,392.75ZM149.59,386.27 L158.61,386.27 L166.27,390.28 L166.27,392.88 L161.94,395.53 L156.20,397.39 L155.21,395.72ZM166.27,390.28 L166.27,386.27 L175.53,386.27 L183.56,388.74 L190.98,386.27 L190.98,392.75 L182.95,392.75 L178.00,400.10 L176.15,400.10 L172.44,392.75 L170.28,390.28ZM186.65,410.98 L186.65,392.75 L210.75,392.75 L210.75,401.71 L224.96,410.98ZM197.16,417.16 L197.16,410.98 L224.96,410.98 L224.96,417.16ZM197.16,423.33 L197.16,417.16 L219.09,417.16 L219.09,425.12 L215.69,423.33ZM219.09,417.16 L224.96,417.16 L224.96,428.28 L219.09,425.12ZM197.16,427.04 L197.16,423.33 L215.69,423.33 L224.96,428.28 L224.96,435.69ZM224.96,423.33 L224.96,435.69 L240.40,435.69 L240.40,423.33ZM18.00,456.08 L94.60,456.08 L94.60,451.13 L113.76,451.13 L132.29,444.34 L240.40,444.34 L240.40,460.40 L18.00,460.40ZM18.00,456.08 L18.00,448.04 L79.78,448.04 L89.04,442.79 L94.60,442.79 L94.60,456.08ZM18.00,359.95 L49.51,359.95 L51.98,356.86 L64.33,354.76 L78.54,352.29 L123.02,352.29 L123.02,359.95 L153.91,359.95 L187.27,354.14 L240.40,359.21 L240.40,349.20 L18.00,349.20ZM210.75,400.10 L210.75,389.36 L223.10,377.00 L226.19,373.91 L240.40,367.80 L240.40,400.10ZM18.00,400.10 L18.00,364.64 L25.41,364.64 L25.41,372.37 L40.86,368.97 L48.89,373.91 L53.52,383.92 L64.64,394.92 L72.55,400.10ZM210.75,400.10 L240.40,400.10 L240.40,410.98 L224.96,410.98 L210.75,401.71ZM18.00,400.10 L72.55,400.10 L77.68,403.44 L77.68,410.98 L18.00,410.98ZM224.96,410.98 L240.40,410.98 L240.40,423.33 L224.96,423.33ZM18.00,410.98 L77.68,410.98 L80.40,414.07 L83.11,417.16 L80.40,433.84 L80.40,439.40 L18.00,439.40ZM123.02,386.27 L123.02,366.50 L105.72,366.50 L103.25,368.97 L98.31,368.97 L98.31,373.91 L81.63,385.65 L85.96,389.36 L95.22,397.39 L98.31,400.10 L116.84,400.10 L116.84,386.27ZM98.31,400.10 L98.31,404.80 L108.20,404.80 L108.20,410.98 L134.14,410.98 L134.14,404.80 L116.84,400.10ZM108.20,410.98 L108.20,417.16 L94.60,429.51 L94.60,439.40 L134.14,427.04 L134.14,410.98ZM161.94,400.10 L161.94,395.53 L166.27,392.88 L166.27,390.28 L170.28,390.28 L172.44,392.75 L176.15,400.10ZM178.00,400.10 L182.95,392.75 L186.65,392.75 L186.65,400.10ZM157.93,410.98 L157.93,403.38 L161.94,400.10 L186.65,400.10 L186.65,410.98ZM148.35,427.04 L151.56,421.48 L161.94,421.48 L161.94,410.98 L197.16,410.98 L197.16,427.04ZM18.00,439.40 L94.60,439.40 L134.14,427.04 L197.16,427.04 L224.96,435.69 L240.40,435.69 L240.40,444.34 L132.29,444.34 L113.76,451.13 L94.60,451.13 L94.60,442.79 L89.04,442.79 L79.78,448.04 L18.00,448.04Z"/>
<g class="r">
<polygon points="301.04,352.29 320.81,368.97 325.75,368.97 328.22,366.50 345.52,366.50 345.52,352.29" fill="#FECC5C" stroke="#FECC5C"/>
<polygon points="286.83,373.91 271.39,373.91 263.36,368.97 247.91,372.37 247.91,359.95 272.01,359.95 274.48,356.86 286.83,354.76" fill="#FECC5C" stroke="#FECC5C"/>
<polygon points="320.81,373.91 320.81,368.97 301.04,352.29 286.83,354.76 286.83,373.91" fill="#FECC5C" stroke="#FECC5C"/>
<polygon points="271.39,373.91 286.83,373.91 286.83,383.92 276.02,383.92" fill="#FD8D3C" stroke="#FD8D3C"/>
<polygon points="296.10,373.91 296.10,389.36 286.83,383.92 286.83,373.91" fill="#FECC5C" stroke="#FECC5C"/>
<polygon points="308.46,389.36 296.10,389.36 296.10,373.91 320.81,373.91 304.13,385.65" fill="#FECC5C" stroke="#FECC5C"/>
<polygon points="296.10,389.36 287.14,394.92 276.02,383.92 286.83,383.92" fill="#FFFFB2" stroke="#FFFFB2"/>
<polygon points="305.37,397.39 300.18,403.44 287.14,394.92 296.10,389.36" fill="#FFFFB2" stroke="#FFFFB2"/>
<polygon points="305.37,397.39 296.10,389.36 308.46,389.36 317.72,397.39" fill="#FFFFB2" stroke="#FFFFB2"/>
<polygon points="305.37,397.39 300.18,403.44 300.18,410.98 302.90,414.07 307.22,414.07 307.22,397.39" fill="#FECC5C" stroke="#FECC5C"/>
<polygon points="307.22,397.39 307.22,409.74 320.81,409.74 320.81,400.10 317.72,397.39" fill="#FECC5C" stroke="#FECC5C"/>
<polygon points="330.70,417.16 320.81,417.16 320.81,404.80 330.70,404.80" fill="#FECC5C" stroke="#FECC5C"/>
<polygon points="310.68,417.16 307.22,414.07 307.22,409.74 320.81,409.74 320.81,417.16" fill="#FD8D3C" stroke="#FD8D3C"/>
<polygon points="302.90,414.07 307.22,414.07 310.68,417.16 307.53,433.84 302.90,433.84 305.61,417.16" fill="#FECC5C" stroke="#FECC5C"/>
<polygon points="330.70,417.16 317.10,429.51 308.33,429.51 310.68,417.16" fill="#FECC5C" stroke="#FECC5C"/>
<polygon points="302.90,439.40 302.90,433.84 307.53,433.84 308.33,429.51 317.10,429.51 317.10,439.40" fill="#FFFFB2" stroke="#FFFFB2"/>
<polygon points="345.52,375.15 345.52,359.95 376.41,359.95 376.41,366.93" fill="#FECC5C" stroke="#FECC5C"/>
<polygon points="345.52,377.00 345.52,375.15 376.41,366.93 376.41,377.00" fill="#FECC5C" stroke="#FECC5C"/>
<polygon points="376.41,377.00 376.41,364.64 388.77,364.64 388.77,377.00" fill="#FECC5C" stroke="#FECC5C"/>
<polygon points="345.52,386.27 345.52,377.00 376.41,377.00 376.41,386.27" fill="#FECC5C" stroke="#FECC5C"/>
<polygon points="339.34,395.72 339.34,386.27 372.09,386.27 377.71,395.72" fill="#FECC5C" stroke="#FECC5C"/>
<polygon points="339.34,400.10 339.34,395.72 360.97,395.72 356.64,404.80" fill="#FECC5C" stroke="#FECC5C"/>
<polygon points="356.64,404.80 360.97,395.72 368.38,395.72 368.38,410.98 356.64,410.98" fill="#FECC5C" stroke="#FECC5C"/>
<polygon points="368.38,395.72 377.71,395.72 378.70,397.39 384.44,395.53 384.44,400.10 380.43,403.38 368.38,403.38" fill="#FECC5C" stroke="#FECC5C"/>
<polygon points="368.38,410.98 368.38,403.38 380.43,403.38 380.43,410.98" fill="#FECC5C" stroke="#FECC5C"/>
<polygon points="356.64,427.04 356.64,410.98 367.14,410.98 367.14,427.04" fill="#FFFFB2" stroke="#FFFFB2"/>
<polygon points="367.14,410.98 367.14,427.04 370.85,427.04 380.43,410.98" fill="#FFFFB2" stroke="#FFFFB2"/>
<polygon points="374.06,421.48 380.43,410.98 384.44,410.98 384.44,421.48" fill="#FFFFB2" stroke="#FFFFB2"/>
<polygon points="376.41,364.64 376.41,359.95 409.77,354.14 462.90,359.21 462.90,364.64" fill="#FECC5C" stroke="#FECC5C"/>
<polygon points="240.50,364.64 240.50,359.95 247.91,359.95 247.91,364.64" fill="#FECC5C" stroke="#FECC5C"/>
<polygon points="388.77,377.00 388.77,364.64 407.30,364.64 407.30,377.00" fill="#FECC5C" stroke="#FECC5C"/>
<polygon points="407.30,377.00 407.30,364.64 432.01,364.64 432.01,377.00" fill="#FECC5C" stroke="#FECC5C"/>
<polygon points="432.01,377.00 432.01,364.64 462.90,364.64 462.90,367.80 448.69,373.91 445.60,377.00" fill="#FECC5C" stroke="#FECC5C"/>
<polygon points="376.41,386.27 376.41,377.00 398.03,377.00 398.03,386.27 388.77,386.27 388.77,390.28 381.11,386.27" fill="#FECC5C" stroke="#FECC5C"/>
<polygon points="398.03,381.94 398.03,377.00 423.98,377.00 419.04,381.94" fill="#FECC5C" stroke="#FECC5C"/>
<polygon points="398.03,386.27 398.03,381.94 413.48,381.94 413.48,386.27 406.06,388.74" fill="#BD0026" stroke="#BD0026"/>
<polygon points="413.48,392.75 413.48,381.94 419.04,381.94 423.98,377.00 445.60,377.00 433.25,389.36 433.25,392.75" fill="#FECC5C" stroke="#FECC5C"/>
<polygon points="372.09,386.27 381.11,386.27 388.77,390.28 388.77,392.88 384.44,395.53 378.70,397.39 377.71,395.72" fill="#FECC5C" stroke="#FECC5C"/>
<polygon points="388.77,390.28 388.77,386.27 398.03,386.27 406.06,388.74 413.48,386.27 413.48,392.75 405.45,392.75 400.50,400.10 398.65,400.10 394.94,392.75 392.78,390.28" fill="#FECC5C" stroke="#FECC5C"/>
<polygon points="409.15,410.98 409.15,392.75 433.25,392.75 433.25,401.71 447.46,410.98" fill="#FFFFB2" stroke="#FFFFB2"/>
<polygon points="419.66,417.16 419.66,410.98 447.46,410.98 447.46,417.16" fill="#FFFFB2" stroke="#FFFFB2"/>
<polygon points="419.66,423.33 419.66,417.16 441.59,417.16 441.59,425.12 438.19,423.33" fill="#FECC5C" stroke="#FECC5C"/>
<polygon points="441.59,417.16 447.46,417.16 447.46,428.28 441.59,425.12" fill="#FFFFB2" stroke="#FFFFB2"/>
<polygon points="419.66,427.04 419.66,423.33 438.19,423.33 447.46,428.28 447.46,435.69" fill="#FFFFB2" stroke="#FFFFB2"/>
<polygon points="447.46,423.33 447.46,435.69 462.90,435.69 462.90,423.33" fill="#FFFFB2" stroke="#FFFFB2"/>
<polygon points="240.50,456.08 317.10,456.08 317.10,451.13 336.26,451.13 354.79,444.34 462.90,444.34 462.90,460.40 240.50,460.40" fill="#FECC5C" stroke="#FECC5C"/>
<polygon points="240.50,456.08 240.50,448.04 302.28,448.04 311.54,442.79 317.10,442.79 317.10,456.08" fill="#FD8D3C" stroke="#FD8D3C"/>
<polygon points="240.50,359.95 272.01,359.95 274.48,356.86 286.83,354.76 301.04,352.29 345.52,352.29 345.52,359.95 376.41,359.95 409.77,354.14 462.90,359.21 462.90,349.20 240.50,349.20" fill="#FECC5C" stroke="#FECC5C"/>
<polygon points="433.25,400.10 433.25,389.36 445.60,377.00 448.69,373.91 462.90,367.80 462.90,400.10" fill="#FECC5C" stroke="#FECC5C"/>
<polygon points="240.50,400.10 240.50,364.64 247.91,364.64 247.91,372.37 263.36,368.97 271.39,373.91 276.02,383.92 287.14,394.92 295.05,400.10" fill="#FECC5C" stroke="#FECC5C"/>
<polygon points="433.25,400.10 462.90,400.10 462.90,410.98 447.46,410.98 433.25,401.71" fill="#FECC5C" stroke="#FECC5C"/>
<polygon points="240.50,400.10 295.05,400.10 300.18,403.44 300.18,410.98 240.50,410.98" fill="#FECC5C" stroke="#FECC5C"/>
<polygon points="447.46,410.98 462.90,410.98 462.90,423.33 447.46,423.33" fill="#FFFFB2" stroke="#FFFFB2"/>
<polygon points="240.50,410.98 300.18,410.98 302.90,414.07 305.61,417.16 302.90,433.84 302.90,439.40 240.50,439.40" fill="#FFFFB2" stroke="#FFFFB2"/>
<polygon points="345.52,386.27 345.52,366.50 328.22,366.50 325.75,368.97 320.81,368.97 320.81,373.91 304.13,385.65 308.46,389.36 317.72,397.39 320.81,400.10 339.34,400.10 339.34,386.27" fill="#FECC5C" stroke="#FECC5C"/>
<polygon points="320.81,400.10 320.81,404.80 330.70,404.80 330.70,410.98 356.64,410.98 356.64,404.80 339.34,400.10" fill="#FFFFB2" stroke="#FFFFB2"/>
<polygon points="330.70,410.98 330.70,417.16 317.10,429.51 317.10,439.40 356.64,427.04 356.64,410.98" fill="#FFFFB2" stroke="#FFFFB2"/>
<polygon points="384.44,400.10 384.44,395.53 388.77,392.88 388.77,390.28 392.78,390.28 394.94,392.75 398.65,400.10" fill="#FFFFB2" stroke="#FFFFB2"/>
<polygon points="400.50,400.10 405.45,392.75 409.15,392.75 409.15,400.10" fill="#FFFFB2" stroke="#FFFFB2"/>
<polygon points="380.43,410.98 380.43,403.38 384.44,400.10 409.15,400.10 409.15,410.98" fill="#FECC5C" stroke="#FECC5C"/>
<polygon points="370.85,427.04 374.06,421.48 384.44,421.48 384.44,410.98 419.66,410.98 419.66,427.04" fill="#FFFFB2" stroke="#FFFFB2"/>
<polygon points="240.50,439.40 317.10,439.40 356.64,427.04 419.66,427.04 447.46,435.69 462.90,435.69 462.90,444.34 354.79,444.34 336.26,451.13 317.10,451.13 317.10,442.79 311.54,442.79 302.28,448.04 240.50,448.04" fill="#FECC5C" stroke="#FECC5C"/>
</g>
<path class="o" d="M301.04,352.29 L320.81,368.97 L325.75,368.97 L328.22,366.50 L345.52,366.50 L345.52,352.29ZM286.83,373.91 L271.39,373.91 L263.36,368.97 L247.91,372.37 L247.91,359.95 L272.01,359.95 L274.48,356.86 L286.83,354.76ZM320.81,373.91 L320.81,368.97 L301.04,352.29 L286.83,354.76 L286.83,373.91ZM271.39,373.91 L286.83,373.91 L286.83,383.92 L276.02,383.92ZM296.10,373.91 L296.10,389.36 L286.83,383.92 L286.83,373.91ZM308.46,389.36 L296.10,389.36 L296.10,373.91 L320.81,373.91 L304.13,385.65ZM296.10,389.36 L287.14,394.92 L276.02,383.92 L286.83,383.92ZM305.37,397.39 L300.18,403.44 L287.14,394.92 L296.10,389.36ZM305.37,397.39 L296.10,389.36 L308.46,389.36 L317.72,397.39ZM305.37,397.39 L300.18,403.44 L300.18,410.98 L302.90,414.07 L307.22,414.07 L307.22,397.39ZM307.22,397.39 L307.22,409.74 L320.81,409.74 L320.81,400.10 L317.72,397.39ZM330.70,417.16 L320.81,417.16 L320.81,404.80 L330.70,404.80ZM310.68,417.16 L307.22,414.07 L307.22,409.74 L320.81,409.74 L320.81,417.16ZM302.90,414.07 L307.22,414.07 L310.68,417.16 L307.53,433.84 L302.90,433.84 L305.61,417.16ZM330.70,417.16 L317.10,429.51 L308.33,429.51 L310.68,417.16ZM302.90,439.40 L302.90,433.84 L307.53,433.84 L308.33,429.51 L317.10,429.51 L317.10,439.40ZM345.52,375.15 L345.52,359.95 L376.41,359.95 L376.41,366.93ZM345.52,377.00 L345.52,375.15 L376.41,366.93 L376.41,377.00ZM376.41,377.00 L376.41,364.64 L388.77,364.64 L388.77,377.00ZM345.52,386.27 L345.52,377.00 L376.41,377.00 L376.41,386.27ZM339.34,395.72 L339.34,386.27 L372.09,386.27 L377.71,395.72ZM339.34,400.10 L339.34,395.72 L360.97,395.72 L356.64,404.80ZM356.64,404.80 L360.97,395.72 L368.38,395.72 L368.38,410.98 L356.64,410.98ZM368.38,395.72 L377.71,395.72 L378.70,397.39 L384.44,395.53 L384.44,400.10 L380.43,403.38 L368.38,403.38ZM368.38,410.98 L368.38,403.38 L380.43,403.38 L380.43,410.98ZM356.64,427.04 L356.64,410.98 L367.14,410.98 L367.14,427.04ZM367.14,410.98 L367.14,427.04 L370.85,427.04 L380.43,410.98ZM374.06,421.48 L380.43,410.98 L384.44,410.98 L384.44,421.48ZM376.41,364.64 L376.41,359.95 L409.77,354.14 L462.90,359.21 L462.90,364.64ZM240.50,364.64 L240.50,359.95 L247.91,359.95 L247.91,364.64ZM388.77,377.00 L388.77,364.64 L407.30,364.64 L407.30,377.00ZM407.30,377.00 L407.30,364.64 L432.01,364.64 L432.01,377.00ZM432.01,377.00 L432.01,364.64 L462.90,364.64 L462.90,367.80 L448.69,373.91 L445.60,377.00ZM376.41,386.27 L376.41,377.00 L398.03,377.00 L398.03,386.27 L388.77,386.27 L388.77,390.28 L381.11,386.27ZM398.03,381.94 L398.03,377.00 L423.98,377.00 L419.04,381.94ZM398.03,386.27 L398.03,381.94 L413.48,381.94 L413.48,386.27 L406.06,388.74ZM413.48,392.75 L413.48,381.94 L419.04,381.94 L423.98,377.00 L445.60,377.00 L433.25,389.36 L433.25,392.75ZM372.09,386.27 L381.11,386.27 L388.77,390.28 L388.77,392.88 L384.44,395.53 L378.70,397.39 L377.71,395.72ZM388.77,390.28 L388.77,386.27 L398.03,386.27 L406.06,388.74 L413.48,386.27 L413.48,392.75 L405.45,392.75 L400.50,400.10 L398.65,400.10 L394.94,392.75 L392.78,390.28ZM409.15,410.98 L409.15,392.75 L433.25,392.75 L433.25,401.71 L447.46,410.98ZM419.66,417.16 L419.66,410.98 L447.46,410.98 L447.46,417.16ZM419.66,423.33 L419.66,417.16 L441.59,417.16 L441.59,425.12 L438.19,423.33ZM441.59,417.16 L447.46,417.16 L447.46,428.28 L441.59,425.12ZM419.66,427.04 L419.66,423.33 L438.19,423.33 L447.46,428.28 L447.46,435.69ZM447.46,423.33 L447.46,435.69 L462.90,435.69 L462.90,423.33ZM240.50,456.08 L317.10,456.08 L317.10,451.13 L336.26,451.13 L354.79,444.34 L462.90,444.34 L462.90,460.40 L240.50,460.40ZM240.50,456.08 L240.50,448.04 L302.28,448.04 L311.54,442.79 L317.10,442.79 L317.10,456.08ZM240.50,359.95 L272.01,359.95 L274.48,356.86 L286.83,354.76 L301.04,352.29 L345.52,352.29 L345.52,359.95 L376.41,359.95 L409.77,354.14 L462.90,359.21 L462.90,349.20 L240.50,349.20ZM433.25,400.10 L433.25,389.36 L445.60,377.00 L448.69,373.91 L462.90,367.80 L462.90,400.10ZM240.50,400.10 L240.50,364.64 L247.91,364.64 L247.91,372.37 L263.36,368.97 L271.39,373.91 L276.02,383.92 L287.14,394.92 L295.05,400.10ZM433.25,400.10 L462.90,400.10 L462.90,410.98 L447.46,410.98 L433.25,401.71ZM240.50,400.10 L295.05,400.10 L300.18,403.44 L300.18,410.98 L240.50,410.98ZM447.46,410.98 L462.90,410.98 L462.90,423.33 L447.46,423.33ZM240.50,410.98 L300.18,410.98 L302.90,414.07 L305.61,417.16 L302.90,433.84 L302.90,439.40 L240.50,439.40ZM345.52,386.27 L345.52,366.50 L328.22,366.50 L325.75,368.97 L320.81,368.97 L320.81,373.91 L304.13,385.65 L308.46,389.36 L317.72,397.39 L320.81,400.10 L339.34,400.10 L339.34,386.27ZM320.81,400.10 L320.81,404.80 L330.70,404.80 L330.70,410.98 L356.64,410.98 L356.64,404.80 L339.34,400.10ZM330.70,410.98 L330.70,417.16 L317.10,429.51 L317.10,439.40 L356.64,427.04 L356.64,410.98ZM384.44,400.10 L384.44,395.53 L388.77,392.88 L388.77,390.28 L392.78,390.28 L394.94,392.75 L398.65,400.10ZM400.50,400.10 L405.45,392.75 L409.15,392.75 L409.15,400.10ZM380.43,410.98 L380.43,403.38 L384.44,400.10 L409.15,400.10 L409.15,410.98ZM370.85,427.04 L374.06,421.48 L384.44,421.48 L384.44,410.98 L419.66,410.98 L419.66,427.04ZM240.50,439.40 L317.10,439.40 L356.64,427.04 L419.66,427.04 L447.46,435.69 L462.90,435.69 L462.90,444.34 L354.79,444.34 L336.26,451.13 L317.10,451.13 L317.10,442.79 L311.54,442.79 L302.28,448.04 L240.50,448.04Z"/>
<g class="r">
<polygon points="523.54,352.29 543.31,368.97 548.25,368.97 550.72,366.50 568.02,366.50 568.02,352.29" fill="#D6604D" stroke="#D6604D"/>
<polygon points="509.33,373.91 493.89,373.91 485.86,368.97 470.41,372.37 470.41,359.95 494.51,359.95 496.98,356.86 509.33,354.76" fill="#F4A582" stroke="#F4A582"/>
<polygon points="543.31,373.91 543.31,368.97 523.54,352.29 509.33,354.76 509.33,373.91" fill="#F4A582" stroke="#F4A582"/>
<polygon points="493.89,373.91 509.33,373.91 509.33,383.92 498.52,383.92" fill="#D6604D" stroke="#D6604D"/>
<polygon points="518.60,373.91 518.60,389.36 509.33,383.92 509.33,373.91" fill="#F4A582" stroke="#F4A582"/>
<polygon points="530.96,389.36 518.60,389.36 518.60,373.91 543.31,373.91 526.63,385.65" fill="#D6604D" stroke="#D6604D"/>
<polygon points="518.60,389.36 509.64,394.92 498.52,383.92 509.33,383.92" fill="#F4A582" stroke="#F4A582"/>
<polygon points="527.87,397.39 522.68,403.44 509.64,394.92 518.60,389.36" fill="#D6604D" stroke="#D6604D"/>
<polygon points="527.87,397.39 518.60,389.36 530.96,389.36 540.22,397.39" fill="#D6604D" stroke="#D6604D"/>
<polygon points="527.87,397.39 522.68,403.44 522.68,410.98 525.40,414.07 529.72,414.07 529.72,397.39" fill="#B2182B" stroke="#B2182B"/>
<polygon points="529.72,397.39 529.72,409.74 543.31,409.74 543.31,400.10 540.22,397.39" fill="#D6604D" stroke="#D6604D"/>
<polygon points="553.20,417.16 543.31,417.16 543.31,404.80 553.20,404.80" fill="#D6604D" stroke="#D6604D"/>
<polygon points="533.18,417.16 529.72,414.07 529.72,409.74 543.31,409.74 543.31,417.16" fill="#D6604D" stroke="#D6604D"/>
<polygon points="525.40,414.07 529.72,414.07 533.18,417.16 530.03,433.84 525.40,433.84 528.11,417.16" fill="#D6604D" stroke="#D6604D"/>
<polygon points="553.20,417.16 539.60,429.51 530.83,429.51 533.18,417.16" fill="#D6604D" stroke="#D6604D"/>
<polygon points="525.40,439.40 525.40,433.84 530.03,433.84 530.83,429.51 539.60,429.51 539.60,439.40" fill="#F4A582" stroke="#F4A582"/>
<polygon points="568.02,375.15 568.02,359.95 598.91,359.95 598.91,366.93" fill="#D6604D" stroke="#D6604D"/>
<polygon points="568.02,377.00 568.02,375.15 598.91,366.93 598.91,377.00" fill="#D6604D" stroke="#D6604D"/>
<polygon points="598.91,377.00 598.91,364.64 611.27,364.64 611.27,377.00" fill="#FDDBC7" stroke="#FDDBC7"/>
<polygon points="568.02,386.27 568.02,377.00 598.91,377.00 598.91,386.27" fill="#F4A582" stroke="#F4A582"/>
<polygon points="561.84,395.72 561.84,386.27 594.59,386.27 600.21,395.72" fill="#B2182B" stroke="#B2182B"/>
<polygon points="561.84,400.10 561.84,395.72 583.47,395.72 579.14,404.80" fill="#FDDBC7" stroke="#FDDBC7"/>
<polygon points="579.14,404.80 583.47,395.72 590.88,395.72 590.88,410.98 579.14,410.98" fill="#F4A582" stroke="#F4A582"/>
<polygon points="590.88,395.72 600.21,395.72 601.20,397.39 606.94,395.53 606.94,400.10 602.93,403.38 590.88,403.38" fill="#D6604D" stroke="#D6604D"/>
<polygon points="590.88,410.98 590.88,403.38 602.93,403.38 602.93,410.98" fill="#D6604D" stroke="#D6604D"/>
<polygon points="579.14,427.04 579.14,410.98 589.64,410.98 589.64,427.04" fill="#D6604D" stroke="#D6604D"/>
<polygon points="589.64,410.98 589.64,427.04 593.35,427.04 602.93,410.98" fill="#F4A582" stroke="#F4A582"/>
<polygon points="596.56,421.48 602.93,410.98 606.94,410.98 606.94,421.48" fill="#D6604D" stroke="#D6604D"/>
<polygon points="598.91,364.64 598.91,359.95 632.27,354.14 685.40,359.21 685.40,364.64" fill="#FDDBC7" stroke="#FDDBC7"/>
<polygon points="463.00,364.64 463.00,359.95 470.41,359.95 470.41,364.64" fill="#FDDBC7" stroke="#FDDBC7"/>
<polygon points="611.27,377.00 611.27,364.64 629.80,364.64 629.80,377.00" fill="#FDDBC7" stroke="#FDDBC7"/>
<polygon points="629.80,377.00 629.80,364.64 654.51,364.64 654.51,377.00" fill="#F4A582" stroke="#F4A582"/>
<polygon points="654.51,377.00 654.51,364.64 685.40,364.64 685.40,367.80 671.19,373.91 668.10,377.00" fill="#D6604D" stroke="#D6604D"/>
<polygon points="598.91,386.27 598.91,377.00 620.53,377.00 620.53,386.27 611.27,386.27 611.27,390.28 603.61,386.27" fill="#D6604D" stroke="#D6604D"/>
<polygon points="620.53,381.94 620.53,377.00 646.48,377.00 641.54,381.94" fill="#D6604D" stroke="#D6604D"/>
<polygon points="620.53,386.27 620.53,381.94 635.98,381.94 635.98,386.27 628.56,388.74" fill="#FDDBC7" stroke="#FDDBC7"/>
<polygon points="635.98,392.75 635.98,381.94 641.54,381.94 646.48,377.00 668.10,377.00 655.75,389.36 655.75,392.75" fill="#D6604D" stroke="#D6604D"/>
<polygon points="594.59,386.27 603.61,386.27 611.27,390.28 611.27,392.88 606.94,395.53 601.20,397.39 600.21,395.72" fill="#D6604D" stroke="#D6604D"/>
<polygon points="611.27,390.28 611.27,386.27 620.53,386.27 628.56,388.74 635.98,386.27 635.98,392.75 627.95,392.75 623.00,400.10 621.15,400.10 617.44,392.75 615.28,390.28" fill="#D6604D" stroke="#D6604D"/>
<polygon points="631.65,410.98 631.65,392.75 655.75,392.75 655.75,401.71 669.96,410.98" fill="#B2182B" stroke="#B2182B"/>
<polygon points="642.16,417.16 642.16,410.98 669.96,410.98 669.96,417.16" fill="#D6604D" stroke="#D6604D"/>
<polygon points="642.16,423.33 642.16,417.16 664.09,417.16 664.09,425.12 660.69,423.33" fill="#D6604D" stroke="#D6604D"/>
<polygon points="664.09,417.16 669.96,417.16 669.96,428.28 664.09,425.12" fill="#FDDBC7" stroke="#FDDBC7"/>
<polygon points="642.16,427.04 642.16,423.33 660.69,423.33 669.96,428.28 669.96,435.69" fill="#F4A582" stroke="#F4A582"/>
<polygon points="669.96,423.33 669.96,435.69 685.40,435.69 685.40,423.33" fill="#D6604D" stroke="#D6604D"/>
<polygon points="463.00,456.08 539.60,456.08 539.60,451.13 558.76,451.13 577.29,444.34 685.40,444.34 685.40,460.40 463.00,460.40" fill="#D6604D" stroke="#D6604D"/>
<polygon points="463.00,456.08 463.00,448.04 524.78,448.04 534.04,442.79 539.60,442.79 539.60,456.08" fill="#F7F7F7" stroke="#F7F7F7"/>
<polygon points="463.00,359.95 494.51,359.95 496.98,356.86 509.33,354.76 523.54,352.29 568.02,352.29 568.02,359.95 598.91,359.95 632.27,354.14 685.40,359.21 685.40,349.20 463.00,349.20" fill="#F7F7F7" stroke="#F7F7F7"/>
<polygon points="655.75,400.10 655.75,389.36 668.10,377.00 671.19,373.91 685.40,367.80 685.40,400.10" fill="#B2182B" stroke="#B2182B"/>
<polygon points="463.00,400.10 463.00,364.64 470.41,364.64 470.41,372.37 485.86,368.97 493.89,373.91 498.52,383.92 509.64,394.92 517.55,400.10" fill="#B2182B" stroke="#B2182B"/>
<polygon points="655.75,400.10 685.40,400.10 685.40,410.98 669.96,410.98 655.75,401.71" fill="#B2182B" stroke="#B2182B"/>
<polygon points="463.00,400.10 517.55,400.10 522.68,403.44 522.68,410.98 463.00,410.98" fill="#B2182B" stroke="#B2182B"/>
<polygon points="669.96,410.98 685.40,410.98 685.40,423.33 669.96,423.33" fill="#B2182B" stroke="#B2182B"/>
<polygon points="463.00,410.98 522.68,410.98 525.40,414.07 528.11,417.16 525.40,433.84 525.40,439.40 463.00,439.40" fill="#B2182B" stroke="#B2182B"/>
<polygon points="568.02,386.27 568.02,366.50 550.72,366.50 548.25,368.97 543.31,368.97 543.31,373.91 526.63,385.65 530.96,389.36 540.22,397.39 543.31,400.10 561.84,400.10 561.84,386.27" fill="#D6604D" stroke="#D6604D"/>
<polygon points="543.31,400.10 543.31,404.80 553.20,404.80 553.20,410.98 579.14,410.98 579.14,404.80 561.84,400.10" fill="#F4A582" stroke="#F4A582"/>
<polygon points="553.20,410.98 553.20,417.16 539.60,429.51 539.60,439.40 579.14,427.04 579.14,410.98" fill="#B2182B" stroke="#B2182B"/>
<polygon points="606.94,400.10 606.94,395.53 611.27,392.88 611.27,390.28 615.28,390.28 617.44,392.75 621.15,400.10" fill="#B2182B" stroke="#B2182B"/>
<polygon points="623.00,400.10 627.95,392.75 631.65,392.75 631.65,400.10" fill="#D6604D" stroke="#D6604D"/>
<polygon points="602.93,410.98 602.93,403.38 606.94,400.10 631.65,400.10 631.65,410.98" fill="#B2182B" stroke="#B2182B"/>
<polygon points="593.35,427.04 596.56,421.48 606.94,421.48 606.94,410.98 642.16,410.98 642.16,427.04" fill="#B2182B" stroke="#B2182B"/>
<polygon points="463.00,439.40 539.60,439.40 579.14,427.04 642.16,427.04 669.96,435.69 685.40,435.69 685.40,444.34 577.29,444.34 558.76,451.13 539.60,451.13 539.60,442.79 534.04,442.79 524.78,448.04 463.00,448.04" fill="#FDDBC7" stroke="#FDDBC7"/>
</g>
<path class="o" d="M523.54,352.29 L543.31,368.97 L548.25,368.97 L550.72,366.50 L568.02,366.50 L568.02,352.29ZM509.33,373.91 L493.89,373.91 L485.86,368.97 L470.41,372.37 L470.41,359.95 L494.51,359.95 L496.98,356.86 L509.33,354.76ZM543.31,373.91 L543.31,368.97 L523.54,352.29 L509.33,354.76 L509.33,373.91ZM493.89,373.91 L509.33,373.91 L509.33,383.92 L498.52,383.92ZM518.60,373.91 L518.60,389.36 L509.33,383.92 L509.33,373.91ZM530.96,389.36 L518.60,389.36 L518.60,373.91 L543.31,373.91 L526.63,385.65ZM518.60,389.36 L509.64,394.92 L498.52,383.92 L509.33,383.92ZM527.87,397.39 L522.68,403.44 L509.64,394.92 L518.60,389.36ZM527.87,397.39 L518.60,389.36 L530.96,389.36 L540.22,397.39ZM527.87,397.39 L522.68,403.44 L522.68,410.98 L525.40,414.07 L529.72,414.07 L529.72,397.39ZM529.72,397.39 L529.72,409.74 L543.31,409.74 L543.31,400.10 L540.22,397.39ZM553.20,417.16 L543.31,417.16 L543.31,404.80 L553.20,404.80ZM533.18,417.16 L529.72,414.07 L529.72,409.74 L543.31,409.74 L543.31,417.16ZM525.40,414.07 L529.72,414.07 L533.18,417.16 L530.03,433.84 L525.40,433.84 L528.11,417.16ZM553.20,417.16 L539.60,429.51 L530.83,429.51 L533.18,417.16ZM525.40,439.40 L525.40,433.84 L530.03,433.84 L530.83,429.51 L539.60,429.51 L539.60,439.40ZM568.02,375.15 L568.02,359.95 L598.91,359.95 L598.91,366.93ZM568.02,377.00 L568.02,375.15 L598.91,366.93 L598.91,377.00ZM598.91,377.00 L598.91,364.64 L611.27,364.64 L611.27,377.00ZM568.02,386.27 L568.02,377.00 L598.91,377.00 L598.91,386.27ZM561.84,395.72 L561.84,386.27 L594.59,386.27 L600.21,395.72ZM561.84,400.10 L561.84,395.72 L583.47,395.72 L579.14,404.80ZM579.14,404.80 L583.47,395.72 L590.88,395.72 L590.88,410.98 L579.14,410.98ZM590.88,395.72 L600.21,395.72 L601.20,397.39 L606.94,395.53 L606.94,400.10 L602.93,403.38 L590.88,403.38ZM590.88,410.98 L590.88,403.38 L602.93,403.38 L602.93,410.98ZM579.14,427.04 L579.14,410.98 L589.64,410.98 L589.64,427.04ZM589.64,410.98 L589.64,427.04 L593.35,427.04 L602.93,410.98ZM596.56,421.48 L602.93,410.98 L606.94,410.98 L606.94,421.48ZM598.91,364.64 L598.91,359.95 L632.27,354.14 L685.40,359.21 L685.40,364.64ZM463.00,364.64 L463.00,359.95 L470.41,359.95 L470.41,364.64ZM611.27,377.00 L611.27,364.64 L629.80,364.64 L629.80,377.00ZM629.80,377.00 L629.80,364.64 L654.51,364.64 L654.51,377.00ZM654.51,377.00 L654.51,364.64 L685.40,364.64 L685.40,367.80 L671.19,373.91 L668.10,377.00ZM598.91,386.27 L598.91,377.00 L620.53,377.00 L620.53,386.27 L611.27,386.27 L611.27,390.28 L603.61,386.27ZM620.53,381.94 L620.53,377.00 L646.48,377.00 L641.54,381.94ZM620.53,386.27 L620.53,381.94 L635.98,381.94 L635.98,386.27 L628.56,388.74ZM635.98,392.75 L635.98,381.94 L641.54,381.94 L646.48,377.00 L668.10,377.00 L655.75,389.36 L655.75,392.75ZM594.59,386.27 L603.61,386.27 L611.27,390.28 L611.27,392.88 L606.94,395.53 L601.20,397.39 L600.21,395.72ZM611.27,390.28 L611.27,386.27 L620.53,386.27 L628.56,388.74 L635.98,386.27 L635.98,392.75 L627.95,392.75 L623.00,400.10 L621.15,400.10 L617.44,392.75 L615.28,390.28ZM631.65,410.98 L631.65,392.75 L655.75,392.75 L655.75,401.71 L669.96,410.98ZM642.16,417.16 L642.16,410.98 L669.96,410.98 L669.96,417.16ZM642.16,423.33 L642.16,417.16 L664.09,417.16 L664.09,425.12 L660.69,423.33ZM664.09,417.16 L669.96,417.16 L669.96,428.28 L664.09,425.12ZM642.16,427.04 L642.16,423.33 L660.69,423.33 L669.96,428.28 L669.96,435.69ZM669.96,423.33 L669.96,435.69 L685.40,435.69 L685.40,423.33ZM463.00,456.08 L539.60,456.08 L539.60,451.13 L558.76,451.13 L577.29,444.34 L685.40,444.34 L685.40,460.40 L463.00,460.40ZM463.00,456.08 L463.00,448.04 L524.78,448.04 L534.04,442.79 L539.60,442.79 L539.60,456.08ZM463.00,359.95 L494.51,359.95 L496.98,356.86 L509.33,354.76 L523.54,352.29 L568.02,352.29 L568.02,359.95 L598.91,359.95 L632.27,354.14 L685.40,359.21 L685.40,349.20 L463.00,349.20ZM655.75,400.10 L655.75,389.36 L668.10,377.00 L671.19,373.91 L685.40,367.80 L685.40,400.10ZM463.00,400.10 L463.00,364.64 L470.41,364.64 L470.41,372.37 L485.86,368.97 L493.89,373.91 L498.52,383.92 L509.64,394.92 L517.55,400.10ZM655.75,400.10 L685.40,400.10 L685.40,410.98 L669.96,410.98 L655.75,401.71ZM463.00,400.10 L517.55,400.10 L522.68,403.44 L522.68,410.98 L463.00,410.98ZM669.96,410.98 L685.40,410.98 L685.40,423.33 L669.96,423.33ZM463.00,410.98 L522.68,410.98 L525.40,414.07 L528.11,417.16 L525.40,433.84 L525.40,439.40 L463.00,439.40ZM568.02,386.27 L568.02,366.50 L550.72,366.50 L548.25,368.97 L543.31,368.97 L543.31,373.91 L526.63,385.65 L530.96,389.36 L540.22,397.39 L543.31,400.10 L561.84,400.10 L561.84,386.27ZM543.31,400.10 L543.31,404.80 L553.20,404.80 L553.20,410.98 L579.14,410.98 L579.14,404.80 L561.84,400.10ZM553.20,410.98 L553.20,417.16 L539.60,429.51 L539.60,439.40 L579.14,427.04 L579.14,410.98ZM606.94,400.10 L606.94,395.53 L611.27,392.88 L611.27,390.28 L615.28,390.28 L617.44,392.75 L621.15,400.10ZM623.00,400.10 L627.95,392.75 L631.65,392.75 L631.65,400.10ZM602.93,410.98 L602.93,403.38 L606.94,400.10 L631.65,400.10 L631.65,410.98ZM593.35,427.04 L596.56,421.48 L606.94,421.48 L606.94,410.98 L642.16,410.98 L642.16,427.04ZM463.00,439.40 L539.60,439.40 L579.14,427.04 L642.16,427.04 L669.96,435.69 L685.40,435.69 L685.40,444.34 L577.29,444.34 L558.76,451.13 L539.60,451.13 L539.60,442.79 L534.04,442.79 L524.78,448.04 L463.00,448.04Z"/>
<path d="M18.3,15 V460.6" stroke="#000" stroke-width="0.3" fill="none"/><path d="M18,15.5 H685" stroke="#000" stroke-width="0.45" fill="none"/>
<rect x="0" y="0" width="18" height="524" fill="#fff"/>
<rect x="0" y="0" width="685" height="15" fill="#fff"/>
<rect x="0" y="460.75" width="685" height="64" fill="#fff"/>
<text class="t" x="117.5" y="10.6">GWL</text>
<text class="t" x="338" y="10.6">Time</text>
<text class="t" x="540" y="10.6">Ratio Time/GWL</text>
<text class="t" transform="translate(10.8,110.5) rotate(-90)" xml:space="preserve" style="white-space:pre">DJF /  SSP unc.</text>
<text class="t" transform="translate(10.8,226.2) rotate(-90)" xml:space="preserve" style="white-space:pre">DJF /  GCM unc.</text>
<text class="t" transform="translate(10.8,338.2) rotate(-90)" xml:space="preserve" style="white-space:pre">JJA /  SSP unc.</text>
<text class="t" transform="translate(10.8,448.9) rotate(-90)" xml:space="preserve" style="white-space:pre">JJA /  GCM unc.</text>
<rect x="44.0" y="486.3" width="65.9" height="21.9" fill="#FFFFB2"/>
<rect x="109.6" y="486.3" width="65.9" height="21.9" fill="#FECC5C"/>
<rect x="175.2" y="486.3" width="65.8" height="21.9" fill="#FD8D3C"/>
<rect x="240.7" y="486.3" width="65.9" height="21.9" fill="#F03B20"/>
<rect x="306.2" y="486.3" width="65.9" height="21.9" fill="#BD0026"/>
<polygon points="371.8,486.3 436.9,497.2 371.8,508.2" fill="#BD0026" stroke="#000" stroke-width="0.6" stroke-linejoin="round"/>
<path d="M44,508 H371.8" stroke="#333" stroke-width="0.6" fill="none"/>
<path d="M44.0,508 v3.2" stroke="#222" stroke-width="0.7"/>
<text class="k" x="44.0" y="520.4">0</text>
<path d="M109.6,508 v3.2" stroke="#222" stroke-width="0.7"/>
<text class="k" x="109.6" y="520.4">0.4</text>
<path d="M175.2,508 v3.2" stroke="#222" stroke-width="0.7"/>
<text class="k" x="175.2" y="520.4">0.8</text>
<path d="M240.7,508 v3.2" stroke="#222" stroke-width="0.7"/>
<text class="k" x="240.7" y="520.4">1.2</text>
<path d="M306.2,508 v3.2" stroke="#222" stroke-width="0.7"/>
<text class="k" x="306.2" y="520.4">1.6</text>
<path d="M371.8,508 v3.2" stroke="#222" stroke-width="0.7"/>
<text class="k" x="371.8" y="520.4">2</text>
<text class="b" x="139" y="478.6">SSP/GCM uncertainty [°C]</text>
<rect x="486.6" y="486.3" width="47.3" height="21.9" fill="#4393C3"/>
<rect x="533.6" y="486.3" width="20.4" height="21.9" fill="#92C5DE"/>
<rect x="553.7" y="486.3" width="17.3" height="21.9" fill="#D1E5F0"/>
<rect x="570.7" y="486.3" width="20.7" height="21.9" fill="#F7F7F7"/>
<rect x="591.1" y="486.3" width="18.0" height="21.9" fill="#FDDBC7"/>
<rect x="608.8" y="486.3" width="19.4" height="21.9" fill="#F4A582"/>
<rect x="627.9" y="486.3" width="47.7" height="21.9" fill="#D6604D"/>
<polygon points="486.6,486.3 477,497.2 486.6,508" fill="#2166AC" stroke="#000" stroke-width="0.6" stroke-linejoin="round"/>
<polygon points="675.3,486.3 685,497.2 675.3,508" fill="#B2182B" stroke="#000" stroke-width="0.6" stroke-linejoin="round"/>
<path d="M486.6,508 H675.3" stroke="#333" stroke-width="0.6" fill="none"/>
<path d="M486.6,508 v3.2" stroke="#222" stroke-width="0.7"/>
<text class="k" x="486.6" y="520.4">0.25</text>
<path d="M533.6,508 v3.2" stroke="#222" stroke-width="0.7"/>
<text class="k" x="533.6" y="520.4">0.5</text>
<path d="M553.7,508 v3.2" stroke="#222" stroke-width="0.7"/>
<text class="k" x="553.7" y="520.4">0.7</text>
<path d="M570.7,508 v3.2" stroke="#222" stroke-width="0.7"/>
<text class="k" x="570.7" y="520.4">0.9</text>
<path d="M591.1,508 v3.2" stroke="#222" stroke-width="0.7"/>
<text class="k" x="591.1" y="520.4">1.1</text>
<path d="M608.8,508 v3.2" stroke="#222" stroke-width="0.7"/>
<text class="k" x="608.8" y="520.4">1.5</text>
<path d="M627.9,508 v3.2" stroke="#222" stroke-width="0.7"/>
<text class="k" x="627.9" y="520.4">2</text>
<path d="M675.3,508 v3.2" stroke="#222" stroke-width="0.7"/>
<text class="k" x="675.3" y="520.4">4</text>
<text class="b" x="507" y="478.6">SD TIME/GWL [−]</text>
</svg></body></html>
